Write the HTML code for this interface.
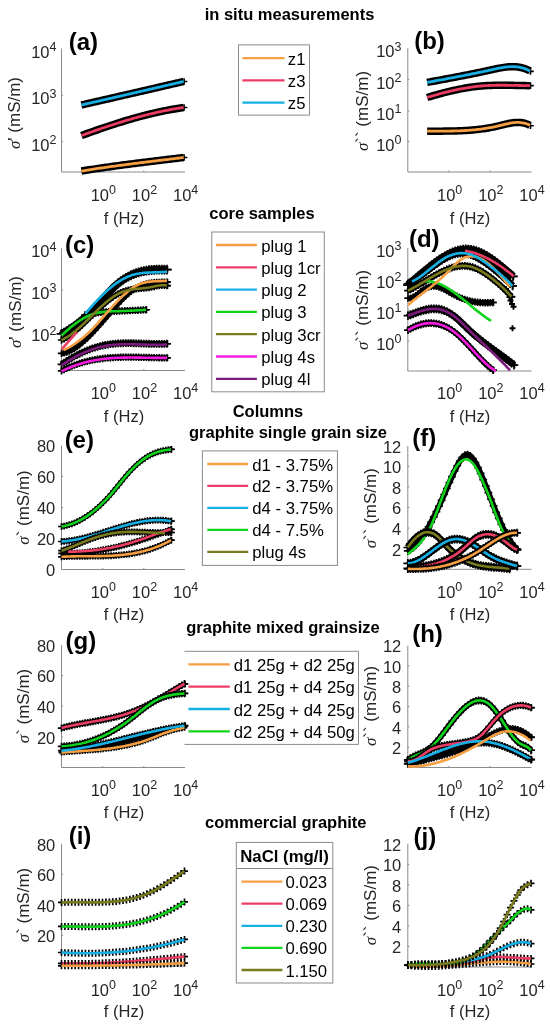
<!DOCTYPE html><html><head><meta charset="utf-8"><style>html,body{margin:0;padding:0;background:#fff;overflow:hidden;}svg{display:block;will-change:transform;}</style></head><body><svg width="550" height="1026" viewBox="0 0 550 1026" style="font-family:&quot;Liberation Sans&quot;,sans-serif">
<rect width="550" height="1026" fill="#fff"/>
<text x="289.5" y="20.3" font-size="16.5" text-anchor="middle" font-weight="bold" fill="#000" >in situ measurements</text>
<text x="262" y="218.9" font-size="16.5" text-anchor="middle" font-weight="bold" fill="#000" >core samples</text>
<text x="268" y="417" font-size="16.5" text-anchor="middle" font-weight="bold" fill="#000" >Columns</text>
<text x="288" y="437.9" font-size="16.5" text-anchor="middle" font-weight="bold" fill="#000" >graphite single grain size</text>
<text x="283" y="633.2" font-size="16.5" text-anchor="middle" font-weight="bold" fill="#000" >graphite mixed grainsize</text>
<text x="285.8" y="827.5" font-size="16.5" text-anchor="middle" font-weight="bold" fill="#000" >commercial graphite</text>
<path d="M61.5,48.5V172H185" fill="none" stroke="#8a8a8a" stroke-width="1"/>
<path d="M61.5,95.30h1.5" stroke="#8a8a8a" stroke-width="1"/>
<path d="M61.5,141.60h1.5" stroke="#8a8a8a" stroke-width="1"/>
<path d="M102.67,172v-1.5" stroke="#8a8a8a" stroke-width="1"/>
<path d="M143.83,172v-1.5" stroke="#8a8a8a" stroke-width="1"/>
<text x="56.5" y="58.00" font-size="16.5" text-anchor="end" fill="#262626">10<tspan font-size="12.5" dy="-6.7">4</tspan></text>
<text x="56.5" y="104.30" font-size="16.5" text-anchor="end" fill="#262626">10<tspan font-size="12.5" dy="-6.7">3</tspan></text>
<text x="56.5" y="150.60" font-size="16.5" text-anchor="end" fill="#262626">10<tspan font-size="12.5" dy="-6.7">2</tspan></text>
<text x="90.67" y="201" font-size="16.5" fill="#262626">10<tspan font-size="12.5" dy="-6.6">0</tspan></text>
<text x="131.83" y="201" font-size="16.5" fill="#262626">10<tspan font-size="12.5" dy="-6.6">2</tspan></text>
<text x="173.00" y="201" font-size="16.5" fill="#262626">10<tspan font-size="12.5" dy="-6.6">4</tspan></text>
<text x="124" y="223.5" font-size="16.5" text-anchor="middle" font-weight="normal" fill="#262626" >f (Hz)</text>
<text transform="translate(20,113) rotate(-90)" x="0" y="0" font-size="17" text-anchor="middle" fill="#262626"><tspan font-style="italic" font-family="Liberation Serif">σ</tspan>' (mS/m)</text>
<text x="83.4" y="49.6" font-size="24" text-anchor="middle" font-weight="bold" fill="#000" >(a)</text>
<path d="M81.40,104.97L82.93,104.63L84.45,104.28L85.98,103.94L87.50,103.59L89.03,103.24L90.55,102.90L92.08,102.55L93.60,102.20L95.13,101.85L96.65,101.51L98.18,101.16L99.70,100.81L101.23,100.46L102.76,100.11L104.28,99.76L105.81,99.42L107.33,99.07L108.86,98.72L110.38,98.37L111.91,98.02L113.43,97.67L114.96,97.32L116.48,96.97L118.01,96.62L119.53,96.27L121.06,95.92L122.59,95.56L124.11,95.21L125.64,94.86L127.16,94.51L128.69,94.16L130.21,93.81L131.74,93.46L133.26,93.11L134.79,92.75L136.31,92.40L137.84,92.05L139.36,91.70L140.89,91.35L142.41,90.99L143.94,90.64L145.47,90.29L146.99,89.94L148.52,89.59L150.04,89.23L151.57,88.88L153.09,88.53L154.62,88.18L156.14,87.82L157.67,87.47L159.19,87.12L160.72,86.77L162.24,86.41L163.77,86.06L165.30,85.71L166.82,85.36L168.35,85.00L169.87,84.65L171.40,84.30L172.92,83.95L174.45,83.59L175.97,83.24L177.50,82.89L179.02,82.54L180.55,82.19L182.07,81.83L183.60,81.48" fill="none" stroke="#000" stroke-width="7.5" stroke-linejoin="round"/>
<path d="M180.80,81.50H187.40M184.10,78.20V84.80" stroke="#000" stroke-width="1.6"/>
<path d="M81.40,104.97L82.93,104.63L84.45,104.28L85.98,103.94L87.50,103.59L89.03,103.24L90.55,102.90L92.08,102.55L93.60,102.20L95.13,101.85L96.65,101.51L98.18,101.16L99.70,100.81L101.23,100.46L102.76,100.11L104.28,99.76L105.81,99.42L107.33,99.07L108.86,98.72L110.38,98.37L111.91,98.02L113.43,97.67L114.96,97.32L116.48,96.97L118.01,96.62L119.53,96.27L121.06,95.92L122.59,95.56L124.11,95.21L125.64,94.86L127.16,94.51L128.69,94.16L130.21,93.81L131.74,93.46L133.26,93.11L134.79,92.75L136.31,92.40L137.84,92.05L139.36,91.70L140.89,91.35L142.41,90.99L143.94,90.64L145.47,90.29L146.99,89.94L148.52,89.59L150.04,89.23L151.57,88.88L153.09,88.53L154.62,88.18L156.14,87.82L157.67,87.47L159.19,87.12L160.72,86.77L162.24,86.41L163.77,86.06L165.30,85.71L166.82,85.36L168.35,85.00L169.87,84.65L171.40,84.30L172.92,83.95L174.45,83.59L175.97,83.24L177.50,82.89L179.02,82.54L180.55,82.19L182.07,81.83L183.60,81.48" fill="none" stroke="#16B0E4" stroke-width="2.8"/>
<path d="M81.40,135.56L82.93,135.01L84.45,134.45L85.98,133.90L87.50,133.35L89.03,132.81L90.55,132.26L92.08,131.72L93.60,131.18L95.13,130.65L96.65,130.12L98.18,129.59L99.70,129.06L101.23,128.53L102.76,128.01L104.28,127.50L105.81,126.98L107.33,126.47L108.86,125.97L110.38,125.46L111.91,124.97L113.43,124.47L114.96,123.98L116.48,123.49L118.01,123.01L119.53,122.53L121.06,122.06L122.59,121.59L124.11,121.12L125.64,120.66L127.16,120.21L128.69,119.75L130.21,119.31L131.74,118.87L133.26,118.43L134.79,118.00L136.31,117.58L137.84,117.16L139.36,116.74L140.89,116.33L142.41,115.93L143.94,115.53L145.47,115.14L146.99,114.76L148.52,114.38L150.04,114.00L151.57,113.64L153.09,113.27L154.62,112.92L156.14,112.57L157.67,112.23L159.19,111.90L160.72,111.57L162.24,111.25L163.77,110.94L165.30,110.63L166.82,110.33L168.35,110.04L169.87,109.75L171.40,109.48L172.92,109.21L174.45,108.94L175.97,108.69L177.50,108.44L179.02,108.20L180.55,107.97L182.07,107.75L183.60,107.54" fill="none" stroke="#000" stroke-width="7.5" stroke-linejoin="round"/>
<path d="M180.80,107.50H187.40M184.10,104.20V110.80" stroke="#000" stroke-width="1.6"/>
<path d="M81.40,135.56L82.93,135.01L84.45,134.45L85.98,133.90L87.50,133.35L89.03,132.81L90.55,132.26L92.08,131.72L93.60,131.18L95.13,130.65L96.65,130.12L98.18,129.59L99.70,129.06L101.23,128.53L102.76,128.01L104.28,127.50L105.81,126.98L107.33,126.47L108.86,125.97L110.38,125.46L111.91,124.97L113.43,124.47L114.96,123.98L116.48,123.49L118.01,123.01L119.53,122.53L121.06,122.06L122.59,121.59L124.11,121.12L125.64,120.66L127.16,120.21L128.69,119.75L130.21,119.31L131.74,118.87L133.26,118.43L134.79,118.00L136.31,117.58L137.84,117.16L139.36,116.74L140.89,116.33L142.41,115.93L143.94,115.53L145.47,115.14L146.99,114.76L148.52,114.38L150.04,114.00L151.57,113.64L153.09,113.27L154.62,112.92L156.14,112.57L157.67,112.23L159.19,111.90L160.72,111.57L162.24,111.25L163.77,110.94L165.30,110.63L166.82,110.33L168.35,110.04L169.87,109.75L171.40,109.48L172.92,109.21L174.45,108.94L175.97,108.69L177.50,108.44L179.02,108.20L180.55,107.97L182.07,107.75L183.60,107.54" fill="none" stroke="#EC3D64" stroke-width="2.8"/>
<path d="M81.40,171.01L82.93,170.77L84.45,170.53L85.98,170.29L87.50,170.05L89.03,169.81L90.55,169.58L92.08,169.35L93.60,169.12L95.13,168.89L96.65,168.66L98.18,168.44L99.70,168.21L101.23,167.99L102.76,167.77L104.28,167.55L105.81,167.33L107.33,167.12L108.86,166.91L110.38,166.69L111.91,166.48L113.43,166.27L114.96,166.06L116.48,165.86L118.01,165.65L119.53,165.45L121.06,165.24L122.59,165.04L124.11,164.84L125.64,164.64L127.16,164.44L128.69,164.24L130.21,164.05L131.74,163.85L133.26,163.65L134.79,163.46L136.31,163.27L137.84,163.07L139.36,162.88L140.89,162.69L142.41,162.50L143.94,162.31L145.47,162.12L146.99,161.93L148.52,161.75L150.04,161.56L151.57,161.37L153.09,161.19L154.62,161.00L156.14,160.82L157.67,160.63L159.19,160.45L160.72,160.26L162.24,160.08L163.77,159.89L165.30,159.71L166.82,159.53L168.35,159.34L169.87,159.16L171.40,158.98L172.92,158.79L174.45,158.61L175.97,158.43L177.50,158.24L179.02,158.06L180.55,157.88L182.07,157.69L183.60,157.51" fill="none" stroke="#000" stroke-width="7.5" stroke-linejoin="round"/>
<path d="M180.80,157.50H187.40M184.10,154.20V160.80" stroke="#000" stroke-width="1.6"/>
<path d="M81.40,171.01L82.93,170.77L84.45,170.53L85.98,170.29L87.50,170.05L89.03,169.81L90.55,169.58L92.08,169.35L93.60,169.12L95.13,168.89L96.65,168.66L98.18,168.44L99.70,168.21L101.23,167.99L102.76,167.77L104.28,167.55L105.81,167.33L107.33,167.12L108.86,166.91L110.38,166.69L111.91,166.48L113.43,166.27L114.96,166.06L116.48,165.86L118.01,165.65L119.53,165.45L121.06,165.24L122.59,165.04L124.11,164.84L125.64,164.64L127.16,164.44L128.69,164.24L130.21,164.05L131.74,163.85L133.26,163.65L134.79,163.46L136.31,163.27L137.84,163.07L139.36,162.88L140.89,162.69L142.41,162.50L143.94,162.31L145.47,162.12L146.99,161.93L148.52,161.75L150.04,161.56L151.57,161.37L153.09,161.19L154.62,161.00L156.14,160.82L157.67,160.63L159.19,160.45L160.72,160.26L162.24,160.08L163.77,159.89L165.30,159.71L166.82,159.53L168.35,159.34L169.87,159.16L171.40,158.98L172.92,158.79L174.45,158.61L175.97,158.43L177.50,158.24L179.02,158.06L180.55,157.88L182.07,157.69L183.60,157.51" fill="none" stroke="#F6A043" stroke-width="2.8"/>
<rect x="238.5" y="44.9" width="71" height="70.2" fill="#fff" stroke="#8a8a8a" stroke-width="1"/>
<path d="M242.4,58.20H284.5" stroke="#F6A043" stroke-width="2.3"/>
<text x="287.8" y="64.7" font-size="16.7" text-anchor="start" font-weight="normal" fill="#000" >z1</text>
<path d="M242.4,80.45H284.5" stroke="#EC3D64" stroke-width="2.3"/>
<text x="287.8" y="86.95" font-size="16.7" text-anchor="start" font-weight="normal" fill="#000" >z3</text>
<path d="M242.4,102.70H284.5" stroke="#16B0E4" stroke-width="2.3"/>
<text x="287.8" y="109.2" font-size="16.7" text-anchor="start" font-weight="normal" fill="#000" >z5</text>
<path d="M407.8,48.2V172H531.5" fill="none" stroke="#8a8a8a" stroke-width="1"/>
<path d="M407.8,79.60h1.5" stroke="#8a8a8a" stroke-width="1"/>
<path d="M407.8,111.00h1.5" stroke="#8a8a8a" stroke-width="1"/>
<path d="M407.8,141.60h1.5" stroke="#8a8a8a" stroke-width="1"/>
<path d="M448.97,172v-1.5" stroke="#8a8a8a" stroke-width="1"/>
<path d="M490.13,172v-1.5" stroke="#8a8a8a" stroke-width="1"/>
<text x="401.5" y="57.20" font-size="16.5" text-anchor="end" fill="#262626">10<tspan font-size="12.5" dy="-6.7">3</tspan></text>
<text x="401.5" y="88.60" font-size="16.5" text-anchor="end" fill="#262626">10<tspan font-size="12.5" dy="-6.7">2</tspan></text>
<text x="401.5" y="120.00" font-size="16.5" text-anchor="end" fill="#262626">10<tspan font-size="12.5" dy="-6.7">1</tspan></text>
<text x="401.5" y="150.60" font-size="16.5" text-anchor="end" fill="#262626">10<tspan font-size="12.5" dy="-6.7">0</tspan></text>
<text x="436.97" y="201" font-size="16.5" fill="#262626">10<tspan font-size="12.5" dy="-6.6">0</tspan></text>
<text x="478.13" y="201" font-size="16.5" fill="#262626">10<tspan font-size="12.5" dy="-6.6">2</tspan></text>
<text x="519.30" y="201" font-size="16.5" fill="#262626">10<tspan font-size="12.5" dy="-6.6">4</tspan></text>
<text x="470" y="223.5" font-size="16.5" text-anchor="middle" font-weight="normal" fill="#262626" >f (Hz)</text>
<text transform="translate(367.5,111) rotate(-90)" x="0" y="0" font-size="17" text-anchor="middle" fill="#262626"><tspan font-style="italic" font-family="Liberation Serif">σ</tspan>`` (mS/m)</text>
<text x="429.5" y="48.5" font-size="24" text-anchor="middle" font-weight="bold" fill="#000" >(b)</text>
<path d="M427.10,82.40L428.64,82.12L430.17,81.84L431.71,81.56L433.24,81.28L434.78,81.00L436.31,80.72L437.85,80.44L439.39,80.15L440.92,79.87L442.46,79.59L443.99,79.30L445.53,79.02L447.07,78.73L448.60,78.44L450.14,78.15L451.67,77.86L453.21,77.57L454.74,77.28L456.28,76.99L457.82,76.69L459.35,76.40L460.89,76.10L462.42,75.80L463.96,75.50L465.50,75.20L467.03,74.90L468.57,74.59L470.10,74.28L471.64,73.97L473.17,73.66L474.71,73.35L476.25,73.03L477.78,72.72L479.32,72.40L480.85,72.08L482.39,71.75L483.93,71.42L485.46,71.10L487.00,70.76L488.53,70.43L490.07,70.09L491.60,69.76L493.14,69.42L494.68,69.08L496.21,68.75L497.75,68.43L499.28,68.12L500.82,67.84L502.36,67.57L503.89,67.33L505.43,67.12L506.96,66.95L508.50,66.81L510.03,66.71L511.57,66.66L513.11,66.65L514.64,66.70L516.18,66.81L517.71,66.98L519.25,67.21L520.79,67.50L522.32,67.87L523.86,68.32L525.39,68.84L526.93,69.45L528.46,70.15L530.00,70.94" fill="none" stroke="#000" stroke-width="7.5" stroke-linejoin="round"/>
<path d="M527.20,71.40H533.80M530.50,68.10V74.70" stroke="#000" stroke-width="1.6"/>
<path d="M427.10,82.40L428.64,82.12L430.17,81.84L431.71,81.56L433.24,81.28L434.78,81.00L436.31,80.72L437.85,80.44L439.39,80.15L440.92,79.87L442.46,79.59L443.99,79.30L445.53,79.02L447.07,78.73L448.60,78.44L450.14,78.15L451.67,77.86L453.21,77.57L454.74,77.28L456.28,76.99L457.82,76.69L459.35,76.40L460.89,76.10L462.42,75.80L463.96,75.50L465.50,75.20L467.03,74.90L468.57,74.59L470.10,74.28L471.64,73.97L473.17,73.66L474.71,73.35L476.25,73.03L477.78,72.72L479.32,72.40L480.85,72.08L482.39,71.75L483.93,71.42L485.46,71.10L487.00,70.76L488.53,70.43L490.07,70.09L491.60,69.76L493.14,69.42L494.68,69.08L496.21,68.75L497.75,68.43L499.28,68.12L500.82,67.84L502.36,67.57L503.89,67.33L505.43,67.12L506.96,66.95L508.50,66.81L510.03,66.71L511.57,66.66L513.11,66.65L514.64,66.70L516.18,66.81L517.71,66.98L519.25,67.21L520.79,67.50L522.32,67.87L523.86,68.32L525.39,68.84L526.93,69.45L528.46,70.15L530.00,70.94" fill="none" stroke="#16B0E4" stroke-width="2.8"/>
<path d="M427.10,97.49L428.64,97.02L430.17,96.57L431.71,96.11L433.24,95.67L434.78,95.22L436.31,94.79L437.85,94.36L439.39,93.94L440.92,93.52L442.46,93.11L443.99,92.71L445.53,92.32L447.07,91.93L448.60,91.55L450.14,91.18L451.67,90.82L453.21,90.47L454.74,90.13L456.28,89.79L457.82,89.47L459.35,89.16L460.89,88.86L462.42,88.57L463.96,88.29L465.50,88.02L467.03,87.76L468.57,87.51L470.10,87.28L471.64,87.06L473.17,86.85L474.71,86.66L476.25,86.48L477.78,86.31L479.32,86.15L480.85,86.01L482.39,85.89L483.93,85.77L485.46,85.67L487.00,85.58L488.53,85.51L490.07,85.44L491.60,85.38L493.14,85.34L494.68,85.30L496.21,85.27L497.75,85.25L499.28,85.23L500.82,85.23L502.36,85.22L503.89,85.23L505.43,85.24L506.96,85.26L508.50,85.28L510.03,85.30L511.57,85.32L513.11,85.35L514.64,85.38L516.18,85.42L517.71,85.45L519.25,85.48L520.79,85.52L522.32,85.55L523.86,85.58L525.39,85.61L526.93,85.64L528.46,85.66L530.00,85.68" fill="none" stroke="#000" stroke-width="7.5" stroke-linejoin="round"/>
<path d="M527.20,85.60H533.80M530.50,82.30V88.90" stroke="#000" stroke-width="1.6"/>
<path d="M427.10,97.49L428.64,97.02L430.17,96.57L431.71,96.11L433.24,95.67L434.78,95.22L436.31,94.79L437.85,94.36L439.39,93.94L440.92,93.52L442.46,93.11L443.99,92.71L445.53,92.32L447.07,91.93L448.60,91.55L450.14,91.18L451.67,90.82L453.21,90.47L454.74,90.13L456.28,89.79L457.82,89.47L459.35,89.16L460.89,88.86L462.42,88.57L463.96,88.29L465.50,88.02L467.03,87.76L468.57,87.51L470.10,87.28L471.64,87.06L473.17,86.85L474.71,86.66L476.25,86.48L477.78,86.31L479.32,86.15L480.85,86.01L482.39,85.89L483.93,85.77L485.46,85.67L487.00,85.58L488.53,85.51L490.07,85.44L491.60,85.38L493.14,85.34L494.68,85.30L496.21,85.27L497.75,85.25L499.28,85.23L500.82,85.23L502.36,85.22L503.89,85.23L505.43,85.24L506.96,85.26L508.50,85.28L510.03,85.30L511.57,85.32L513.11,85.35L514.64,85.38L516.18,85.42L517.71,85.45L519.25,85.48L520.79,85.52L522.32,85.55L523.86,85.58L525.39,85.61L526.93,85.64L528.46,85.66L530.00,85.68" fill="none" stroke="#EC3D64" stroke-width="2.8"/>
<path d="M427.10,131.15L428.64,131.15L430.17,131.15L431.71,131.15L433.24,131.15L434.78,131.15L436.31,131.15L437.85,131.14L439.39,131.14L440.92,131.14L442.46,131.13L443.99,131.12L445.53,131.11L447.07,131.09L448.60,131.07L450.14,131.05L451.67,131.02L453.21,130.99L454.74,130.95L456.28,130.91L457.82,130.86L459.35,130.80L460.89,130.74L462.42,130.67L463.96,130.59L465.50,130.50L467.03,130.41L468.57,130.30L470.10,130.19L471.64,130.06L473.17,129.93L474.71,129.79L476.25,129.63L477.78,129.47L479.32,129.29L480.85,129.10L482.39,128.89L483.93,128.68L485.46,128.45L487.00,128.20L488.53,127.95L490.07,127.67L491.60,127.39L493.14,127.08L494.68,126.77L496.21,126.43L497.75,126.08L499.28,125.71L500.82,125.33L502.36,124.95L503.89,124.57L505.43,124.20L506.96,123.84L508.50,123.51L510.03,123.21L511.57,122.95L513.11,122.73L514.64,122.57L516.18,122.46L517.71,122.42L519.25,122.45L520.79,122.56L522.32,122.76L523.86,123.05L525.39,123.45L526.93,123.95L528.46,124.56L530.00,125.30" fill="none" stroke="#000" stroke-width="7.5" stroke-linejoin="round"/>
<path d="M527.20,125.70H533.80M530.50,122.40V129.00" stroke="#000" stroke-width="1.6"/>
<path d="M427.10,131.15L428.64,131.15L430.17,131.15L431.71,131.15L433.24,131.15L434.78,131.15L436.31,131.15L437.85,131.14L439.39,131.14L440.92,131.14L442.46,131.13L443.99,131.12L445.53,131.11L447.07,131.09L448.60,131.07L450.14,131.05L451.67,131.02L453.21,130.99L454.74,130.95L456.28,130.91L457.82,130.86L459.35,130.80L460.89,130.74L462.42,130.67L463.96,130.59L465.50,130.50L467.03,130.41L468.57,130.30L470.10,130.19L471.64,130.06L473.17,129.93L474.71,129.79L476.25,129.63L477.78,129.47L479.32,129.29L480.85,129.10L482.39,128.89L483.93,128.68L485.46,128.45L487.00,128.20L488.53,127.95L490.07,127.67L491.60,127.39L493.14,127.08L494.68,126.77L496.21,126.43L497.75,126.08L499.28,125.71L500.82,125.33L502.36,124.95L503.89,124.57L505.43,124.20L506.96,123.84L508.50,123.51L510.03,123.21L511.57,122.95L513.11,122.73L514.64,122.57L516.18,122.46L517.71,122.42L519.25,122.45L520.79,122.56L522.32,122.76L523.86,123.05L525.39,123.45L526.93,123.95L528.46,124.56L530.00,125.30" fill="none" stroke="#F6A043" stroke-width="2.8"/>
<path d="M61.5,248.3V370.5H185" fill="none" stroke="#8a8a8a" stroke-width="1"/>
<path d="M61.5,290.00h1.5" stroke="#8a8a8a" stroke-width="1"/>
<path d="M61.5,332.30h1.5" stroke="#8a8a8a" stroke-width="1"/>
<path d="M102.67,370.5v-1.5" stroke="#8a8a8a" stroke-width="1"/>
<path d="M143.83,370.5v-1.5" stroke="#8a8a8a" stroke-width="1"/>
<text x="56.5" y="257.30" font-size="16.5" text-anchor="end" fill="#262626">10<tspan font-size="12.5" dy="-6.7">4</tspan></text>
<text x="56.5" y="299.00" font-size="16.5" text-anchor="end" fill="#262626">10<tspan font-size="12.5" dy="-6.7">3</tspan></text>
<text x="56.5" y="341.30" font-size="16.5" text-anchor="end" fill="#262626">10<tspan font-size="12.5" dy="-6.7">2</tspan></text>
<text x="90.67" y="399" font-size="16.5" fill="#262626">10<tspan font-size="12.5" dy="-6.6">0</tspan></text>
<text x="131.83" y="399" font-size="16.5" fill="#262626">10<tspan font-size="12.5" dy="-6.6">2</tspan></text>
<text x="173.00" y="399" font-size="16.5" fill="#262626">10<tspan font-size="12.5" dy="-6.6">4</tspan></text>
<text x="124" y="421.5" font-size="16.5" text-anchor="middle" font-weight="normal" fill="#262626" >f (Hz)</text>
<text transform="translate(21,312) rotate(-90)" x="0" y="0" font-size="17" text-anchor="middle" fill="#262626"><tspan font-style="italic" font-family="Liberation Serif">σ</tspan>' (mS/m)</text>
<text x="79.7" y="252.6" font-size="24" text-anchor="middle" font-weight="bold" fill="#000" >(c)</text>
<path d="M61.50,333.92L63.03,333.11L64.56,332.27L66.09,331.39L67.62,330.48L69.14,329.53L70.67,328.55L72.20,327.52L73.73,326.47L75.26,325.37L76.79,324.24L78.32,323.07L79.85,321.86L81.38,320.61L82.91,319.32L84.43,318.00L85.96,316.64L87.49,315.23L89.02,313.79L90.55,312.31L92.08,310.79L93.61,309.23L95.14,307.62L96.67,305.98L98.20,304.30L99.72,302.59L101.25,300.86L102.78,299.13L104.31,297.40L105.84,295.67L107.37,293.97L108.90,292.30L110.43,290.67L111.96,289.09L113.49,287.57L115.01,286.12L116.54,284.75L118.07,283.45L119.60,282.23L121.13,281.08L122.66,280.00L124.19,278.98L125.72,278.04L127.25,277.15L128.78,276.33L130.30,275.57L131.83,274.87L133.36,274.22L134.89,273.62L136.42,273.08L137.95,272.58L139.48,272.13L141.01,271.73L142.54,271.36L144.07,271.04L145.59,270.76L147.12,270.51L148.65,270.30L150.18,270.12L151.71,269.96L153.24,269.84L154.77,269.74L156.30,269.66L157.83,269.61L159.36,269.58L160.88,269.56L162.41,269.55L163.94,269.56L165.47,269.58L167.00,269.61" fill="none" stroke="#000" stroke-width="7.80" stroke-linejoin="round"/>
<path d="M56.60,333.92h9.80M61.50,329.02v9.80M59.17,332.54h9.80M64.07,327.64v9.80M61.75,331.06h9.80M66.65,326.16v9.80M64.32,329.48h9.80M69.22,324.58v9.80M66.89,327.80h9.80M71.79,322.90v9.80M69.47,326.02h9.80M74.37,321.12v9.80M72.04,324.12h9.80M76.94,319.22v9.80M74.61,322.13h9.80M79.51,317.23v9.80M77.19,320.02h9.80M82.09,315.12v9.80M79.76,317.80h9.80M84.66,312.90v9.80M82.33,315.48h9.80M87.23,310.58v9.80M84.90,313.04h9.80M89.80,308.14v9.80M87.48,310.49h9.80M92.38,305.59v9.80M90.05,307.82h9.80M94.95,302.92v9.80M92.62,305.04h9.80M97.52,300.14v9.80M95.20,302.17h9.80M100.10,297.27v9.80M97.77,299.25h9.80M102.67,294.35v9.80M100.34,296.34h9.80M105.24,291.44v9.80M102.92,293.48h9.80M107.82,288.58v9.80M105.49,290.71h9.80M110.39,285.81v9.80M108.06,288.09h9.80M112.96,283.19v9.80M110.64,285.65h9.80M115.54,280.75v9.80M113.21,283.42h9.80M118.11,278.52v9.80M115.78,281.41h9.80M120.68,276.51v9.80M118.36,279.59h9.80M123.26,274.69v9.80M120.93,277.97h9.80M125.83,273.07v9.80M123.50,276.53h9.80M128.40,271.63v9.80M126.08,275.25h9.80M130.98,270.35v9.80M128.65,274.14h9.80M133.55,269.24v9.80M131.22,273.18h9.80M136.12,268.28v9.80M133.80,272.35h9.80M138.70,267.45v9.80M136.37,271.66h9.80M141.27,266.76v9.80M138.94,271.09h9.80M143.84,266.19v9.80M141.51,270.62h9.80M146.41,265.72v9.80M144.09,270.25h9.80M148.99,265.35v9.80M146.66,269.98h9.80M151.56,265.08v9.80M149.23,269.78h9.80M154.13,264.88v9.80M151.81,269.65h9.80M156.71,264.75v9.80M154.38,269.58h9.80M159.28,264.68v9.80M156.95,269.55h9.80M161.85,264.65v9.80M159.53,269.57h9.80M164.43,264.67v9.80M162.10,269.61h9.80M167.00,264.71v9.80" stroke="#000" stroke-width="1.7" fill="none"/>
<path d="M164.20,269.50H170.80M167.50,266.20V272.80" stroke="#000" stroke-width="1.6"/>
<path d="M61.50,353.43L63.03,353.19L64.56,352.85L66.09,352.41L67.62,351.87L69.14,351.24L70.67,350.51L72.20,349.71L73.73,348.82L75.26,347.86L76.79,346.81L78.32,345.70L79.85,344.53L81.38,343.28L82.91,341.98L84.43,340.62L85.96,339.21L87.49,337.75L89.02,336.25L90.55,334.70L92.08,333.11L93.61,331.49L95.14,329.84L96.67,328.16L98.20,326.46L99.72,324.73L101.25,322.99L102.78,321.24L104.31,319.48L105.84,317.71L107.37,315.94L108.90,314.17L110.43,312.40L111.96,310.65L113.49,308.90L115.01,307.17L116.54,305.47L118.07,303.78L119.60,302.13L121.13,300.52L122.66,298.95L124.19,297.43L125.72,295.96L127.25,294.56L128.78,293.22L130.30,291.96L131.83,290.77L133.36,289.67L134.89,288.67L136.42,287.76L137.95,286.94L139.48,286.21L141.01,285.56L142.54,284.99L144.07,284.49L145.59,284.06L147.12,283.69L148.65,283.37L150.18,283.11L151.71,282.89L153.24,282.71L154.77,282.57L156.30,282.46L157.83,282.37L159.36,282.30L160.88,282.25L162.41,282.21L163.94,282.17L165.47,282.13L167.00,282.08" fill="none" stroke="#000" stroke-width="5.30" stroke-linejoin="round"/>
<path d="M57.85,353.43h7.30M61.50,349.78v7.30M60.42,352.97h7.30M64.07,349.32v7.30M63.00,352.22h7.30M66.65,348.57v7.30M65.57,351.20h7.30M69.22,347.55v7.30M68.14,349.93h7.30M71.79,346.28v7.30M70.72,348.43h7.30M74.37,344.78v7.30M73.29,346.71h7.30M76.94,343.06v7.30M75.86,344.79h7.30M79.51,341.14v7.30M78.44,342.69h7.30M82.09,339.04v7.30M81.01,340.42h7.30M84.66,336.77v7.30M83.58,338.00h7.30M87.23,334.35v7.30M86.15,335.46h7.30M89.80,331.81v7.30M88.73,332.80h7.30M92.38,329.15v7.30M91.30,330.04h7.30M94.95,326.39v7.30M93.87,327.21h7.30M97.52,323.56v7.30M96.45,324.31h7.30M100.10,320.66v7.30M99.02,321.37h7.30M102.67,317.72v7.30M101.59,318.40h7.30M105.24,314.75v7.30M104.17,315.42h7.30M107.82,311.77v7.30M106.74,312.44h7.30M110.39,308.79v7.30M109.31,309.50h7.30M112.96,305.85v7.30M111.89,306.59h7.30M115.54,302.94v7.30M114.46,303.74h7.30M118.11,300.09v7.30M117.03,300.99h7.30M120.68,297.34v7.30M119.61,298.35h7.30M123.26,294.70v7.30M122.18,295.86h7.30M125.83,292.21v7.30M124.75,293.54h7.30M128.40,289.89v7.30M127.33,291.43h7.30M130.98,287.78v7.30M129.90,289.55h7.30M133.55,285.90v7.30M132.47,287.93h7.30M136.12,284.28v7.30M135.05,286.57h7.30M138.70,282.92v7.30M137.62,285.46h7.30M141.27,281.81v7.30M140.19,284.56h7.30M143.84,280.91v7.30M142.76,283.85h7.30M146.41,280.20v7.30M145.34,283.31h7.30M148.99,279.66v7.30M147.91,282.91h7.30M151.56,279.26v7.30M150.48,282.63h7.30M154.13,278.98v7.30M153.06,282.43h7.30M156.71,278.78v7.30M155.63,282.31h7.30M159.28,278.66v7.30M158.20,282.22h7.30M161.85,278.57v7.30M160.78,282.15h7.30M164.43,278.50v7.30M163.35,282.08h7.30M167.00,278.43v7.30" stroke="#000" stroke-width="1.7" fill="none"/>
<path d="M164.20,282.00H170.80M167.50,278.70V285.30" stroke="#000" stroke-width="1.6"/>
<path d="M61.50,340.01L63.03,339.32L64.56,338.54L66.09,337.69L67.62,336.76L69.14,335.76L70.67,334.70L72.20,333.57L73.73,332.39L75.26,331.16L76.79,329.87L78.32,328.55L79.85,327.19L81.38,325.79L82.91,324.37L84.43,322.92L85.96,321.45L87.49,319.96L89.02,318.47L90.55,316.96L92.08,315.46L93.61,313.95L95.14,312.46L96.67,310.97L98.20,309.50L99.72,308.05L101.25,306.63L102.78,305.24L104.31,303.87L105.84,302.55L107.37,301.27L108.90,300.04L110.43,298.86L111.96,297.74L113.49,296.68L115.01,295.68L116.54,294.76L118.07,293.91L119.60,293.13L121.13,292.45L122.66,291.84L124.19,291.30L125.72,290.83L127.25,290.43L128.78,290.07L130.30,289.77L131.83,289.51L133.36,289.28L134.89,289.08L136.42,288.91L137.95,288.75L139.48,288.60L141.01,288.45L142.54,288.30L144.07,288.14L145.59,287.97L147.12,287.77L148.65,287.55L150.18,287.29L151.71,286.99L153.24,286.67L154.77,286.35L156.30,286.03L157.83,285.75L159.36,285.51L160.88,285.32L162.41,285.22L163.94,285.21L165.47,285.31L167.00,285.53" fill="none" stroke="#000" stroke-width="5.30" stroke-linejoin="round"/>
<path d="M57.85,340.01h7.30M61.50,336.36v7.30M60.42,338.80h7.30M64.07,335.15v7.30M63.00,337.36h7.30M66.65,333.71v7.30M65.57,335.71h7.30M69.22,332.06v7.30M68.14,333.88h7.30M71.79,330.23v7.30M70.72,331.88h7.30M74.37,328.23v7.30M73.29,329.75h7.30M76.94,326.10v7.30M75.86,327.49h7.30M79.51,323.84v7.30M78.44,325.14h7.30M82.09,321.49v7.30M81.01,322.70h7.30M84.66,319.05v7.30M83.58,320.22h7.30M87.23,316.57v7.30M86.15,317.70h7.30M89.80,314.05v7.30M88.73,315.16h7.30M92.38,311.51v7.30M91.30,312.64h7.30M94.95,308.99v7.30M93.87,310.15h7.30M97.52,306.50v7.30M96.45,307.70h7.30M100.10,304.05v7.30M99.02,305.34h7.30M102.67,301.69v7.30M101.59,303.06h7.30M105.24,299.41v7.30M104.17,300.91h7.30M107.82,297.26v7.30M106.74,298.89h7.30M110.39,295.24v7.30M109.31,297.03h7.30M112.96,293.38v7.30M111.89,295.36h7.30M115.54,291.71v7.30M114.46,293.89h7.30M118.11,290.24v7.30M117.03,292.64h7.30M120.68,288.99v7.30M119.61,291.62h7.30M123.26,287.97v7.30M122.18,290.80h7.30M125.83,287.15v7.30M124.75,290.16h7.30M128.40,286.51v7.30M127.33,289.65h7.30M130.98,286.00v7.30M129.90,289.26h7.30M133.55,285.61v7.30M132.47,288.94h7.30M136.12,285.29v7.30M135.05,288.67h7.30M138.70,285.02v7.30M137.62,288.43h7.30M141.27,284.78v7.30M140.19,288.17h7.30M143.84,284.52v7.30M142.76,287.87h7.30M146.41,284.22v7.30M145.34,287.49h7.30M148.99,283.84v7.30M147.91,287.02h7.30M151.56,283.37v7.30M150.48,286.48h7.30M154.13,282.83v7.30M153.06,285.95h7.30M156.71,282.30v7.30M155.63,285.52h7.30M159.28,281.87v7.30M158.20,285.25h7.30M161.85,281.60v7.30M160.78,285.23h7.30M164.43,281.58v7.30M163.35,285.53h7.30M167.00,281.88v7.30" stroke="#000" stroke-width="1.7" fill="none"/>
<path d="M164.20,285.60H170.80M167.50,282.30V288.90" stroke="#000" stroke-width="1.6"/>
<path d="M85.00,314.96L86.56,314.62L88.13,314.30L89.69,314.00L91.26,313.71L92.82,313.45L94.38,313.20L95.95,312.97L97.51,312.76L99.08,312.56L100.64,312.38L102.21,312.20L103.77,312.04L105.33,311.90L106.90,311.76L108.46,311.64L110.03,311.52L111.59,311.42L113.15,311.32L114.72,311.23L116.28,311.14L117.85,311.06L119.41,310.99L120.97,310.92L122.54,310.85L124.10,310.79L125.67,310.73L127.23,310.67L128.79,310.61L130.36,310.55L131.92,310.49L133.49,310.43L135.05,310.36L136.62,310.30L138.18,310.22L139.74,310.15L141.31,310.06L142.87,309.97L144.44,309.88L146.00,309.77" fill="none" stroke="#000" stroke-width="5.30" stroke-linejoin="round"/>
<path d="M81.35,314.96h7.30M85.00,311.31v7.30M84.00,314.39h7.30M87.65,310.74v7.30M86.65,313.88h7.30M90.30,310.23v7.30M89.31,313.43h7.30M92.96,309.78v7.30M91.96,313.02h7.30M95.61,309.37v7.30M94.61,312.66h7.30M98.26,309.01v7.30M97.26,312.34h7.30M100.91,308.69v7.30M99.92,312.07h7.30M103.57,308.42v7.30M102.57,311.82h7.30M106.22,308.17v7.30M105.22,311.61h7.30M108.87,307.96v7.30M107.87,311.42h7.30M111.52,307.77v7.30M110.52,311.26h7.30M114.17,307.61v7.30M113.18,311.11h7.30M116.83,307.46v7.30M115.83,310.99h7.30M119.48,307.34v7.30M118.48,310.87h7.30M122.13,307.22v7.30M121.13,310.76h7.30M124.78,307.11v7.30M123.78,310.66h7.30M127.43,307.01v7.30M126.44,310.56h7.30M130.09,306.91v7.30M129.09,310.46h7.30M132.74,306.81v7.30M131.74,310.35h7.30M135.39,306.70v7.30M134.39,310.23h7.30M138.04,306.58v7.30M137.05,310.10h7.30M140.70,306.45v7.30M139.70,309.95h7.30M143.35,306.30v7.30M142.35,309.77h7.30M146.00,306.12v7.30" stroke="#000" stroke-width="1.7" fill="none"/>
<path d="M143.20,309.80H149.80M146.50,306.50V313.10" stroke="#000" stroke-width="1.6"/>
<path d="M61.50,364.30L63.03,363.29L64.56,362.30L66.09,361.33L67.62,360.37L69.14,359.44L70.67,358.54L72.20,357.65L73.73,356.79L75.26,355.95L76.79,355.14L78.32,354.36L79.85,353.60L81.38,352.87L82.91,352.16L84.43,351.48L85.96,350.83L87.49,350.21L89.02,349.61L90.55,349.04L92.08,348.50L93.61,347.98L95.14,347.50L96.67,347.04L98.20,346.61L99.72,346.21L101.25,345.83L102.78,345.49L104.31,345.17L105.84,344.88L107.37,344.62L108.90,344.39L110.43,344.18L111.96,343.99L113.49,343.83L115.01,343.68L116.54,343.56L118.07,343.46L119.60,343.37L121.13,343.30L122.66,343.25L124.19,343.22L125.72,343.19L127.25,343.18L128.78,343.18L130.30,343.20L131.83,343.22L133.36,343.25L134.89,343.28L136.42,343.33L137.95,343.37L139.48,343.43L141.01,343.48L142.54,343.54L144.07,343.59L145.59,343.65L147.12,343.70L148.65,343.76L150.18,343.80L151.71,343.85L153.24,343.89L154.77,343.92L156.30,343.94L157.83,343.95L159.36,343.95L160.88,343.94L162.41,343.92L163.94,343.88L165.47,343.83L167.00,343.77" fill="none" stroke="#000" stroke-width="5.80" stroke-linejoin="round"/>
<path d="M57.60,364.30h7.80M61.50,360.40v7.80M60.17,362.61h7.80M64.07,358.71v7.80M62.75,360.98h7.80M66.65,357.08v7.80M65.32,359.40h7.80M69.22,355.50v7.80M67.89,357.89h7.80M71.79,353.99v7.80M70.47,356.44h7.80M74.37,352.54v7.80M73.04,355.06h7.80M76.94,351.16v7.80M75.61,353.76h7.80M79.51,349.86v7.80M78.19,352.54h7.80M82.09,348.64v7.80M80.76,351.38h7.80M84.66,347.48v7.80M83.33,350.31h7.80M87.23,346.41v7.80M85.90,349.31h7.80M89.80,345.41v7.80M88.48,348.40h7.80M92.38,344.50v7.80M91.05,347.56h7.80M94.95,343.66v7.80M93.62,346.80h7.80M97.52,342.90v7.80M96.20,346.11h7.80M100.10,342.21v7.80M98.77,345.51h7.80M102.67,341.61v7.80M101.34,344.99h7.80M105.24,341.09v7.80M103.92,344.55h7.80M107.82,340.65v7.80M106.49,344.18h7.80M110.39,340.28v7.80M109.06,343.88h7.80M112.96,339.98v7.80M111.64,343.64h7.80M115.54,339.74v7.80M114.21,343.45h7.80M118.11,339.55v7.80M116.78,343.32h7.80M120.68,339.42v7.80M119.36,343.24h7.80M123.26,339.34v7.80M121.93,343.19h7.80M125.83,339.29v7.80M124.50,343.18h7.80M128.40,339.28v7.80M127.08,343.20h7.80M130.98,339.30v7.80M129.65,343.25h7.80M133.55,339.35v7.80M132.22,343.32h7.80M136.12,339.42v7.80M134.80,343.40h7.80M138.70,339.50v7.80M137.37,343.49h7.80M141.27,339.59v7.80M139.94,343.59h7.80M143.84,339.69v7.80M142.51,343.68h7.80M146.41,339.78v7.80M145.09,343.77h7.80M148.99,339.87v7.80M147.66,343.84h7.80M151.56,339.94v7.80M150.23,343.90h7.80M154.13,340.00v7.80M152.81,343.94h7.80M156.71,340.04v7.80M155.38,343.95h7.80M159.28,340.05v7.80M157.95,343.93h7.80M161.85,340.03v7.80M160.53,343.87h7.80M164.43,339.97v7.80M163.10,343.77h7.80M167.00,339.87v7.80" stroke="#000" stroke-width="1.7" fill="none"/>
<path d="M164.20,343.80H170.80M167.50,340.50V347.10" stroke="#000" stroke-width="1.6"/>
<path d="M61.50,370.89L63.03,370.11L64.56,369.36L66.09,368.63L67.62,367.94L69.14,367.27L70.67,366.63L72.20,366.01L73.73,365.43L75.26,364.86L76.79,364.33L78.32,363.81L79.85,363.32L81.38,362.86L82.91,362.41L84.43,361.99L85.96,361.60L87.49,361.22L89.02,360.86L90.55,360.52L92.08,360.21L93.61,359.91L95.14,359.63L96.67,359.37L98.20,359.13L99.72,358.90L101.25,358.69L102.78,358.50L104.31,358.32L105.84,358.15L107.37,358.00L108.90,357.87L110.43,357.75L111.96,357.64L113.49,357.54L115.01,357.46L116.54,357.38L118.07,357.32L119.60,357.27L121.13,357.23L122.66,357.19L124.19,357.17L125.72,357.15L127.25,357.14L128.78,357.14L130.30,357.14L131.83,357.15L133.36,357.17L134.89,357.19L136.42,357.22L137.95,357.25L139.48,357.28L141.01,357.31L142.54,357.35L144.07,357.39L145.59,357.43L147.12,357.47L148.65,357.52L150.18,357.56L151.71,357.60L153.24,357.64L154.77,357.67L156.30,357.71L157.83,357.74L159.36,357.77L160.88,357.79L162.41,357.82L163.94,357.83L165.47,357.84L167.00,357.84" fill="none" stroke="#000" stroke-width="5.30" stroke-linejoin="round"/>
<path d="M57.85,370.89h7.30M61.50,367.24v7.30M60.42,369.59h7.30M64.07,365.94v7.30M63.00,368.37h7.30M66.65,364.72v7.30M65.57,367.24h7.30M69.22,363.59v7.30M68.14,366.18h7.30M71.79,362.53v7.30M70.72,365.19h7.30M74.37,361.54v7.30M73.29,364.28h7.30M76.94,360.63v7.30M75.86,363.43h7.30M79.51,359.78v7.30M78.44,362.65h7.30M82.09,359.00v7.30M81.01,361.93h7.30M84.66,358.28v7.30M83.58,361.28h7.30M87.23,357.63v7.30M86.15,360.69h7.30M89.80,357.04v7.30M88.73,360.15h7.30M92.38,356.50v7.30M91.30,359.66h7.30M94.95,356.01v7.30M93.87,359.23h7.30M97.52,355.58v7.30M96.45,358.85h7.30M100.10,355.20v7.30M99.02,358.51h7.30M102.67,354.86v7.30M101.59,358.22h7.30M105.24,354.57v7.30M104.17,357.96h7.30M107.82,354.31v7.30M106.74,357.75h7.30M110.39,354.10v7.30M109.31,357.57h7.30M112.96,353.92v7.30M111.89,357.43h7.30M115.54,353.78v7.30M114.46,357.32h7.30M118.11,353.67v7.30M117.03,357.24h7.30M120.68,353.59v7.30M119.61,357.18h7.30M123.26,353.53v7.30M122.18,357.15h7.30M125.83,353.50v7.30M124.75,357.14h7.30M128.40,353.49v7.30M127.33,357.15h7.30M130.98,353.50v7.30M129.90,357.17h7.30M133.55,353.52v7.30M132.47,357.21h7.30M136.12,353.56v7.30M135.05,357.26h7.30M138.70,353.61v7.30M137.62,357.32h7.30M141.27,353.67v7.30M140.19,357.39h7.30M143.84,353.74v7.30M142.76,357.45h7.30M146.41,353.80v7.30M145.34,357.52h7.30M148.99,353.87v7.30M147.91,357.59h7.30M151.56,353.94v7.30M150.48,357.66h7.30M154.13,354.01v7.30M153.06,357.72h7.30M156.71,354.07v7.30M155.63,357.77h7.30M159.28,354.12v7.30M158.20,357.81h7.30M161.85,354.16v7.30M160.78,357.83h7.30M164.43,354.18v7.30M163.35,357.84h7.30M167.00,354.19v7.30" stroke="#000" stroke-width="1.7" fill="none"/>
<path d="M164.20,357.80H170.80M167.50,354.50V361.10" stroke="#000" stroke-width="1.6"/>
<path d="M61.50,335.55L63.04,334.12L64.57,332.70L66.11,331.32L67.65,329.97L69.18,328.65L70.72,327.36L72.25,326.11L73.79,324.90L75.33,323.73L76.86,322.61L78.40,321.53L79.94,320.50L81.47,319.52L83.01,318.60L84.55,317.73L86.08,316.92L87.62,316.17L89.15,315.48L90.69,314.85L92.23,314.29L93.76,313.80L95.30,313.36L96.84,312.97L98.37,312.64L99.91,312.36L101.45,312.12L102.98,311.92L104.52,311.76L106.05,311.63L107.59,311.52L109.13,311.44L110.66,311.37L112.20,311.32L113.74,311.27L115.27,311.23L116.81,311.18L118.35,311.13L119.88,311.09L121.42,311.03L122.95,310.98L124.49,310.93L126.03,310.87L127.56,310.80L129.10,310.74L130.64,310.67L132.17,310.60L133.71,310.52L135.25,310.44L136.78,310.36L138.32,310.27L139.85,310.18L141.39,310.08L142.93,309.98L144.46,309.87L146.00,309.76" fill="none" stroke="#12D41E" stroke-width="2.6"/>
<path d="M61.60,349.50 C62.83,348.08 66.43,343.95 69.00,341.00 C71.57,338.05 75.67,333.33 77.00,331.80" fill="none" stroke="#EC3D64" stroke-width="2.6"/>
<path d="M63.50,350.14L65.02,349.44L66.54,348.69L68.07,347.90L69.59,347.05L71.11,346.17L72.63,345.24L74.15,344.26L75.68,343.23L77.20,342.16L78.72,341.05L80.24,339.88L81.76,338.68L83.29,337.42L84.81,336.12L86.33,334.78L87.85,333.38L89.38,331.94L90.90,330.46L92.42,328.93L93.94,327.35L95.46,325.73L96.99,324.08L98.51,322.39L100.03,320.68L101.55,318.96L103.07,317.22L104.60,315.47L106.12,313.72L107.64,311.98L109.16,310.25L110.68,308.53L112.21,306.83L113.73,305.16L115.25,303.53L116.77,301.93L118.29,300.36L119.82,298.84L121.34,297.36L122.86,295.92L124.38,294.51L125.90,293.16L127.43,291.85L128.95,290.59L130.47,289.41L131.99,288.30L133.51,287.27L135.04,286.34L136.56,285.51L138.08,284.78L139.60,284.14L141.12,283.59L142.65,283.11L144.17,282.70L145.69,282.36L147.21,282.08L148.74,281.85L150.26,281.66L151.78,281.52L153.30,281.41L154.82,281.32L156.35,281.25L157.87,281.20L159.39,281.16L160.91,281.11L162.43,281.06L163.96,281.00L165.48,280.92L167.00,280.82" fill="none" stroke="#F6A043" stroke-width="2.6"/>
<path d="M61.50,340.01L63.03,339.32L64.56,338.54L66.09,337.69L67.62,336.76L69.14,335.76L70.67,334.70L72.20,333.57L73.73,332.39L75.26,331.16L76.79,329.87L78.32,328.55L79.85,327.19L81.38,325.79L82.91,324.37L84.43,322.92L85.96,321.45L87.49,319.96L89.02,318.47L90.55,316.96L92.08,315.46L93.61,313.95L95.14,312.46L96.67,310.97L98.20,309.50L99.72,308.05L101.25,306.63L102.78,305.24L104.31,303.87L105.84,302.55L107.37,301.27L108.90,300.04L110.43,298.86L111.96,297.74L113.49,296.68L115.01,295.68L116.54,294.76L118.07,293.91L119.60,293.13L121.13,292.45L122.66,291.84L124.19,291.30L125.72,290.83L127.25,290.43L128.78,290.07L130.30,289.77L131.83,289.51L133.36,289.28L134.89,289.08L136.42,288.91L137.95,288.75L139.48,288.60L141.01,288.45L142.54,288.30L144.07,288.14L145.59,287.97L147.12,287.77L148.65,287.55L150.18,287.29L151.71,286.99L153.24,286.67L154.77,286.35L156.30,286.03L157.83,285.75L159.36,285.51L160.88,285.32L162.41,285.22L163.94,285.21L165.47,285.31L167.00,285.53" fill="none" stroke="#7A7A1E" stroke-width="2.6"/>
<path d="M85.30,313.78L86.84,311.95L88.38,310.14L89.92,308.36L91.47,306.60L93.01,304.87L94.55,303.18L96.09,301.51L97.63,299.88L99.17,298.28L100.72,296.72L102.26,295.20L103.80,293.71L105.34,292.27L106.88,290.87L108.42,289.51L109.96,288.19L111.51,286.92L113.05,285.70L114.59,284.53L116.13,283.41L117.67,282.34L119.21,281.33L120.75,280.37L122.30,279.47L123.84,278.62L125.38,277.84L126.92,277.11L128.46,276.45L130.00,275.85L131.55,275.32L133.09,274.84L134.63,274.43L136.17,274.06L137.71,273.75L139.25,273.48L140.79,273.25L142.34,273.06L143.88,272.90L145.42,272.77L146.96,272.66L148.50,272.58L150.04,272.51L151.58,272.45L153.13,272.40L154.67,272.35L156.21,272.31L157.75,272.26L159.29,272.20L160.83,272.13L162.38,272.04L163.92,271.93L165.46,271.80L167.00,271.64" fill="none" stroke="#16B0E4" stroke-width="2.6"/>
<path d="M61.50,365.31L63.03,364.29L64.56,363.29L66.09,362.31L67.62,361.36L69.14,360.43L70.67,359.53L72.20,358.65L73.73,357.79L75.26,356.96L76.79,356.15L78.32,355.37L79.85,354.61L81.38,353.88L82.91,353.18L84.43,352.50L85.96,351.84L87.49,351.22L89.02,350.62L90.55,350.05L92.08,349.50L93.61,348.98L95.14,348.49L96.67,348.03L98.20,347.60L99.72,347.20L101.25,346.82L102.78,346.47L104.31,346.16L105.84,345.87L107.37,345.61L108.90,345.37L110.43,345.17L111.96,344.98L113.49,344.82L115.01,344.68L116.54,344.56L118.07,344.46L119.60,344.38L121.13,344.32L122.66,344.27L124.19,344.24L125.72,344.22L127.25,344.21L128.78,344.21L130.30,344.23L131.83,344.25L133.36,344.28L134.89,344.31L136.42,344.36L137.95,344.40L139.48,344.45L141.01,344.50L142.54,344.55L144.07,344.60L145.59,344.65L147.12,344.70L148.65,344.74L150.18,344.77L151.71,344.80L153.24,344.82L154.77,344.83L156.30,344.84L157.83,344.83L159.36,344.81L160.88,344.77L162.41,344.72L163.94,344.65L165.47,344.57L167.00,344.47" fill="none" stroke="#7D1A7E" stroke-width="2.6"/>
<path d="M61.50,371.40L63.03,370.63L64.56,369.88L66.09,369.17L67.62,368.48L69.14,367.82L70.67,367.18L72.20,366.57L73.73,365.99L75.26,365.43L76.79,364.89L78.32,364.38L79.85,363.90L81.38,363.43L82.91,362.99L84.43,362.57L85.96,362.17L87.49,361.79L89.02,361.43L90.55,361.09L92.08,360.77L93.61,360.47L95.14,360.18L96.67,359.92L98.20,359.67L99.72,359.44L101.25,359.23L102.78,359.03L104.31,358.85L105.84,358.68L107.37,358.53L108.90,358.39L110.43,358.26L111.96,358.14L113.49,358.04L115.01,357.95L116.54,357.87L118.07,357.80L119.60,357.75L121.13,357.70L122.66,357.66L124.19,357.62L125.72,357.60L127.25,357.58L128.78,357.57L130.30,357.57L131.83,357.57L133.36,357.57L134.89,357.58L136.42,357.60L137.95,357.61L139.48,357.63L141.01,357.66L142.54,357.68L144.07,357.71L145.59,357.73L147.12,357.76L148.65,357.78L150.18,357.81L151.71,357.83L153.24,357.85L154.77,357.87L156.30,357.88L157.83,357.89L159.36,357.90L160.88,357.90L162.41,357.90L163.94,357.89L165.47,357.87L167.00,357.85" fill="none" stroke="#F51DE0" stroke-width="2.6"/>
<rect x="211.8" y="232" width="112.5" height="159.8" fill="#fff" stroke="#8a8a8a" stroke-width="1"/>
<path d="M216,245.00H256.9" stroke="#F6A043" stroke-width="2.3"/>
<text x="261.2" y="251.5" font-size="16.7" text-anchor="start" font-weight="normal" fill="#000" >plug 1</text>
<path d="M216,267.30H256.9" stroke="#EC3D64" stroke-width="2.3"/>
<text x="261.2" y="273.8" font-size="16.7" text-anchor="start" font-weight="normal" fill="#000" >plug 1cr</text>
<path d="M216,289.60H256.9" stroke="#16B0E4" stroke-width="2.3"/>
<text x="261.2" y="296.1" font-size="16.7" text-anchor="start" font-weight="normal" fill="#000" >plug 2</text>
<path d="M216,311.90H256.9" stroke="#12D41E" stroke-width="2.3"/>
<text x="261.2" y="318.4" font-size="16.7" text-anchor="start" font-weight="normal" fill="#000" >plug 3</text>
<path d="M216,334.20H256.9" stroke="#7A7A1E" stroke-width="2.3"/>
<text x="261.2" y="340.7" font-size="16.7" text-anchor="start" font-weight="normal" fill="#000" >plug 3cr</text>
<path d="M216,356.50H256.9" stroke="#F51DE0" stroke-width="2.3"/>
<text x="261.2" y="363.0" font-size="16.7" text-anchor="start" font-weight="normal" fill="#000" >plug 4s</text>
<path d="M216,378.80H256.9" stroke="#7D1A7E" stroke-width="2.3"/>
<text x="261.2" y="385.3" font-size="16.7" text-anchor="start" font-weight="normal" fill="#000" >plug 4l</text>
<path d="M407.8,247.9V371H531.5" fill="none" stroke="#8a8a8a" stroke-width="1"/>
<path d="M407.8,279.00h1.5" stroke="#8a8a8a" stroke-width="1"/>
<path d="M407.8,310.00h1.5" stroke="#8a8a8a" stroke-width="1"/>
<path d="M407.8,341.00h1.5" stroke="#8a8a8a" stroke-width="1"/>
<path d="M448.97,371v-1.5" stroke="#8a8a8a" stroke-width="1"/>
<path d="M490.13,371v-1.5" stroke="#8a8a8a" stroke-width="1"/>
<text x="401.5" y="257.00" font-size="16.5" text-anchor="end" fill="#262626">10<tspan font-size="12.5" dy="-6.7">3</tspan></text>
<text x="401.5" y="288.00" font-size="16.5" text-anchor="end" fill="#262626">10<tspan font-size="12.5" dy="-6.7">2</tspan></text>
<text x="401.5" y="319.00" font-size="16.5" text-anchor="end" fill="#262626">10<tspan font-size="12.5" dy="-6.7">1</tspan></text>
<text x="401.5" y="350.00" font-size="16.5" text-anchor="end" fill="#262626">10<tspan font-size="12.5" dy="-6.7">0</tspan></text>
<text x="436.97" y="399" font-size="16.5" fill="#262626">10<tspan font-size="12.5" dy="-6.6">0</tspan></text>
<text x="478.13" y="399" font-size="16.5" fill="#262626">10<tspan font-size="12.5" dy="-6.6">2</tspan></text>
<text x="519.30" y="399" font-size="16.5" fill="#262626">10<tspan font-size="12.5" dy="-6.6">4</tspan></text>
<text x="470" y="421.5" font-size="16.5" text-anchor="middle" font-weight="normal" fill="#262626" >f (Hz)</text>
<text transform="translate(367.5,310) rotate(-90)" x="0" y="0" font-size="17" text-anchor="middle" fill="#262626"><tspan font-style="italic" font-family="Liberation Serif">σ</tspan>`` (mS/m)</text>
<text x="424.3" y="246.89999999999998" font-size="24" text-anchor="middle" font-weight="bold" fill="#000" >(d)</text>
<path d="M408.00,285.09L409.52,283.81L411.04,282.52L412.57,281.22L414.09,279.92L415.61,278.62L417.13,277.32L418.65,276.02L420.17,274.73L421.70,273.44L423.22,272.16L424.74,270.89L426.26,269.64L427.78,268.40L429.30,267.18L430.83,265.99L432.35,264.81L433.87,263.66L435.39,262.54L436.91,261.45L438.43,260.39L439.96,259.37L441.48,258.38L443.00,257.43L444.52,256.53L446.04,255.67L447.57,254.85L449.09,254.09L450.61,253.37L452.13,252.71L453.65,252.10L455.17,251.55L456.70,251.06L458.22,250.64L459.74,250.27L461.26,249.98L462.78,249.75L464.30,249.60L465.83,249.52L467.35,249.52L468.87,249.59L470.39,249.75L471.91,249.99L473.43,250.31L474.96,250.70L476.48,251.16L478.00,251.70L479.52,252.30L481.04,252.97L482.57,253.70L484.09,254.48L485.61,255.32L487.13,256.21L488.65,257.15L490.17,258.14L491.70,259.16L493.22,260.23L494.74,261.34L496.26,262.48L497.78,263.64L499.30,264.84L500.83,266.06L502.35,267.30L503.87,268.56L505.39,269.84L506.91,271.13L508.43,272.43L509.96,273.73L511.48,275.04L513.00,276.35" fill="none" stroke="#000" stroke-width="7.80" stroke-linejoin="round"/>
<path d="M403.10,285.09h9.80M408.00,280.19v9.80M405.73,282.87h9.80M410.62,277.97v9.80M408.35,280.64h9.80M413.25,275.74v9.80M410.98,278.39h9.80M415.88,273.49v9.80M413.60,276.15h9.80M418.50,271.25v9.80M416.23,273.92h9.80M421.12,269.02v9.80M418.85,271.71h9.80M423.75,266.81v9.80M421.48,269.55h9.80M426.38,264.65v9.80M424.10,267.43h9.80M429.00,262.53v9.80M426.73,265.37h9.80M431.62,260.47v9.80M429.35,263.38h9.80M434.25,258.48v9.80M431.98,261.48h9.80M436.88,256.58v9.80M434.60,259.67h9.80M439.50,254.77v9.80M437.23,257.97h9.80M442.12,253.07v9.80M439.85,256.40h9.80M444.75,251.50v9.80M442.48,254.95h9.80M447.38,250.05v9.80M445.10,253.65h9.80M450.00,248.75v9.80M447.73,252.50h9.80M452.62,247.60v9.80M450.35,251.52h9.80M455.25,246.62v9.80M452.98,250.73h9.80M457.88,245.83v9.80M455.60,250.12h9.80M460.50,245.22v9.80M458.23,249.71h9.80M463.12,244.81v9.80M460.85,249.52h9.80M465.75,244.62v9.80M463.48,249.56h9.80M468.38,244.66v9.80M466.10,249.84h9.80M471.00,244.94v9.80M468.73,250.35h9.80M473.62,245.45v9.80M471.35,251.09h9.80M476.25,246.19v9.80M473.98,252.04h9.80M478.88,247.14v9.80M476.60,253.18h9.80M481.50,248.28v9.80M479.23,254.50h9.80M484.12,249.60v9.80M481.85,255.98h9.80M486.75,251.08v9.80M484.48,257.61h9.80M489.38,252.71v9.80M487.10,259.38h9.80M492.00,254.48v9.80M489.73,261.25h9.80M494.62,256.35v9.80M492.35,263.23h9.80M497.25,258.33v9.80M494.98,265.30h9.80M499.88,260.40v9.80M497.60,267.43h9.80M502.50,262.53v9.80M500.23,269.62h9.80M505.12,264.72v9.80M502.85,271.84h9.80M507.75,266.94v9.80M505.48,274.09h9.80M510.38,269.19v9.80M508.10,276.35h9.80M513.00,271.45v9.80" stroke="#000" stroke-width="1.7" fill="none"/>
<path d="M510.20,276.50H516.80M513.50,273.20V279.80" stroke="#000" stroke-width="1.6"/>
<path d="M408.00,283.91L409.54,282.95L411.07,281.98L412.61,280.98L414.15,279.96L415.68,278.92L417.22,277.86L418.76,276.78L420.29,275.69L421.83,274.59L423.37,273.48L424.90,272.36L426.44,271.23L427.98,270.09L429.51,268.95L431.05,267.81L432.59,266.67L434.12,265.53L435.66,264.41L437.20,263.31L438.74,262.24L440.27,261.19L441.81,260.19L443.35,259.23L444.88,258.32L446.42,257.46L447.96,256.66L449.49,255.93L451.03,255.27L452.57,254.69L454.10,254.18L455.64,253.76L457.18,253.43L458.71,253.19L460.25,253.04L461.79,253.00L463.32,253.06L464.86,253.21L466.40,253.46L467.93,253.79L469.47,254.21L471.01,254.71L472.54,255.29L474.08,255.94L475.62,256.66L477.15,257.44L478.69,258.29L480.23,259.19L481.76,260.15L483.30,261.15L484.84,262.20L486.38,263.28L487.91,264.40L489.45,265.55L490.99,266.73L492.52,267.93L494.06,269.15L495.60,270.39L497.13,271.66L498.67,272.94L500.21,274.26L501.74,275.60L503.28,276.97L504.82,278.37L506.35,279.80L507.89,281.27L509.43,282.77L510.96,284.30L512.50,285.87" fill="none" stroke="#000" stroke-width="6.80" stroke-linejoin="round"/>
<path d="M403.60,283.91h8.80M408.00,279.51v8.80M406.21,282.27h8.80M410.61,277.87v8.80M408.83,280.57h8.80M413.23,276.17v8.80M411.44,278.81h8.80M415.84,274.41v8.80M414.05,277.00h8.80M418.45,272.60v8.80M416.66,275.15h8.80M421.06,270.75v8.80M419.28,273.26h8.80M423.68,268.86v8.80M421.89,271.34h8.80M426.29,266.94v8.80M424.50,269.41h8.80M428.90,265.01v8.80M427.11,267.47h8.80M431.51,263.07v8.80M429.73,265.53h8.80M434.12,261.13v8.80M432.34,263.64h8.80M436.74,259.24v8.80M434.95,261.82h8.80M439.35,257.42v8.80M437.56,260.09h8.80M441.96,255.69v8.80M440.18,258.49h8.80M444.57,254.09v8.80M442.79,257.05h8.80M447.19,252.65v8.80M445.40,255.80h8.80M449.80,251.40v8.80M448.01,254.74h8.80M452.41,250.34v8.80M450.62,253.92h8.80M455.02,249.52v8.80M453.24,253.34h8.80M457.64,248.94v8.80M455.85,253.04h8.80M460.25,248.64v8.80M458.46,253.03h8.80M462.86,248.63v8.80M461.08,253.30h8.80M465.48,248.90v8.80M463.69,253.83h8.80M468.09,249.43v8.80M466.30,254.60h8.80M470.70,250.20v8.80M468.91,255.60h8.80M473.31,251.20v8.80M471.53,256.81h8.80M475.93,252.41v8.80M474.14,258.20h8.80M478.54,253.80v8.80M476.75,259.76h8.80M481.15,255.36v8.80M479.36,261.46h8.80M483.76,257.06v8.80M481.98,263.28h8.80M486.38,258.88v8.80M484.59,265.21h8.80M488.99,260.81v8.80M487.20,267.21h8.80M491.60,262.81v8.80M489.81,269.27h8.80M494.21,264.87v8.80M492.43,271.40h8.80M496.82,267.00v8.80M495.04,273.60h8.80M499.44,269.20v8.80M497.65,275.87h8.80M502.05,271.47v8.80M500.26,278.23h8.80M504.66,273.83v8.80M502.88,280.68h8.80M507.27,276.28v8.80M505.49,283.22h8.80M509.89,278.82v8.80M508.10,285.87h8.80M512.50,281.47v8.80" stroke="#000" stroke-width="1.7" fill="none"/>
<path d="M509.70,286.00H516.30M513.00,282.70V289.30" stroke="#000" stroke-width="1.6"/>
<path d="M408.00,290.63L409.54,289.87L411.09,289.08L412.63,288.27L414.17,287.43L415.72,286.57L417.26,285.70L418.80,284.80L420.35,283.90L421.89,282.99L423.43,282.07L424.98,281.15L426.52,280.22L428.06,279.31L429.61,278.39L431.15,277.49L432.69,276.59L434.24,275.72L435.78,274.86L437.32,274.02L438.87,273.20L440.41,272.41L441.95,271.65L443.50,270.93L445.04,270.24L446.58,269.58L448.13,268.97L449.67,268.41L451.21,267.89L452.76,267.42L454.30,267.01L455.84,266.65L457.39,266.36L458.93,266.12L460.47,265.95L462.01,265.85L463.56,265.83L465.10,265.87L466.64,265.99L468.19,266.20L469.73,266.49L471.27,266.86L472.82,267.32L474.36,267.85L475.90,268.47L477.45,269.15L478.99,269.91L480.53,270.73L482.08,271.61L483.62,272.54L485.16,273.53L486.71,274.57L488.25,275.66L489.79,276.78L491.34,277.95L492.88,279.15L494.42,280.38L495.97,281.65L497.51,282.95L499.05,284.30L500.60,285.69L502.14,287.12L503.68,288.59L505.23,290.11L506.77,291.69L508.31,293.31L509.86,294.98L511.40,296.71" fill="none" stroke="#000" stroke-width="5.80" stroke-linejoin="round"/>
<path d="M404.10,290.63h7.80M408.00,286.73v7.80M406.69,289.34h7.80M410.58,285.44v7.80M409.27,287.98h7.80M413.17,284.08v7.80M411.86,286.55h7.80M415.75,282.65v7.80M414.44,285.07h7.80M418.34,281.17v7.80M417.03,283.56h7.80M420.93,279.66v7.80M419.61,282.02h7.80M423.51,278.12v7.80M422.19,280.48h7.80M426.09,276.58v7.80M424.78,278.94h7.80M428.68,275.04v7.80M427.37,277.42h7.80M431.26,273.52v7.80M429.95,275.93h7.80M433.85,272.03v7.80M432.54,274.50h7.80M436.44,270.60v7.80M435.12,273.12h7.80M439.02,269.22v7.80M437.71,271.82h7.80M441.61,267.92v7.80M440.29,270.61h7.80M444.19,266.71v7.80M442.88,269.51h7.80M446.77,265.61v7.80M445.46,268.52h7.80M449.36,264.62v7.80M448.05,267.66h7.80M451.94,263.76v7.80M450.63,266.95h7.80M454.53,263.05v7.80M453.22,266.41h7.80M457.12,262.51v7.80M455.80,266.03h7.80M459.70,262.13v7.80M458.38,265.84h7.80M462.28,261.94v7.80M460.97,265.86h7.80M464.87,261.96v7.80M463.56,266.09h7.80M467.45,262.19v7.80M466.14,266.55h7.80M470.04,262.65v7.80M468.73,267.25h7.80M472.62,263.35v7.80M471.31,268.18h7.80M475.21,264.28v7.80M473.89,269.32h7.80M477.79,265.42v7.80M476.48,270.64h7.80M480.38,266.74v7.80M479.06,272.14h7.80M482.96,268.24v7.80M481.65,273.79h7.80M485.55,269.89v7.80M484.24,275.57h7.80M488.13,271.67v7.80M486.82,277.48h7.80M490.72,273.58v7.80M489.40,279.48h7.80M493.30,275.58v7.80M491.99,281.58h7.80M495.89,277.68v7.80M494.57,283.79h7.80M498.47,279.89v7.80M497.16,286.11h7.80M501.06,282.21v7.80M499.75,288.55h7.80M503.64,284.65v7.80M502.33,291.13h7.80M506.23,287.23v7.80M504.92,293.85h7.80M508.81,289.95v7.80M507.50,296.71h7.80M511.40,292.81v7.80" stroke="#000" stroke-width="1.7" fill="none"/>
<path d="M508.60,296.90H515.20M511.90,293.60V300.20" stroke="#000" stroke-width="1.6"/>
<path d="M408.00,298.03L409.55,298.23L411.09,298.03L412.64,297.49L414.18,296.68L415.73,295.67L417.27,294.53L418.82,293.31L420.36,292.09L421.91,290.92L423.45,289.82L425.00,288.83L426.55,287.96L428.09,287.23L429.64,286.68L431.18,286.32L432.73,286.15L434.27,286.15L435.82,286.32L437.36,286.62L438.91,287.05L440.45,287.59L442.00,288.23L443.55,288.95L445.09,289.74L446.64,290.57L448.18,291.44L449.73,292.32L451.27,293.21L452.82,294.09L454.36,294.93L455.91,295.74L457.45,296.49L459.00,297.20L460.55,297.86L462.09,298.47L463.64,299.04L465.18,299.56L466.73,300.04L468.27,300.48L469.82,300.87L471.36,301.23L472.91,301.54L474.45,301.82L476.00,302.06L477.55,302.26L479.09,302.43L480.64,302.56L482.18,302.66L483.73,302.73L485.27,302.76L486.82,302.77L488.36,302.74L489.91,302.69L491.45,302.61L493.00,302.50" fill="none" stroke="#000" stroke-width="5.30" stroke-linejoin="round"/>
<path d="M404.35,298.03h7.30M408.00,294.38v7.30M406.93,298.13h7.30M410.58,294.48v7.30M409.50,297.25h7.30M413.15,293.60v7.30M412.08,295.67h7.30M415.73,292.02v7.30M414.65,293.72h7.30M418.30,290.07v7.30M417.23,291.69h7.30M420.88,288.04v7.30M419.80,289.82h7.30M423.45,286.17v7.30M422.38,288.23h7.30M426.03,284.58v7.30M424.96,287.03h7.30M428.61,283.38v7.30M427.53,286.32h7.30M431.18,282.67v7.30M430.11,286.14h7.30M433.76,282.49v7.30M432.68,286.40h7.30M436.33,282.75v7.30M435.26,287.05h7.30M438.91,283.40v7.30M437.83,288.01h7.30M441.48,284.36v7.30M440.41,289.21h7.30M444.06,285.56v7.30M442.99,290.57h7.30M446.64,286.92v7.30M445.56,292.03h7.30M449.21,288.38v7.30M448.14,293.50h7.30M451.79,289.85v7.30M450.71,294.93h7.30M454.36,291.28v7.30M453.29,296.25h7.30M456.94,292.60v7.30M455.87,297.43h7.30M459.52,293.78v7.30M458.44,298.47h7.30M462.09,294.82v7.30M461.02,299.39h7.30M464.67,295.74v7.30M463.59,300.19h7.30M467.24,296.54v7.30M466.17,300.87h7.30M469.82,297.22v7.30M468.74,301.44h7.30M472.39,297.79v7.30M471.32,301.90h7.30M474.97,298.25v7.30M473.90,302.26h7.30M477.55,298.61v7.30M476.47,302.52h7.30M480.12,298.87v7.30M479.05,302.69h7.30M482.70,299.04v7.30M481.62,302.76h7.30M485.27,299.11v7.30M484.20,302.75h7.30M487.85,299.10v7.30M486.77,302.67h7.30M490.42,299.02v7.30M489.35,302.50h7.30M493.00,298.85v7.30" stroke="#000" stroke-width="1.7" fill="none"/>
<path d="M490.20,302.50H496.80M493.50,299.20V305.80" stroke="#000" stroke-width="1.6"/>
<path d="M408.00,315.70L409.54,315.13L411.07,314.56L412.61,313.99L414.14,313.42L415.68,312.87L417.22,312.33L418.75,311.81L420.29,311.31L421.83,310.85L423.36,310.42L424.90,310.03L426.43,309.68L427.97,309.39L429.51,309.15L431.04,308.97L432.58,308.86L434.12,308.81L435.65,308.84L437.19,308.95L438.72,309.15L440.26,309.43L441.80,309.81L443.33,310.28L444.87,310.84L446.41,311.50L447.94,312.25L449.48,313.09L451.01,314.03L452.55,315.06L454.09,316.18L455.62,317.40L457.16,318.70L458.70,320.07L460.23,321.50L461.77,322.97L463.30,324.46L464.84,325.97L466.38,327.47L467.91,328.95L469.45,330.39L470.99,331.81L472.52,333.18L474.06,334.53L475.59,335.85L477.13,337.14L478.67,338.40L480.20,339.64L481.74,340.86L483.28,342.06L484.81,343.24L486.35,344.41L487.88,345.56L489.42,346.71L490.96,347.84L492.49,348.96L494.03,350.08L495.57,351.20L497.10,352.31L498.64,353.42L500.17,354.54L501.71,355.65L503.25,356.78L504.78,357.91L506.32,359.05L507.86,360.21L509.39,361.38L510.93,362.56L512.46,363.76L514.00,364.98" fill="none" stroke="#000" stroke-width="6.80" stroke-linejoin="round"/>
<path d="M403.60,315.70h8.80M408.00,311.30v8.80M406.19,314.74h8.80M410.59,310.34v8.80M408.77,313.78h8.80M413.17,309.38v8.80M411.36,312.84h8.80M415.76,308.44v8.80M413.94,311.94h8.80M418.34,307.54v8.80M416.53,311.11h8.80M420.93,306.71v8.80M419.11,310.38h8.80M423.51,305.98v8.80M421.70,309.76h8.80M426.10,305.36v8.80M424.28,309.27h8.80M428.68,304.87v8.80M426.87,308.95h8.80M431.27,304.55v8.80M429.45,308.81h8.80M433.85,304.41v8.80M432.04,308.89h8.80M436.44,304.49v8.80M434.62,309.19h8.80M439.02,304.79v8.80M437.21,309.75h8.80M441.61,305.35v8.80M439.80,310.58h8.80M444.20,306.18v8.80M442.38,311.67h8.80M446.78,307.27v8.80M444.97,313.03h8.80M449.37,308.63v8.80M447.55,314.64h8.80M451.95,310.24v8.80M450.14,316.53h8.80M454.54,312.13v8.80M452.72,318.66h8.80M457.12,314.26v8.80M455.31,321.01h8.80M459.71,316.61v8.80M457.89,323.48h8.80M462.29,319.08v8.80M460.48,326.01h8.80M464.88,321.61v8.80M463.06,328.52h8.80M467.46,324.12v8.80M465.65,330.95h8.80M470.05,326.55v8.80M468.23,333.28h8.80M472.63,328.88v8.80M470.82,335.53h8.80M475.22,331.13v8.80M473.40,337.69h8.80M477.80,333.29v8.80M475.99,339.79h8.80M480.39,335.39v8.80M478.58,341.83h8.80M482.98,337.43v8.80M481.16,343.81h8.80M485.56,339.41v8.80M483.75,345.76h8.80M488.15,341.36v8.80M486.33,347.67h8.80M490.73,343.27v8.80M488.92,349.56h8.80M493.32,345.16v8.80M491.50,351.44h8.80M495.90,347.04v8.80M494.09,353.31h8.80M498.49,348.91v8.80M496.67,355.19h8.80M501.07,350.79v8.80M499.26,357.08h8.80M503.66,352.68v8.80M501.84,359.00h8.80M506.24,354.60v8.80M504.43,360.95h8.80M508.83,356.55v8.80M507.01,362.94h8.80M511.41,358.54v8.80M509.60,364.98h8.80M514.00,360.58v8.80" stroke="#000" stroke-width="1.7" fill="none"/>
<path d="M511.20,365.00H517.80M514.50,361.70V368.30" stroke="#000" stroke-width="1.6"/>
<path d="M408.00,330.18L409.55,329.27L411.09,328.43L412.64,327.64L414.18,326.91L415.73,326.25L417.27,325.64L418.82,325.10L420.36,324.63L421.91,324.22L423.45,323.87L425.00,323.59L426.55,323.38L428.09,323.24L429.64,323.16L431.18,323.16L432.73,323.22L434.27,323.36L435.82,323.57L437.36,323.85L438.91,324.21L440.45,324.64L442.00,325.14L443.55,325.73L445.09,326.38L446.64,327.12L448.18,327.93L449.73,328.83L451.27,329.80L452.82,330.86L454.36,331.99L455.91,333.21L457.45,334.51L459.00,335.87L460.55,337.31L462.09,338.80L463.64,340.34L465.18,341.93L466.73,343.55L468.27,345.20L469.82,346.88L471.36,348.57L472.91,350.27L474.45,351.98L476.00,353.67L477.55,355.36L479.09,357.03L480.64,358.67L482.18,360.28L483.73,361.85L485.27,363.38L486.82,364.85L488.36,366.26L489.91,367.61L491.45,368.88L493.00,370.06" fill="none" stroke="#000" stroke-width="5.80" stroke-linejoin="round"/>
<path d="M404.10,330.18h7.80M408.00,326.28v7.80M406.68,328.70h7.80M410.58,324.80v7.80M409.25,327.39h7.80M413.15,323.49v7.80M411.83,326.25h7.80M415.73,322.35v7.80M414.40,325.28h7.80M418.30,321.38v7.80M416.98,324.48h7.80M420.88,320.58v7.80M419.55,323.87h7.80M423.45,319.97v7.80M422.13,323.44h7.80M426.03,319.54v7.80M424.71,323.21h7.80M428.61,319.31v7.80M427.28,323.16h7.80M431.18,319.26v7.80M429.86,323.31h7.80M433.76,319.41v7.80M432.43,323.66h7.80M436.33,319.76v7.80M435.01,324.21h7.80M438.91,320.31v7.80M437.58,324.97h7.80M441.48,321.07v7.80M440.16,325.94h7.80M444.06,322.04v7.80M442.74,327.12h7.80M446.64,323.22v7.80M445.31,328.52h7.80M449.21,324.62v7.80M447.89,330.14h7.80M451.79,326.24v7.80M450.46,331.99h7.80M454.36,328.09v7.80M453.04,334.07h7.80M456.94,330.17v7.80M455.62,336.35h7.80M459.52,332.45v7.80M458.19,338.80h7.80M462.09,334.90v7.80M460.77,341.39h7.80M464.67,337.49v7.80M463.34,344.10h7.80M467.24,340.20v7.80M465.92,346.88h7.80M469.82,342.98v7.80M468.49,349.70h7.80M472.39,345.80v7.80M471.07,352.54h7.80M474.97,348.64v7.80M473.65,355.36h7.80M477.55,351.46v7.80M476.22,358.13h7.80M480.12,354.23v7.80M478.80,360.81h7.80M482.70,356.91v7.80M481.37,363.38h7.80M485.27,359.48v7.80M483.95,365.80h7.80M487.85,361.90v7.80M486.52,368.04h7.80M490.42,364.14v7.80M489.10,370.06h7.80M493.00,366.16v7.80" stroke="#000" stroke-width="1.7" fill="none"/>
<path d="M490.20,370.00H496.80M493.50,366.70V373.30" stroke="#000" stroke-width="1.6"/>
<path d="M503.00,289.00H509.00M506.00,286.00V292.00" stroke="#000" stroke-width="1.9"/>
<path d="M505.00,293.00H511.00M508.00,290.00V296.00" stroke="#000" stroke-width="1.9"/>
<path d="M506.50,297.00H512.50M509.50,294.00V300.00" stroke="#000" stroke-width="1.9"/>
<path d="M507.50,300.50H513.50M510.50,297.50V303.50" stroke="#000" stroke-width="1.9"/>
<path d="M509.00,304.00H515.00M512.00,301.00V307.00" stroke="#000" stroke-width="1.9"/>
<path d="M510.50,306.70H516.50M513.50,303.70V309.70" stroke="#000" stroke-width="1.9"/>
<path d="M509.50,328.20H515.50M512.50,325.20V331.20" stroke="#000" stroke-width="1.9"/>
<path d="M425.00,281.26L426.53,281.19L428.07,281.21L429.60,281.32L431.14,281.51L432.67,281.79L434.21,282.15L435.74,282.58L437.28,283.09L438.81,283.66L440.35,284.30L441.88,285.01L443.42,285.77L444.95,286.59L446.49,287.46L448.02,288.38L449.56,289.35L451.09,290.36L452.63,291.41L454.16,292.49L455.70,293.61L457.23,294.76L458.77,295.93L460.30,297.13L461.84,298.35L463.37,299.58L464.91,300.83L466.44,302.09L467.98,303.35L469.51,304.62L471.05,305.89L472.58,307.15L474.12,308.41L475.65,309.66L477.19,310.89L478.72,312.11L480.26,313.31L481.79,314.48L483.33,315.63L484.86,316.75L486.40,317.84L487.93,318.89L489.47,319.90L491.00,320.87" fill="none" stroke="#12D41E" stroke-width="2.6"/>
<path d="M408.00,305.11L409.52,303.73L411.04,302.40L412.57,301.11L414.09,299.86L415.61,298.64L417.13,297.44L418.66,296.26L420.18,295.10L421.70,293.94L423.22,292.80L424.75,291.66L426.27,290.52L427.79,289.36L429.31,288.20L430.84,287.02L432.36,285.82L433.88,284.59L435.40,283.33L436.93,282.04L438.45,280.71L439.97,279.36L441.49,277.97L443.01,276.55L444.54,275.10L446.06,273.62L447.58,272.12L449.10,270.59L450.63,269.03L452.15,267.46L453.67,265.91L455.19,264.41L456.72,262.97L458.24,261.64L459.76,260.44L461.28,259.40L462.81,258.51L464.33,257.79L465.85,257.21L467.37,256.79L468.90,256.50L470.42,256.36L471.94,256.35L473.46,256.47L474.99,256.71L476.51,257.08L478.03,257.57L479.55,258.16L481.07,258.87L482.60,259.68L484.12,260.59L485.64,261.59L487.16,262.69L488.69,263.87L490.21,265.13L491.73,266.47L493.25,267.89L494.78,269.37L496.30,270.92L497.82,272.52L499.34,274.19L500.87,275.90L502.39,277.66L503.91,279.46L505.43,281.31L506.96,283.18L508.48,285.08L510.00,287.01" fill="none" stroke="#F6A043" stroke-width="2.6"/>
<path d="M465.00,250.87L466.57,251.12L468.14,251.41L469.70,251.75L471.27,252.13L472.84,252.55L474.41,253.01L475.97,253.51L477.54,254.05L479.11,254.63L480.68,255.25L482.25,255.90L483.81,256.60L485.38,257.33L486.95,258.10L488.52,258.90L490.08,259.74L491.65,260.61L493.22,261.52L494.79,262.46L496.35,263.43L497.92,264.44L499.49,265.47L501.06,266.54L502.63,267.64L504.19,268.77L505.76,269.93L507.33,271.12L508.90,272.33L510.46,273.58L512.03,274.85L513.60,276.15" fill="none" stroke="#EC3D64" stroke-width="2.6"/>
<path d="M408.00,290.63L409.54,289.87L411.09,289.08L412.63,288.27L414.17,287.43L415.72,286.57L417.26,285.70L418.80,284.80L420.35,283.90L421.89,282.99L423.43,282.07L424.98,281.15L426.52,280.22L428.06,279.31L429.61,278.39L431.15,277.49L432.69,276.59L434.24,275.72L435.78,274.86L437.32,274.02L438.87,273.20L440.41,272.41L441.95,271.65L443.50,270.93L445.04,270.24L446.58,269.58L448.13,268.97L449.67,268.41L451.21,267.89L452.76,267.42L454.30,267.01L455.84,266.65L457.39,266.36L458.93,266.12L460.47,265.95L462.01,265.85L463.56,265.83L465.10,265.87L466.64,265.99L468.19,266.20L469.73,266.49L471.27,266.86L472.82,267.32L474.36,267.85L475.90,268.47L477.45,269.15L478.99,269.91L480.53,270.73L482.08,271.61L483.62,272.54L485.16,273.53L486.71,274.57L488.25,275.66L489.79,276.78L491.34,277.95L492.88,279.15L494.42,280.38L495.97,281.65L497.51,282.95L499.05,284.30L500.60,285.69L502.14,287.12L503.68,288.59L505.23,290.11L506.77,291.69L508.31,293.31L509.86,294.98L511.40,296.71" fill="none" stroke="#7A7A1E" stroke-width="2.6"/>
<path d="M412.00,281.51L413.52,280.78L415.05,279.97L416.57,279.08L418.09,278.12L419.61,277.10L421.14,276.02L422.66,274.89L424.18,273.73L425.70,272.54L427.23,271.32L428.75,270.08L430.27,268.84L431.80,267.60L433.32,266.37L434.84,265.15L436.36,263.95L437.89,262.79L439.41,261.67L440.93,260.59L442.45,259.57L443.98,258.61L445.50,257.72L447.02,256.91L448.55,256.17L450.07,255.51L451.59,254.93L453.11,254.43L454.64,254.00L456.16,253.66L457.68,253.40L459.20,253.22L460.73,253.12L462.25,253.11L463.77,253.18L465.30,253.33L466.82,253.57L468.34,253.90L469.86,254.31L471.39,254.81L472.91,255.39L474.43,256.05L475.95,256.78L477.48,257.58L479.00,258.44L480.52,259.36L482.05,260.33L483.57,261.34L485.09,262.40L486.61,263.49L488.14,264.61L489.66,265.76L491.18,266.93L492.70,268.11L494.23,269.31L495.75,270.53L497.27,271.77L498.80,273.03L500.32,274.32L501.84,275.63L503.36,276.98L504.89,278.36L506.41,279.78L507.93,281.24L509.45,282.75L510.98,284.30L512.50,285.89" fill="none" stroke="#16B0E4" stroke-width="2.6"/>
<path d="M408.00,315.71L409.52,315.12L411.04,314.54L412.57,313.96L414.09,313.39L415.61,312.83L417.13,312.29L418.66,311.77L420.18,311.28L421.70,310.82L423.22,310.39L424.75,310.01L426.27,309.67L427.79,309.38L429.31,309.15L430.84,308.97L432.36,308.86L433.88,308.81L435.40,308.84L436.93,308.95L438.45,309.13L439.97,309.40L441.49,309.77L443.01,310.22L444.54,310.76L446.06,311.40L447.58,312.12L449.10,312.93L450.63,313.82L452.15,314.81L453.67,315.88L455.19,317.04L456.72,318.28L458.24,319.60L459.76,320.98L461.28,322.40L462.81,323.87L464.33,325.36L465.85,326.87L467.37,328.39L468.90,329.89L470.42,331.39L471.94,332.88L473.46,334.35L474.99,335.82L476.51,337.28L478.03,338.74L479.55,340.19L481.07,341.65L482.60,343.09L484.12,344.54L485.64,345.99L487.16,347.44L488.69,348.90L490.21,350.36L491.73,351.82L493.25,353.29L494.78,354.77L496.30,356.26L497.82,357.76L499.34,359.27L500.87,360.79L502.39,362.33L503.91,363.88L505.43,365.45L506.96,367.04L508.48,368.64L510.00,370.27" fill="none" stroke="#7D1A7E" stroke-width="2.6"/>
<path d="M408.00,330.19L409.54,329.28L411.09,328.43L412.63,327.64L414.18,326.92L415.72,326.25L417.26,325.65L418.81,325.11L420.35,324.63L421.89,324.22L423.44,323.87L424.98,323.59L426.53,323.38L428.07,323.23L429.61,323.16L431.16,323.15L432.70,323.22L434.25,323.35L435.79,323.56L437.33,323.84L438.88,324.19L440.42,324.62L441.96,325.13L443.51,325.71L445.05,326.36L446.60,327.10L448.14,327.91L449.68,328.80L451.23,329.77L452.77,330.83L454.32,331.96L455.86,333.18L457.40,334.48L458.95,335.85L460.49,337.28L462.04,338.77L463.58,340.31L465.12,341.89L466.67,343.50L468.21,345.14L469.75,346.81L471.30,348.48L472.84,350.17L474.39,351.85L475.93,353.52L477.47,355.17L479.02,356.80L480.56,358.40L482.11,359.96L483.65,361.47L485.19,362.93L486.74,364.33L488.28,365.67L489.82,366.92L491.37,368.10L492.91,369.18L494.46,370.17L496.00,371.05" fill="none" stroke="#F51DE0" stroke-width="2.6"/>
<path d="M61.5,445.5V569.5H185" fill="none" stroke="#8a8a8a" stroke-width="1"/>
<path d="M61.5,538.50h1.5" stroke="#8a8a8a" stroke-width="1"/>
<path d="M61.5,507.50h1.5" stroke="#8a8a8a" stroke-width="1"/>
<path d="M61.5,476.50h1.5" stroke="#8a8a8a" stroke-width="1"/>
<path d="M102.67,569.5v-1.5" stroke="#8a8a8a" stroke-width="1"/>
<path d="M143.83,569.5v-1.5" stroke="#8a8a8a" stroke-width="1"/>
<text x="55.3" y="452.30" font-size="16.5" text-anchor="end" fill="#262626">80</text>
<text x="55.3" y="483.30" font-size="16.5" text-anchor="end" fill="#262626">60</text>
<text x="55.3" y="514.30" font-size="16.5" text-anchor="end" fill="#262626">40</text>
<text x="55.3" y="545.30" font-size="16.5" text-anchor="end" fill="#262626">20</text>
<text x="55.3" y="576.30" font-size="16.5" text-anchor="end" fill="#262626">0</text>
<text x="90.67" y="598" font-size="16.5" fill="#262626">10<tspan font-size="12.5" dy="-6.6">0</tspan></text>
<text x="131.83" y="598" font-size="16.5" fill="#262626">10<tspan font-size="12.5" dy="-6.6">2</tspan></text>
<text x="173.00" y="598" font-size="16.5" fill="#262626">10<tspan font-size="12.5" dy="-6.6">4</tspan></text>
<text x="124" y="619.5" font-size="16.5" text-anchor="middle" font-weight="normal" fill="#262626" >f (Hz)</text>
<text transform="translate(28.5,507.5) rotate(-90)" x="0" y="0" font-size="17" text-anchor="middle" fill="#262626"><tspan font-style="italic" font-family="Liberation Serif">σ</tspan>` (mS/m)</text>
<text x="79.3" y="448.2" font-size="24" text-anchor="middle" font-weight="bold" fill="#000" >(e)</text>
<path d="M61.50,526.48L63.02,526.23L64.54,525.94L66.06,525.59L67.58,525.20L69.10,524.76L70.62,524.28L72.15,523.75L73.67,523.16L75.19,522.54L76.71,521.86L78.23,521.14L79.75,520.37L81.27,519.55L82.79,518.69L84.31,517.77L85.83,516.81L87.35,515.81L88.88,514.75L90.40,513.65L91.92,512.50L93.44,511.31L94.96,510.06L96.48,508.77L98.00,507.44L99.52,506.05L101.04,504.62L102.56,503.14L104.08,501.61L105.60,500.04L107.12,498.42L108.65,496.75L110.17,495.04L111.69,493.28L113.21,491.48L114.73,489.65L116.25,487.80L117.77,485.93L119.29,484.06L120.81,482.20L122.33,480.34L123.85,478.50L125.38,476.69L126.90,474.92L128.42,473.18L129.94,471.50L131.46,469.88L132.98,468.31L134.50,466.81L136.02,465.37L137.54,464.00L139.06,462.68L140.58,461.43L142.10,460.25L143.62,459.13L145.15,458.08L146.67,457.10L148.19,456.19L149.71,455.35L151.23,454.57L152.75,453.87L154.27,453.23L155.79,452.65L157.31,452.12L158.83,451.66L160.35,451.24L161.88,450.87L163.40,450.55L164.92,450.26L166.44,450.02L167.96,449.80L169.48,449.62L171.00,449.47" fill="none" stroke="#000" stroke-width="4.80" stroke-linejoin="round"/>
<path d="M58.10,526.48h6.80M61.50,523.08v6.80M60.71,526.03h6.80M64.11,522.63v6.80M63.31,525.43h6.80M66.71,522.03v6.80M65.92,524.70h6.80M69.32,521.30v6.80M68.53,523.82h6.80M71.93,520.42v6.80M71.14,522.81h6.80M74.54,519.41v6.80M73.74,521.66h6.80M77.14,518.26v6.80M76.35,520.37h6.80M79.75,516.97v6.80M78.96,518.94h6.80M82.36,515.54v6.80M81.56,517.37h6.80M84.96,513.97v6.80M84.17,515.66h6.80M87.57,512.26v6.80M86.78,513.81h6.80M90.18,510.41v6.80M89.39,511.82h6.80M92.79,508.42v6.80M91.99,509.70h6.80M95.39,506.30v6.80M94.60,507.44h6.80M98.00,504.04v6.80M97.21,505.03h6.80M100.61,501.63v6.80M99.81,502.49h6.80M103.21,499.09v6.80M102.42,499.81h6.80M105.82,496.41v6.80M105.03,496.99h6.80M108.43,493.59v6.80M107.64,494.03h6.80M111.04,490.63v6.80M110.24,490.96h6.80M113.64,487.56v6.80M112.85,487.80h6.80M116.25,484.40v6.80M115.46,484.60h6.80M118.86,481.20v6.80M118.06,481.40h6.80M121.46,478.00v6.80M120.67,478.24h6.80M124.07,474.84v6.80M123.28,475.17h6.80M126.68,471.77v6.80M125.89,472.21h6.80M129.29,468.81v6.80M128.49,469.42h6.80M131.89,466.02v6.80M131.10,466.81h6.80M134.50,463.41v6.80M133.71,464.38h6.80M137.11,460.98v6.80M136.31,462.14h6.80M139.71,458.74v6.80M138.92,460.09h6.80M142.32,456.69v6.80M141.53,458.23h6.80M144.93,454.83v6.80M144.14,456.57h6.80M147.54,453.17v6.80M146.74,455.12h6.80M150.14,451.72v6.80M149.35,453.87h6.80M152.75,450.47v6.80M151.96,452.81h6.80M155.36,449.41v6.80M154.56,451.92h6.80M157.96,448.52v6.80M157.17,451.19h6.80M160.57,447.79v6.80M159.78,450.59h6.80M163.18,447.19v6.80M162.39,450.12h6.80M165.79,446.72v6.80M164.99,449.75h6.80M168.39,446.35v6.80M167.60,449.47h6.80M171.00,446.07v6.80" stroke="#000" stroke-width="1.7" fill="none"/>
<path d="M168.20,449.30H174.80M171.50,446.00V452.60" stroke="#000" stroke-width="1.6"/>
<path d="M61.50,526.48L63.02,526.23L64.54,525.94L66.06,525.59L67.58,525.20L69.10,524.76L70.62,524.28L72.15,523.75L73.67,523.16L75.19,522.54L76.71,521.86L78.23,521.14L79.75,520.37L81.27,519.55L82.79,518.69L84.31,517.77L85.83,516.81L87.35,515.81L88.88,514.75L90.40,513.65L91.92,512.50L93.44,511.31L94.96,510.06L96.48,508.77L98.00,507.44L99.52,506.05L101.04,504.62L102.56,503.14L104.08,501.61L105.60,500.04L107.12,498.42L108.65,496.75L110.17,495.04L111.69,493.28L113.21,491.48L114.73,489.65L116.25,487.80L117.77,485.93L119.29,484.06L120.81,482.20L122.33,480.34L123.85,478.50L125.38,476.69L126.90,474.92L128.42,473.18L129.94,471.50L131.46,469.88L132.98,468.31L134.50,466.81L136.02,465.37L137.54,464.00L139.06,462.68L140.58,461.43L142.10,460.25L143.62,459.13L145.15,458.08L146.67,457.10L148.19,456.19L149.71,455.35L151.23,454.57L152.75,453.87L154.27,453.23L155.79,452.65L157.31,452.12L158.83,451.66L160.35,451.24L161.88,450.87L163.40,450.55L164.92,450.26L166.44,450.02L167.96,449.80L169.48,449.62L171.00,449.47" fill="none" stroke="#12D41E" stroke-width="2.6"/>
<path d="M61.50,541.50L63.02,541.41L64.54,541.29L66.06,541.14L67.58,540.98L69.10,540.78L70.62,540.57L72.15,540.33L73.67,540.08L75.19,539.80L76.71,539.51L78.23,539.20L79.75,538.87L81.27,538.52L82.79,538.16L84.31,537.79L85.83,537.40L87.35,536.99L88.88,536.58L90.40,536.16L91.92,535.72L93.44,535.28L94.96,534.83L96.48,534.37L98.00,533.91L99.52,533.43L101.04,532.96L102.56,532.48L104.08,532.00L105.60,531.51L107.12,531.03L108.65,530.54L110.17,530.06L111.69,529.57L113.21,529.09L114.73,528.61L116.25,528.14L117.77,527.67L119.29,527.21L120.81,526.75L122.33,526.30L123.85,525.86L125.38,525.43L126.90,525.01L128.42,524.60L129.94,524.20L131.46,523.82L132.98,523.45L134.50,523.09L136.02,522.75L137.54,522.43L139.06,522.12L140.58,521.83L142.10,521.56L143.62,521.31L145.15,521.08L146.67,520.88L148.19,520.69L149.71,520.53L151.23,520.40L152.75,520.28L154.27,520.20L155.79,520.14L157.31,520.11L158.83,520.11L160.35,520.14L161.88,520.20L163.40,520.29L164.92,520.41L166.44,520.56L167.96,520.75L169.48,520.98L171.00,521.24" fill="none" stroke="#000" stroke-width="4.80" stroke-linejoin="round"/>
<path d="M58.10,541.50h6.80M61.50,538.10v6.80M60.71,541.33h6.80M64.11,537.93v6.80M63.31,541.07h6.80M66.71,537.67v6.80M65.92,540.75h6.80M69.32,537.35v6.80M68.53,540.37h6.80M71.93,536.97v6.80M71.14,539.92h6.80M74.54,536.52v6.80M73.74,539.42h6.80M77.14,536.02v6.80M76.35,538.87h6.80M79.75,535.47v6.80M78.96,538.26h6.80M82.36,534.86v6.80M81.56,537.62h6.80M84.96,534.22v6.80M84.17,536.94h6.80M87.57,533.54v6.80M86.78,536.22h6.80M90.18,532.82v6.80M89.39,535.47h6.80M92.79,532.07v6.80M91.99,534.70h6.80M95.39,531.30v6.80M94.60,533.91h6.80M98.00,530.51v6.80M97.21,533.10h6.80M100.61,529.70v6.80M99.81,532.27h6.80M103.21,528.87v6.80M102.42,531.44h6.80M105.82,528.04v6.80M105.03,530.61h6.80M108.43,527.21v6.80M107.64,529.78h6.80M111.04,526.38v6.80M110.24,528.96h6.80M113.64,525.56v6.80M112.85,528.14h6.80M116.25,524.74v6.80M115.46,527.34h6.80M118.86,523.94v6.80M118.06,526.56h6.80M121.46,523.16v6.80M120.67,525.80h6.80M124.07,522.40v6.80M123.28,525.07h6.80M126.68,521.67v6.80M125.89,524.37h6.80M129.29,520.97v6.80M128.49,523.71h6.80M131.89,520.31v6.80M131.10,523.09h6.80M134.50,519.69v6.80M133.71,522.52h6.80M137.11,519.12v6.80M136.31,522.00h6.80M139.71,518.60v6.80M138.92,521.53h6.80M142.32,518.13v6.80M141.53,521.12h6.80M144.93,517.72v6.80M144.14,520.77h6.80M147.54,517.37v6.80M146.74,520.49h6.80M150.14,517.09v6.80M149.35,520.28h6.80M152.75,516.88v6.80M151.96,520.15h6.80M155.36,516.75v6.80M154.56,520.11h6.80M157.96,516.71v6.80M157.17,520.14h6.80M160.57,516.74v6.80M159.78,520.27h6.80M163.18,516.87v6.80M162.39,520.49h6.80M165.79,517.09v6.80M164.99,520.81h6.80M168.39,517.41v6.80M167.60,521.24h6.80M171.00,517.84v6.80" stroke="#000" stroke-width="1.7" fill="none"/>
<path d="M168.20,521.00H174.80M171.50,517.70V524.30" stroke="#000" stroke-width="1.6"/>
<path d="M61.50,541.50L63.02,541.41L64.54,541.29L66.06,541.14L67.58,540.98L69.10,540.78L70.62,540.57L72.15,540.33L73.67,540.08L75.19,539.80L76.71,539.51L78.23,539.20L79.75,538.87L81.27,538.52L82.79,538.16L84.31,537.79L85.83,537.40L87.35,536.99L88.88,536.58L90.40,536.16L91.92,535.72L93.44,535.28L94.96,534.83L96.48,534.37L98.00,533.91L99.52,533.43L101.04,532.96L102.56,532.48L104.08,532.00L105.60,531.51L107.12,531.03L108.65,530.54L110.17,530.06L111.69,529.57L113.21,529.09L114.73,528.61L116.25,528.14L117.77,527.67L119.29,527.21L120.81,526.75L122.33,526.30L123.85,525.86L125.38,525.43L126.90,525.01L128.42,524.60L129.94,524.20L131.46,523.82L132.98,523.45L134.50,523.09L136.02,522.75L137.54,522.43L139.06,522.12L140.58,521.83L142.10,521.56L143.62,521.31L145.15,521.08L146.67,520.88L148.19,520.69L149.71,520.53L151.23,520.40L152.75,520.28L154.27,520.20L155.79,520.14L157.31,520.11L158.83,520.11L160.35,520.14L161.88,520.20L163.40,520.29L164.92,520.41L166.44,520.56L167.96,520.75L169.48,520.98L171.00,521.24" fill="none" stroke="#16B0E4" stroke-width="2.6"/>
<path d="M61.50,550.72L63.02,550.20L64.54,549.65L66.06,549.09L67.58,548.51L69.10,547.91L70.62,547.30L72.15,546.68L73.67,546.06L75.19,545.42L76.71,544.79L78.23,544.15L79.75,543.52L81.27,542.88L82.79,542.26L84.31,541.64L85.83,541.03L87.35,540.43L88.88,539.84L90.40,539.27L91.92,538.72L93.44,538.19L94.96,537.68L96.48,537.19L98.00,536.71L99.52,536.26L101.04,535.83L102.56,535.42L104.08,535.03L105.60,534.66L107.12,534.32L108.65,534.00L110.17,533.70L111.69,533.42L113.21,533.17L114.73,532.95L116.25,532.75L117.77,532.57L119.29,532.42L120.81,532.29L122.33,532.18L123.85,532.09L125.38,532.02L126.90,531.97L128.42,531.93L129.94,531.91L131.46,531.90L132.98,531.90L134.50,531.91L136.02,531.94L137.54,531.97L139.06,532.01L140.58,532.06L142.10,532.11L143.62,532.17L145.15,532.22L146.67,532.28L148.19,532.35L149.71,532.41L151.23,532.46L152.75,532.52L154.27,532.57L155.79,532.61L157.31,532.65L158.83,532.68L160.35,532.70L161.88,532.72L163.40,532.71L164.92,532.70L166.44,532.67L167.96,532.63L169.48,532.57L171.00,532.50" fill="none" stroke="#000" stroke-width="4.80" stroke-linejoin="round"/>
<path d="M58.10,550.72h6.80M61.50,547.32v6.80M60.71,549.81h6.80M64.11,546.41v6.80M63.31,548.84h6.80M66.71,545.44v6.80M65.92,547.82h6.80M69.32,544.42v6.80M68.53,546.77h6.80M71.93,543.37v6.80M71.14,545.70h6.80M74.54,542.30v6.80M73.74,544.61h6.80M77.14,541.21v6.80M76.35,543.52h6.80M79.75,540.12v6.80M78.96,542.43h6.80M82.36,539.03v6.80M81.56,541.37h6.80M84.96,537.97v6.80M84.17,540.34h6.80M87.57,536.94v6.80M86.78,539.35h6.80M90.18,535.95v6.80M89.39,538.42h6.80M92.79,535.02v6.80M91.99,537.54h6.80M95.39,534.14v6.80M94.60,536.71h6.80M98.00,533.31v6.80M97.21,535.95h6.80M100.61,532.55v6.80M99.81,535.25h6.80M103.21,531.85v6.80M102.42,534.61h6.80M105.82,531.21v6.80M105.03,534.04h6.80M108.43,530.64v6.80M107.64,533.54h6.80M111.04,530.14v6.80M110.24,533.11h6.80M113.64,529.71v6.80M112.85,532.75h6.80M116.25,529.35v6.80M115.46,532.46h6.80M118.86,529.06v6.80M118.06,532.24h6.80M121.46,528.84v6.80M120.67,532.08h6.80M124.07,528.68v6.80M123.28,531.97h6.80M126.68,528.57v6.80M125.89,531.91h6.80M129.29,528.51v6.80M128.49,531.90h6.80M131.89,528.50v6.80M131.10,531.91h6.80M134.50,528.51v6.80M133.71,531.96h6.80M137.11,528.56v6.80M136.31,532.03h6.80M139.71,528.63v6.80M138.92,532.12h6.80M142.32,528.72v6.80M141.53,532.22h6.80M144.93,528.82v6.80M144.14,532.32h6.80M147.54,528.92v6.80M146.74,532.42h6.80M150.14,529.02v6.80M149.35,532.52h6.80M152.75,529.12v6.80M151.96,532.60h6.80M155.36,529.20v6.80M154.56,532.67h6.80M157.96,529.27v6.80M157.17,532.71h6.80M160.57,529.31v6.80M159.78,532.72h6.80M163.18,529.32v6.80M162.39,532.69h6.80M165.79,529.29v6.80M164.99,532.62h6.80M168.39,529.22v6.80M167.60,532.50h6.80M171.00,529.10v6.80" stroke="#000" stroke-width="1.7" fill="none"/>
<path d="M168.20,532.50H174.80M171.50,529.20V535.80" stroke="#000" stroke-width="1.6"/>
<path d="M61.50,553.42L63.02,553.44L64.54,553.44L66.06,553.43L67.58,553.41L69.10,553.38L70.62,553.33L72.15,553.28L73.67,553.21L75.19,553.13L76.71,553.04L78.23,552.94L79.75,552.82L81.27,552.70L82.79,552.57L84.31,552.42L85.83,552.27L87.35,552.10L88.88,551.92L90.40,551.73L91.92,551.54L93.44,551.33L94.96,551.11L96.48,550.88L98.00,550.64L99.52,550.40L101.04,550.14L102.56,549.87L104.08,549.59L105.60,549.30L107.12,549.01L108.65,548.70L110.17,548.39L111.69,548.06L113.21,547.73L114.73,547.39L116.25,547.04L117.77,546.68L119.29,546.31L120.81,545.93L122.33,545.54L123.85,545.15L125.38,544.74L126.90,544.33L128.42,543.91L129.94,543.49L131.46,543.05L132.98,542.61L134.50,542.16L136.02,541.70L137.54,541.23L139.06,540.75L140.58,540.27L142.10,539.78L143.62,539.29L145.15,538.78L146.67,538.27L148.19,537.75L149.71,537.23L151.23,536.70L152.75,536.16L154.27,535.61L155.79,535.06L157.31,534.50L158.83,533.94L160.35,533.37L161.88,532.79L163.40,532.21L164.92,531.62L166.44,531.02L167.96,530.42L169.48,529.81L171.00,529.20" fill="none" stroke="#000" stroke-width="4.80" stroke-linejoin="round"/>
<path d="M58.10,553.42h6.80M61.50,550.02v6.80M60.71,553.44h6.80M64.11,550.04v6.80M63.31,553.42h6.80M66.71,550.02v6.80M65.92,553.37h6.80M69.32,549.97v6.80M68.53,553.28h6.80M71.93,549.88v6.80M71.14,553.16h6.80M74.54,549.76v6.80M73.74,553.01h6.80M77.14,549.61v6.80M76.35,552.82h6.80M79.75,549.42v6.80M78.96,552.61h6.80M82.36,549.21v6.80M81.56,552.36h6.80M84.96,548.96v6.80M84.17,552.07h6.80M87.57,548.67v6.80M86.78,551.76h6.80M90.18,548.36v6.80M89.39,551.42h6.80M92.79,548.02v6.80M91.99,551.05h6.80M95.39,547.65v6.80M94.60,550.64h6.80M98.00,547.24v6.80M97.21,550.21h6.80M100.61,546.81v6.80M99.81,549.75h6.80M103.21,546.35v6.80M102.42,549.26h6.80M105.82,545.86v6.80M105.03,548.75h6.80M108.43,545.35v6.80M107.64,548.20h6.80M111.04,544.80v6.80M110.24,547.63h6.80M113.64,544.23v6.80M112.85,547.04h6.80M116.25,543.64v6.80M115.46,546.41h6.80M118.86,543.01v6.80M118.06,545.76h6.80M121.46,542.36v6.80M120.67,545.09h6.80M124.07,541.69v6.80M123.28,544.39h6.80M126.68,540.99v6.80M125.89,543.67h6.80M129.29,540.27v6.80M128.49,542.92h6.80M131.89,539.52v6.80M131.10,542.16h6.80M134.50,538.76v6.80M133.71,541.36h6.80M137.11,537.96v6.80M136.31,540.55h6.80M139.71,537.15v6.80M138.92,539.71h6.80M142.32,536.31v6.80M141.53,538.86h6.80M144.93,535.46v6.80M144.14,537.98h6.80M147.54,534.58v6.80M146.74,537.08h6.80M150.14,533.68v6.80M149.35,536.16h6.80M152.75,532.76v6.80M151.96,535.22h6.80M155.36,531.82v6.80M154.56,534.26h6.80M157.96,530.86v6.80M157.17,533.29h6.80M160.57,529.89v6.80M159.78,532.29h6.80M163.18,528.89v6.80M162.39,531.28h6.80M165.79,527.88v6.80M164.99,530.25h6.80M168.39,526.85v6.80M167.60,529.20h6.80M171.00,525.80v6.80" stroke="#000" stroke-width="1.7" fill="none"/>
<path d="M168.20,529.50H174.80M171.50,526.20V532.80" stroke="#000" stroke-width="1.6"/>
<path d="M68.00,551.75L69.54,551.75L71.07,551.73L72.61,551.70L74.15,551.66L75.69,551.62L77.22,551.56L78.76,551.49L80.30,551.42L81.84,551.33L83.37,551.24L84.91,551.13L86.45,551.01L87.99,550.88L89.52,550.75L91.06,550.60L92.60,550.44L94.13,550.27L95.67,550.09L97.21,549.90L98.75,549.70L100.28,549.48L101.82,549.26L103.36,549.02L104.90,548.78L106.43,548.52L107.97,548.25L109.51,547.97L111.04,547.68L112.58,547.37L114.12,547.06L115.66,546.73L117.19,546.39L118.73,546.04L120.27,545.67L121.81,545.30L123.34,544.91L124.88,544.51L126.42,544.10L127.96,543.67L129.49,543.23L131.03,542.78L132.57,542.32L134.10,541.84L135.64,541.36L137.18,540.85L138.72,540.34L140.25,539.81L141.79,539.27L143.33,538.72L144.87,538.16L146.40,537.59L147.94,537.02L149.48,536.44L151.01,535.87L152.55,535.29L154.09,534.72L155.63,534.15L157.16,533.59L158.70,533.04L160.24,532.50L161.78,531.97L163.31,531.46L164.85,530.97L166.39,530.49L167.93,530.04L169.46,529.61L171.00,529.20" fill="none" stroke="#EC3D64" stroke-width="2.6"/>
<path d="M61.50,550.70L63.02,550.19L64.54,549.66L66.07,549.10L67.59,548.53L69.11,547.94L70.63,547.33L72.15,546.72L73.68,546.09L75.20,545.46L76.72,544.82L78.24,544.18L79.76,543.55L81.29,542.91L82.81,542.28L84.33,541.65L85.85,541.04L87.38,540.43L88.90,539.85L90.42,539.27L91.94,538.72L93.46,538.19L94.99,537.67L96.51,537.18L98.03,536.70L99.55,536.25L101.07,535.81L102.60,535.40L104.12,535.01L105.64,534.64L107.16,534.30L108.68,533.97L110.21,533.68L111.73,533.40L113.25,533.15L114.77,532.92L116.29,532.72L117.82,532.54L119.34,532.39L120.86,532.26L122.38,532.14L123.90,532.05L125.43,531.98L126.95,531.92L128.47,531.89L129.99,531.86L131.51,531.85L133.04,531.86L134.56,531.88L136.08,531.90L137.60,531.94L139.12,531.99L140.65,532.05L142.17,532.11L143.69,532.18L145.21,532.25L146.74,532.33L148.26,532.41L149.78,532.49L151.30,532.57L152.82,532.65L154.35,532.73L155.87,532.81L157.39,532.88L158.91,532.95L160.43,533.02L161.96,533.07L163.48,533.12L165.00,533.16" fill="none" stroke="#7A7A1E" stroke-width="2.6"/>
<path d="M61.50,556.80L63.02,556.72L64.54,556.65L66.06,556.58L67.58,556.53L69.10,556.48L70.62,556.44L72.15,556.40L73.67,556.37L75.19,556.34L76.71,556.32L78.23,556.30L79.75,556.28L81.27,556.27L82.79,556.26L84.31,556.25L85.83,556.24L87.35,556.23L88.88,556.22L90.40,556.21L91.92,556.20L93.44,556.19L94.96,556.18L96.48,556.16L98.00,556.14L99.52,556.11L101.04,556.08L102.56,556.05L104.08,556.00L105.60,555.96L107.12,555.90L108.65,555.84L110.17,555.77L111.69,555.70L113.21,555.61L114.73,555.51L116.25,555.41L117.77,555.29L119.29,555.16L120.81,555.02L122.33,554.87L123.85,554.70L125.38,554.53L126.90,554.33L128.42,554.13L129.94,553.91L131.46,553.67L132.98,553.41L134.50,553.14L136.02,552.86L137.54,552.55L139.06,552.23L140.58,551.88L142.10,551.52L143.62,551.14L145.15,550.73L146.67,550.31L148.19,549.86L149.71,549.40L151.23,548.91L152.75,548.39L154.27,547.85L155.79,547.29L157.31,546.70L158.83,546.09L160.35,545.45L161.88,544.78L163.40,544.09L164.92,543.37L166.44,542.62L167.96,541.84L169.48,541.04L171.00,540.20" fill="none" stroke="#000" stroke-width="4.80" stroke-linejoin="round"/>
<path d="M58.10,556.80h6.80M61.50,553.40v6.80M60.71,556.67h6.80M64.11,553.27v6.80M63.31,556.56h6.80M66.71,553.16v6.80M65.92,556.47h6.80M69.32,553.07v6.80M68.53,556.40h6.80M71.93,553.00v6.80M71.14,556.35h6.80M74.54,552.95v6.80M73.74,556.31h6.80M77.14,552.91v6.80M76.35,556.28h6.80M79.75,552.88v6.80M78.96,556.26h6.80M82.36,552.86v6.80M81.56,556.24h6.80M84.96,552.84v6.80M84.17,556.23h6.80M87.57,552.83v6.80M86.78,556.21h6.80M90.18,552.81v6.80M89.39,556.20h6.80M92.79,552.80v6.80M91.99,556.17h6.80M95.39,552.77v6.80M94.60,556.14h6.80M98.00,552.74v6.80M97.21,556.09h6.80M100.61,552.69v6.80M99.81,556.03h6.80M103.21,552.63v6.80M102.42,555.95h6.80M105.82,552.55v6.80M105.03,555.85h6.80M108.43,552.45v6.80M107.64,555.73h6.80M111.04,552.33v6.80M110.24,555.58h6.80M113.64,552.18v6.80M112.85,555.41h6.80M116.25,552.01v6.80M115.46,555.20h6.80M118.86,551.80v6.80M118.06,554.96h6.80M121.46,551.56v6.80M120.67,554.68h6.80M124.07,551.28v6.80M123.28,554.36h6.80M126.68,550.96v6.80M125.89,554.00h6.80M129.29,550.60v6.80M128.49,553.60h6.80M131.89,550.20v6.80M131.10,553.14h6.80M134.50,549.74v6.80M133.71,552.64h6.80M137.11,549.24v6.80M136.31,552.08h6.80M139.71,548.68v6.80M138.92,551.47h6.80M142.32,548.07v6.80M141.53,550.79h6.80M144.93,547.39v6.80M144.14,550.06h6.80M147.54,546.66v6.80M146.74,549.26h6.80M150.14,545.86v6.80M149.35,548.39h6.80M152.75,544.99v6.80M151.96,547.45h6.80M155.36,544.05v6.80M154.56,546.44h6.80M157.96,543.04v6.80M157.17,545.36h6.80M160.57,541.96v6.80M159.78,544.19h6.80M163.18,540.79v6.80M162.39,542.95h6.80M165.79,539.55v6.80M164.99,541.62h6.80M168.39,538.22v6.80M167.60,540.20h6.80M171.00,536.80v6.80" stroke="#000" stroke-width="1.7" fill="none"/>
<path d="M168.20,540.20H174.80M171.50,536.90V543.50" stroke="#000" stroke-width="1.6"/>
<path d="M61.50,556.80L63.02,556.72L64.54,556.65L66.06,556.58L67.58,556.53L69.10,556.48L70.62,556.44L72.15,556.40L73.67,556.37L75.19,556.34L76.71,556.32L78.23,556.30L79.75,556.28L81.27,556.27L82.79,556.26L84.31,556.25L85.83,556.24L87.35,556.23L88.88,556.22L90.40,556.21L91.92,556.20L93.44,556.19L94.96,556.18L96.48,556.16L98.00,556.14L99.52,556.11L101.04,556.08L102.56,556.05L104.08,556.00L105.60,555.96L107.12,555.90L108.65,555.84L110.17,555.77L111.69,555.70L113.21,555.61L114.73,555.51L116.25,555.41L117.77,555.29L119.29,555.16L120.81,555.02L122.33,554.87L123.85,554.70L125.38,554.53L126.90,554.33L128.42,554.13L129.94,553.91L131.46,553.67L132.98,553.41L134.50,553.14L136.02,552.86L137.54,552.55L139.06,552.23L140.58,551.88L142.10,551.52L143.62,551.14L145.15,550.73L146.67,550.31L148.19,549.86L149.71,549.40L151.23,548.91L152.75,548.39L154.27,547.85L155.79,547.29L157.31,546.70L158.83,546.09L160.35,545.45L161.88,544.78L163.40,544.09L164.92,543.37L166.44,542.62L167.96,541.84L169.48,541.04L171.00,540.20" fill="none" stroke="#F6A043" stroke-width="2.6"/>
<rect x="202.4" y="450.9" width="135" height="114.5" fill="#fff" stroke="#8a8a8a" stroke-width="1"/>
<path d="M207.3,464.00H248.2" stroke="#F6A043" stroke-width="2.3"/>
<text x="252.3" y="470.5" font-size="16.7" text-anchor="start" font-weight="normal" fill="#000" >d1 - 3.75%</text>
<path d="M207.3,485.95H248.2" stroke="#EC3D64" stroke-width="2.3"/>
<text x="252.3" y="492.45" font-size="16.7" text-anchor="start" font-weight="normal" fill="#000" >d2 - 3.75%</text>
<path d="M207.3,507.90H248.2" stroke="#16B0E4" stroke-width="2.3"/>
<text x="252.3" y="514.4" font-size="16.7" text-anchor="start" font-weight="normal" fill="#000" >d4 - 3.75%</text>
<path d="M207.3,529.85H248.2" stroke="#12D41E" stroke-width="2.3"/>
<text x="252.3" y="536.35" font-size="16.7" text-anchor="start" font-weight="normal" fill="#000" >d4 - 7.5%</text>
<path d="M207.3,551.80H248.2" stroke="#7A7A1E" stroke-width="2.3"/>
<text x="252.3" y="558.3" font-size="16.7" text-anchor="start" font-weight="normal" fill="#000" >plug 4s</text>
<path d="M407.8,446V569.3H531.5" fill="none" stroke="#8a8a8a" stroke-width="1"/>
<path d="M407.8,548.70h1.5" stroke="#8a8a8a" stroke-width="1"/>
<path d="M407.8,528.10h1.5" stroke="#8a8a8a" stroke-width="1"/>
<path d="M407.8,507.50h1.5" stroke="#8a8a8a" stroke-width="1"/>
<path d="M407.8,486.90h1.5" stroke="#8a8a8a" stroke-width="1"/>
<path d="M407.8,466.30h1.5" stroke="#8a8a8a" stroke-width="1"/>
<path d="M448.97,569.3v-1.5" stroke="#8a8a8a" stroke-width="1"/>
<path d="M490.13,569.3v-1.5" stroke="#8a8a8a" stroke-width="1"/>
<text x="401.3" y="452.50" font-size="16.5" text-anchor="end" fill="#262626">12</text>
<text x="401.3" y="473.10" font-size="16.5" text-anchor="end" fill="#262626">10</text>
<text x="401.3" y="493.70" font-size="16.5" text-anchor="end" fill="#262626">8</text>
<text x="401.3" y="514.30" font-size="16.5" text-anchor="end" fill="#262626">6</text>
<text x="401.3" y="534.90" font-size="16.5" text-anchor="end" fill="#262626">4</text>
<text x="401.3" y="555.50" font-size="16.5" text-anchor="end" fill="#262626">2</text>
<text x="436.97" y="598" font-size="16.5" fill="#262626">10<tspan font-size="12.5" dy="-6.6">0</tspan></text>
<text x="478.13" y="598" font-size="16.5" fill="#262626">10<tspan font-size="12.5" dy="-6.6">2</tspan></text>
<text x="519.30" y="598" font-size="16.5" fill="#262626">10<tspan font-size="12.5" dy="-6.6">4</tspan></text>
<text x="470" y="619.5" font-size="16.5" text-anchor="middle" font-weight="normal" fill="#262626" >f (Hz)</text>
<text transform="translate(375.5,508.2) rotate(-90)" x="0" y="0" font-size="17" text-anchor="middle" fill="#262626"><tspan font-style="italic" font-family="Liberation Serif">σ</tspan>`` (mS/m)</text>
<text x="424.2" y="446.4" font-size="24" text-anchor="middle" font-weight="bold" fill="#000" >(f)</text>
<path d="M407.80,550.96L409.34,550.25L410.88,549.35L412.41,548.25L413.95,546.97L415.49,545.51L417.03,543.88L418.57,542.08L420.10,540.13L421.64,538.03L423.18,535.78L424.72,533.40L426.26,530.89L427.79,528.26L429.33,525.51L430.87,522.66L432.41,519.70L433.95,516.65L435.48,513.52L437.02,510.31L438.56,507.02L440.10,503.67L441.64,500.27L443.17,496.81L444.71,493.31L446.25,489.77L447.79,486.22L449.33,482.67L450.86,479.16L452.40,475.72L453.94,472.38L455.48,469.16L457.02,466.09L458.55,463.22L460.09,460.64L461.63,458.41L463.17,456.62L464.71,455.35L466.25,454.68L467.78,454.65L469.32,455.25L470.86,456.42L472.40,458.10L473.94,460.24L475.47,462.77L477.01,465.64L478.55,468.80L480.09,472.19L481.63,475.76L483.16,479.45L484.70,483.24L486.24,487.10L487.78,491.02L489.32,494.95L490.85,498.89L492.39,502.81L493.93,506.68L495.47,510.49L497.01,514.23L498.54,517.87L500.08,521.41L501.62,524.83L503.16,528.11L504.70,531.24L506.23,534.20L507.77,536.97L509.31,539.55L510.85,541.91L512.39,544.05L513.92,545.93L515.46,547.56L517.00,548.91" fill="none" stroke="#000" stroke-width="5.80" stroke-linejoin="round"/>
<path d="M403.90,550.96h7.80M407.80,547.06v7.80M406.50,549.65h7.80M410.40,545.75v7.80M409.10,547.79h7.80M413.00,543.89v7.80M411.70,545.40h7.80M415.60,541.50v7.80M414.30,542.53h7.80M418.20,538.63v7.80M416.90,539.20h7.80M420.80,535.30v7.80M419.50,535.45h7.80M423.40,531.55v7.80M422.10,531.32h7.80M426.00,527.42v7.80M424.70,526.83h7.80M428.60,522.93v7.80M427.30,522.03h7.80M431.20,518.13v7.80M429.90,516.95h7.80M433.80,513.05v7.80M432.50,511.62h7.80M436.40,507.72v7.80M435.10,506.07h7.80M439.00,502.17v7.80M437.70,500.35h7.80M441.60,496.45v7.80M440.30,494.48h7.80M444.20,490.58v7.80M442.90,488.50h7.80M446.80,484.60v7.80M445.50,482.50h7.80M449.40,478.60v7.80M448.10,476.62h7.80M452.00,472.72v7.80M450.70,470.98h7.80M454.60,467.08v7.80M453.30,465.73h7.80M457.20,461.83v7.80M455.90,461.10h7.80M459.80,457.20v7.80M458.50,457.46h7.80M462.40,453.56v7.80M461.10,455.17h7.80M465.00,451.27v7.80M463.70,454.62h7.80M467.60,450.72v7.80M466.30,455.86h7.80M470.20,451.96v7.80M468.90,458.62h7.80M472.80,454.72v7.80M471.50,462.64h7.80M475.40,458.74v7.80M474.10,467.65h7.80M478.00,463.75v7.80M476.70,473.37h7.80M480.60,469.47v7.80M479.30,479.54h7.80M483.20,475.64v7.80M481.90,485.99h7.80M485.80,482.09v7.80M484.50,492.61h7.80M488.40,488.71v7.80M487.10,499.27h7.80M491.00,495.37v7.80M489.70,505.86h7.80M493.60,501.96v7.80M492.30,512.28h7.80M496.20,508.38v7.80M494.90,518.47h7.80M498.80,514.57v7.80M497.50,524.35h7.80M501.40,520.45v7.80M500.10,529.84h7.80M504.00,525.94v7.80M502.70,534.88h7.80M506.60,530.98v7.80M505.30,539.37h7.80M509.20,535.47v7.80M507.90,543.26h7.80M511.80,539.36v7.80M510.50,546.46h7.80M514.40,542.56v7.80M513.10,548.91h7.80M517.00,545.01v7.80" stroke="#000" stroke-width="1.7" fill="none"/>
<path d="M514.70,550.00H521.30M518.00,546.70V553.30" stroke="#000" stroke-width="1.6"/>
<path d="M407.80,554.35L409.33,552.97L410.86,551.62L412.39,550.28L413.92,548.93L415.45,547.54L416.99,546.09L418.52,544.55L420.05,542.90L421.58,541.11L423.11,539.17L424.64,537.05L426.17,534.72L427.70,532.16L429.23,529.34L430.76,526.25L432.30,522.88L433.83,519.27L435.36,515.46L436.89,511.51L438.42,507.46L439.95,503.36L441.48,499.24L443.01,495.17L444.54,491.18L446.07,487.32L447.61,483.63L449.14,480.12L450.67,476.81L452.20,473.74L453.73,470.90L455.26,468.33L456.79,466.04L458.32,464.05L459.85,462.39L461.38,461.06L462.92,460.09L464.45,459.50L465.98,459.31L467.51,459.53L469.04,460.15L470.57,461.16L472.10,462.57L473.63,464.35L475.16,466.50L476.69,469.02L478.23,471.86L479.76,474.94L481.29,478.18L482.82,481.52L484.35,484.94L485.88,488.47L487.41,492.11L488.94,495.89L490.47,499.81L492.00,503.90L493.54,508.12L495.07,512.39L496.60,516.57L498.13,520.55L499.66,524.30L501.19,527.78L502.72,530.99L504.25,533.89L505.78,536.51L507.31,538.87L508.85,541.01L510.38,542.96L511.91,544.75L513.44,546.42L514.97,547.99L516.50,549.50" fill="none" stroke="#12D41E" stroke-width="2.6"/>
<path d="M407.80,547.49L409.34,545.29L410.88,543.26L412.42,541.38L413.96,539.66L415.50,538.12L417.05,536.75L418.59,535.55L420.13,534.53L421.67,533.69L423.21,533.03L424.75,532.57L426.29,532.30L427.83,532.22L429.37,532.34L430.91,532.66L432.45,533.19L434.00,533.92L435.54,534.87L437.08,536.04L438.62,537.41L440.16,538.93L441.70,540.58L443.24,542.28L444.78,544.00L446.32,545.68L447.86,547.30L449.40,548.84L450.95,550.32L452.49,551.73L454.03,553.06L455.57,554.32L457.11,555.49L458.65,556.59L460.19,557.62L461.73,558.57L463.27,559.45L464.81,560.27L466.35,561.03L467.90,561.72L469.44,562.36L470.98,562.94L472.52,563.48L474.06,563.97L475.60,564.41L477.14,564.81L478.68,565.17L480.22,565.49L481.76,565.78L483.30,566.04L484.85,566.28L486.39,566.49L487.93,566.67L489.47,566.85L491.01,567.00L492.55,567.14L494.09,567.27L495.63,567.40L497.17,567.52L498.71,567.65L500.25,567.77L501.80,567.90L503.34,568.04L504.88,568.19L506.42,568.35L507.96,568.53L509.50,568.74" fill="none" stroke="#000" stroke-width="6.80" stroke-linejoin="round"/>
<path d="M403.40,547.49h8.80M407.80,543.09v8.80M406.01,543.87h8.80M410.41,539.47v8.80M408.62,540.70h8.80M413.02,536.30v8.80M411.22,538.01h8.80M415.62,533.61v8.80M413.83,535.81h8.80M418.23,531.41v8.80M416.44,534.12h8.80M420.84,529.72v8.80M419.05,532.95h8.80M423.45,528.55v8.80M421.65,532.32h8.80M426.05,527.92v8.80M424.26,532.26h8.80M428.66,527.86v8.80M426.87,532.76h8.80M431.27,528.36v8.80M429.48,533.86h8.80M433.88,529.46v8.80M432.08,535.56h8.80M436.48,531.16v8.80M434.69,537.86h8.80M439.09,533.46v8.80M437.30,540.58h8.80M441.70,536.18v8.80M439.91,543.47h8.80M444.31,539.07v8.80M442.52,546.31h8.80M446.92,541.91v8.80M445.12,548.96h8.80M449.52,544.56v8.80M447.73,551.41h8.80M452.13,547.01v8.80M450.34,553.65h8.80M454.74,549.25v8.80M452.95,555.67h8.80M457.35,551.27v8.80M455.55,557.46h8.80M459.95,553.06v8.80M458.16,559.05h8.80M462.56,554.65v8.80M460.77,560.45h8.80M465.17,556.05v8.80M463.38,561.67h8.80M467.78,557.27v8.80M465.98,562.73h8.80M470.38,558.33v8.80M468.59,563.63h8.80M472.99,559.23v8.80M471.20,564.41h8.80M475.60,560.01v8.80M473.81,565.06h8.80M478.21,560.66v8.80M476.42,565.61h8.80M480.82,561.21v8.80M479.02,566.06h8.80M483.42,561.66v8.80M481.63,566.44h8.80M486.03,562.04v8.80M484.24,566.76h8.80M488.64,562.36v8.80M486.85,567.02h8.80M491.25,562.62v8.80M489.45,567.26h8.80M493.85,562.86v8.80M492.06,567.47h8.80M496.46,563.07v8.80M494.67,567.68h8.80M499.07,563.28v8.80M497.28,567.89h8.80M501.68,563.49v8.80M499.88,568.13h8.80M504.28,563.73v8.80M502.49,568.41h8.80M506.89,564.01v8.80M505.10,568.74h8.80M509.50,564.34v8.80" stroke="#000" stroke-width="1.7" fill="none"/>
<path d="M506.70,568.60H513.30M510.00,565.30V571.90" stroke="#000" stroke-width="1.6"/>
<path d="M407.80,547.49L409.34,545.29L410.88,543.26L412.42,541.38L413.96,539.66L415.50,538.12L417.05,536.75L418.59,535.55L420.13,534.53L421.67,533.69L423.21,533.03L424.75,532.57L426.29,532.30L427.83,532.22L429.37,532.34L430.91,532.66L432.45,533.19L434.00,533.92L435.54,534.87L437.08,536.04L438.62,537.41L440.16,538.93L441.70,540.58L443.24,542.28L444.78,544.00L446.32,545.68L447.86,547.30L449.40,548.84L450.95,550.32L452.49,551.73L454.03,553.06L455.57,554.32L457.11,555.49L458.65,556.59L460.19,557.62L461.73,558.57L463.27,559.45L464.81,560.27L466.35,561.03L467.90,561.72L469.44,562.36L470.98,562.94L472.52,563.48L474.06,563.97L475.60,564.41L477.14,564.81L478.68,565.17L480.22,565.49L481.76,565.78L483.30,566.04L484.85,566.28L486.39,566.49L487.93,566.67L489.47,566.85L491.01,567.00L492.55,567.14L494.09,567.27L495.63,567.40L497.17,567.52L498.71,567.65L500.25,567.77L501.80,567.90L503.34,568.04L504.88,568.19L506.42,568.35L507.96,568.53L509.50,568.74" fill="none" stroke="#7A7A1E" stroke-width="2.6"/>
<path d="M407.80,563.33L409.34,563.24L410.88,563.01L412.41,562.65L413.95,562.18L415.49,561.60L417.03,560.91L418.57,560.14L420.10,559.29L421.64,558.36L423.18,557.38L424.72,556.34L426.26,555.26L427.79,554.14L429.33,553.00L430.87,551.85L432.41,550.69L433.95,549.54L435.48,548.40L437.02,547.28L438.56,546.19L440.10,545.15L441.64,544.16L443.17,543.23L444.71,542.37L446.25,541.58L447.79,540.89L449.33,540.30L450.86,539.81L452.40,539.44L453.94,539.20L455.48,539.07L457.02,539.06L458.55,539.15L460.09,539.35L461.63,539.65L463.17,540.05L464.71,540.54L466.25,541.12L467.78,541.78L469.32,542.52L470.86,543.33L472.40,544.20L473.94,545.12L475.47,546.09L477.01,547.10L478.55,548.13L480.09,549.17L481.63,550.23L483.16,551.28L484.70,552.32L486.24,553.34L487.78,554.34L489.32,555.29L490.85,556.20L492.39,557.05L493.93,557.86L495.47,558.62L497.01,559.33L498.54,560.00L500.08,560.64L501.62,561.24L503.16,561.81L504.70,562.35L506.23,562.87L507.77,563.36L509.31,563.83L510.85,564.29L512.39,564.74L513.92,565.17L515.46,565.60L517.00,566.02" fill="none" stroke="#000" stroke-width="6.80" stroke-linejoin="round"/>
<path d="M403.40,563.33h8.80M407.80,558.93v8.80M406.00,563.10h8.80M410.40,558.70v8.80M408.60,562.49h8.80M413.00,558.09v8.80M411.20,561.55h8.80M415.60,557.15v8.80M413.80,560.33h8.80M418.20,555.93v8.80M416.40,558.88h8.80M420.80,554.48v8.80M419.00,557.23h8.80M423.40,552.83v8.80M421.60,555.44h8.80M426.00,551.04v8.80M424.20,553.55h8.80M428.60,549.15v8.80M426.80,551.60h8.80M431.20,547.20v8.80M429.40,549.65h8.80M433.80,545.25v8.80M432.00,547.73h8.80M436.40,543.33v8.80M434.60,545.89h8.80M439.00,541.49v8.80M437.20,544.18h8.80M441.60,539.78v8.80M439.80,542.64h8.80M444.20,538.24v8.80M442.40,541.33h8.80M446.80,536.93v8.80M445.00,540.27h8.80M449.40,535.87v8.80M447.60,539.53h8.80M452.00,535.13v8.80M450.20,539.13h8.80M454.60,534.73v8.80M452.80,539.06h8.80M457.20,534.66v8.80M455.40,539.31h8.80M459.80,534.91v8.80M458.00,539.84h8.80M462.40,535.44v8.80M460.60,540.64h8.80M465.00,536.24v8.80M463.20,541.70h8.80M467.60,537.30v8.80M465.80,542.97h8.80M470.20,538.57v8.80M468.40,544.43h8.80M472.80,540.03v8.80M471.00,546.04h8.80M475.40,541.64v8.80M473.60,547.76h8.80M478.00,543.36v8.80M476.20,549.52h8.80M480.60,545.12v8.80M478.80,551.31h8.80M483.20,546.91v8.80M481.40,553.06h8.80M485.80,548.66v8.80M484.00,554.73h8.80M488.40,550.33v8.80M486.60,556.28h8.80M491.00,551.88v8.80M489.20,557.69h8.80M493.60,553.29v8.80M491.80,558.96h8.80M496.20,554.56v8.80M494.40,560.11h8.80M498.80,555.71v8.80M497.00,561.16h8.80M501.40,556.76v8.80M499.60,562.11h8.80M504.00,557.71v8.80M502.20,562.99h8.80M506.60,558.59v8.80M504.80,563.80h8.80M509.20,559.40v8.80M507.40,564.57h8.80M511.80,560.17v8.80M510.00,565.30h8.80M514.40,560.90v8.80M512.60,566.02h8.80M517.00,561.62v8.80" stroke="#000" stroke-width="1.7" fill="none"/>
<path d="M514.20,566.10H520.80M517.50,562.80V569.40" stroke="#000" stroke-width="1.6"/>
<path d="M407.80,563.33L409.34,563.24L410.88,563.01L412.41,562.65L413.95,562.18L415.49,561.60L417.03,560.91L418.57,560.14L420.10,559.29L421.64,558.36L423.18,557.38L424.72,556.34L426.26,555.26L427.79,554.14L429.33,553.00L430.87,551.85L432.41,550.69L433.95,549.54L435.48,548.40L437.02,547.28L438.56,546.19L440.10,545.15L441.64,544.16L443.17,543.23L444.71,542.37L446.25,541.58L447.79,540.89L449.33,540.30L450.86,539.81L452.40,539.44L453.94,539.20L455.48,539.07L457.02,539.06L458.55,539.15L460.09,539.35L461.63,539.65L463.17,540.05L464.71,540.54L466.25,541.12L467.78,541.78L469.32,542.52L470.86,543.33L472.40,544.20L473.94,545.12L475.47,546.09L477.01,547.10L478.55,548.13L480.09,549.17L481.63,550.23L483.16,551.28L484.70,552.32L486.24,553.34L487.78,554.34L489.32,555.29L490.85,556.20L492.39,557.05L493.93,557.86L495.47,558.62L497.01,559.33L498.54,560.00L500.08,560.64L501.62,561.24L503.16,561.81L504.70,562.35L506.23,562.87L507.77,563.36L509.31,563.83L510.85,564.29L512.39,564.74L513.92,565.17L515.46,565.60L517.00,566.02" fill="none" stroke="#16B0E4" stroke-width="2.6"/>
<path d="M407.80,568.35L409.34,568.16L410.88,567.97L412.41,567.79L413.95,567.60L415.49,567.41L417.03,567.21L418.57,567.01L420.10,566.80L421.64,566.58L423.18,566.34L424.72,566.09L426.26,565.82L427.79,565.53L429.33,565.21L430.87,564.88L432.41,564.52L433.95,564.13L435.48,563.70L437.02,563.25L438.56,562.76L440.10,562.24L441.64,561.68L443.17,561.08L444.71,560.43L446.25,559.74L447.79,559.01L449.33,558.22L450.86,557.38L452.40,556.49L453.94,555.55L455.48,554.55L457.02,553.49L458.55,552.37L460.09,551.20L461.63,549.97L463.17,548.70L464.71,547.38L466.25,546.02L467.78,544.63L469.32,543.23L470.86,541.86L472.40,540.54L473.94,539.31L475.47,538.20L477.01,537.24L478.55,536.41L480.09,535.72L481.63,535.17L483.16,534.75L484.70,534.46L486.24,534.30L487.78,534.26L489.32,534.34L490.85,534.54L492.39,534.86L493.93,535.29L495.47,535.83L497.01,536.48L498.54,537.23L500.08,538.08L501.62,539.03L503.16,540.07L504.70,541.21L506.23,542.40L507.77,543.62L509.31,544.84L510.85,546.02L512.39,547.12L513.92,548.12L515.46,548.97L517.00,549.66" fill="none" stroke="#000" stroke-width="6.80" stroke-linejoin="round"/>
<path d="M403.40,568.35h8.80M407.80,563.95v8.80M406.00,568.03h8.80M410.40,563.63v8.80M408.60,567.72h8.80M413.00,563.32v8.80M411.20,567.40h8.80M415.60,563.00v8.80M413.80,567.06h8.80M418.20,562.66v8.80M416.40,566.70h8.80M420.80,562.30v8.80M419.00,566.30h8.80M423.40,561.90v8.80M421.60,565.86h8.80M426.00,561.46v8.80M424.20,565.37h8.80M428.60,560.97v8.80M426.80,564.80h8.80M431.20,560.40v8.80M429.40,564.16h8.80M433.80,559.76v8.80M432.00,563.44h8.80M436.40,559.04v8.80M434.60,562.62h8.80M439.00,558.22v8.80M437.20,561.69h8.80M441.60,557.29v8.80M439.80,560.65h8.80M444.20,556.25v8.80M442.40,559.48h8.80M446.80,555.08v8.80M445.00,558.18h8.80M449.40,553.78v8.80M447.60,556.73h8.80M452.00,552.33v8.80M450.20,555.13h8.80M454.60,550.73v8.80M452.80,553.36h8.80M457.20,548.96v8.80M455.40,551.42h8.80M459.80,547.02v8.80M458.00,549.34h8.80M462.40,544.94v8.80M460.60,547.12h8.80M465.00,542.72v8.80M463.20,544.79h8.80M467.60,540.39v8.80M465.80,542.44h8.80M470.20,538.04v8.80M468.40,540.21h8.80M472.80,535.81v8.80M471.00,538.25h8.80M475.40,533.85v8.80M473.60,536.69h8.80M478.00,532.29v8.80M476.20,535.52h8.80M480.60,531.12v8.80M478.80,534.74h8.80M483.20,530.34v8.80M481.40,534.33h8.80M485.80,529.93v8.80M484.00,534.28h8.80M488.40,529.88v8.80M486.60,534.57h8.80M491.00,530.17v8.80M489.20,535.19h8.80M493.60,530.79v8.80M491.80,536.12h8.80M496.20,531.72v8.80M494.40,537.36h8.80M498.80,532.96v8.80M497.00,538.89h8.80M501.40,534.49v8.80M499.60,540.69h8.80M504.00,536.29v8.80M502.20,542.69h8.80M506.60,538.29v8.80M504.80,544.75h8.80M509.20,540.35v8.80M507.40,546.71h8.80M511.80,542.31v8.80M510.00,548.40h8.80M514.40,544.00v8.80M512.60,549.66h8.80M517.00,545.26v8.80" stroke="#000" stroke-width="1.7" fill="none"/>
<path d="M514.20,549.50H520.80M517.50,546.20V552.80" stroke="#000" stroke-width="1.6"/>
<path d="M407.80,568.35L409.34,568.16L410.88,567.97L412.41,567.79L413.95,567.60L415.49,567.41L417.03,567.21L418.57,567.01L420.10,566.80L421.64,566.58L423.18,566.34L424.72,566.09L426.26,565.82L427.79,565.53L429.33,565.21L430.87,564.88L432.41,564.52L433.95,564.13L435.48,563.70L437.02,563.25L438.56,562.76L440.10,562.24L441.64,561.68L443.17,561.08L444.71,560.43L446.25,559.74L447.79,559.01L449.33,558.22L450.86,557.38L452.40,556.49L453.94,555.55L455.48,554.55L457.02,553.49L458.55,552.37L460.09,551.20L461.63,549.97L463.17,548.70L464.71,547.38L466.25,546.02L467.78,544.63L469.32,543.23L470.86,541.86L472.40,540.54L473.94,539.31L475.47,538.20L477.01,537.24L478.55,536.41L480.09,535.72L481.63,535.17L483.16,534.75L484.70,534.46L486.24,534.30L487.78,534.26L489.32,534.34L490.85,534.54L492.39,534.86L493.93,535.29L495.47,535.83L497.01,536.48L498.54,537.23L500.08,538.08L501.62,539.03L503.16,540.07L504.70,541.21L506.23,542.40L507.77,543.62L509.31,544.84L510.85,546.02L512.39,547.12L513.92,548.12L515.46,548.97L517.00,549.66" fill="none" stroke="#EC3D64" stroke-width="2.6"/>
<path d="M407.80,568.87L409.34,568.92L410.88,568.97L412.41,569.00L413.95,569.01L415.49,569.01L417.03,568.99L418.57,568.96L420.10,568.91L421.64,568.85L423.18,568.77L424.72,568.67L426.26,568.56L427.79,568.42L429.33,568.27L430.87,568.10L432.41,567.91L433.95,567.70L435.48,567.47L437.02,567.22L438.56,566.95L440.10,566.66L441.64,566.35L443.17,566.01L444.71,565.66L446.25,565.28L447.79,564.87L449.33,564.44L450.86,563.99L452.40,563.52L453.94,563.02L455.48,562.49L457.02,561.94L458.55,561.36L460.09,560.76L461.63,560.13L463.17,559.47L464.71,558.78L466.25,558.07L467.78,557.33L469.32,556.56L470.86,555.75L472.40,554.92L473.94,554.06L475.47,553.17L477.01,552.25L478.55,551.30L480.09,550.32L481.63,549.31L483.16,548.29L484.70,547.26L486.24,546.22L487.78,545.18L489.32,544.15L490.85,543.12L492.39,542.11L493.93,541.13L495.47,540.17L497.01,539.24L498.54,538.36L500.08,537.51L501.62,536.72L503.16,535.98L504.70,535.30L506.23,534.69L507.77,534.15L509.31,533.69L510.85,533.31L512.39,533.02L513.92,532.83L515.46,532.73L517.00,532.74" fill="none" stroke="#000" stroke-width="5.80" stroke-linejoin="round"/>
<path d="M403.90,568.87h7.80M407.80,564.97v7.80M406.50,568.96h7.80M410.40,565.06v7.80M409.10,569.00h7.80M413.00,565.10v7.80M411.70,569.01h7.80M415.60,565.11v7.80M414.30,568.97h7.80M418.20,565.07v7.80M416.90,568.89h7.80M420.80,564.99v7.80M419.50,568.76h7.80M423.40,564.86v7.80M422.10,568.58h7.80M426.00,564.68v7.80M424.70,568.35h7.80M428.60,564.45v7.80M427.30,568.06h7.80M431.20,564.16v7.80M429.90,567.72h7.80M433.80,563.82v7.80M432.50,567.33h7.80M436.40,563.43v7.80M435.10,566.87h7.80M439.00,562.97v7.80M437.70,566.36h7.80M441.60,562.46v7.80M440.30,565.78h7.80M444.20,561.88v7.80M442.90,565.13h7.80M446.80,561.23v7.80M445.50,564.42h7.80M449.40,560.52v7.80M448.10,563.64h7.80M452.00,559.74v7.80M450.70,562.79h7.80M454.60,558.89v7.80M453.30,561.87h7.80M457.20,557.97v7.80M455.90,560.87h7.80M459.80,556.97v7.80M458.50,559.80h7.80M462.40,555.90v7.80M461.10,558.65h7.80M465.00,554.75v7.80M463.70,557.42h7.80M467.60,553.52v7.80M466.30,556.10h7.80M470.20,552.20v7.80M468.90,554.70h7.80M472.80,550.80v7.80M471.50,553.22h7.80M475.40,549.32v7.80M474.10,551.64h7.80M478.00,547.74v7.80M476.70,549.99h7.80M480.60,546.09v7.80M479.30,548.27h7.80M483.20,544.37v7.80M481.90,546.52h7.80M485.80,542.62v7.80M484.50,544.76h7.80M488.40,540.86v7.80M487.10,543.03h7.80M491.00,539.13v7.80M489.70,541.34h7.80M493.60,537.44v7.80M492.30,539.72h7.80M496.20,535.82v7.80M494.90,538.21h7.80M498.80,534.31v7.80M497.50,536.83h7.80M501.40,532.93v7.80M500.10,535.60h7.80M504.00,531.70v7.80M502.70,534.56h7.80M506.60,530.66v7.80M505.30,533.72h7.80M509.20,529.82v7.80M507.90,533.12h7.80M511.80,529.22v7.80M510.50,532.79h7.80M514.40,528.89v7.80M513.10,532.74h7.80M517.00,528.84v7.80" stroke="#000" stroke-width="1.7" fill="none"/>
<path d="M514.20,533.00H520.80M517.50,529.70V536.30" stroke="#000" stroke-width="1.6"/>
<path d="M407.80,568.87L409.34,568.92L410.88,568.97L412.41,569.00L413.95,569.01L415.49,569.01L417.03,568.99L418.57,568.96L420.10,568.91L421.64,568.85L423.18,568.77L424.72,568.67L426.26,568.56L427.79,568.42L429.33,568.27L430.87,568.10L432.41,567.91L433.95,567.70L435.48,567.47L437.02,567.22L438.56,566.95L440.10,566.66L441.64,566.35L443.17,566.01L444.71,565.66L446.25,565.28L447.79,564.87L449.33,564.44L450.86,563.99L452.40,563.52L453.94,563.02L455.48,562.49L457.02,561.94L458.55,561.36L460.09,560.76L461.63,560.13L463.17,559.47L464.71,558.78L466.25,558.07L467.78,557.33L469.32,556.56L470.86,555.75L472.40,554.92L473.94,554.06L475.47,553.17L477.01,552.25L478.55,551.30L480.09,550.32L481.63,549.31L483.16,548.29L484.70,547.26L486.24,546.22L487.78,545.18L489.32,544.15L490.85,543.12L492.39,542.11L493.93,541.13L495.47,540.17L497.01,539.24L498.54,538.36L500.08,537.51L501.62,536.72L503.16,535.98L504.70,535.30L506.23,534.69L507.77,534.15L509.31,533.69L510.85,533.31L512.39,533.02L513.92,532.83L515.46,532.73L517.00,532.74" fill="none" stroke="#F6A043" stroke-width="2.6"/>
<path d="M61.5,645V767.5H185" fill="none" stroke="#8a8a8a" stroke-width="1"/>
<path d="M61.5,736.88h1.5" stroke="#8a8a8a" stroke-width="1"/>
<path d="M61.5,706.25h1.5" stroke="#8a8a8a" stroke-width="1"/>
<path d="M61.5,675.62h1.5" stroke="#8a8a8a" stroke-width="1"/>
<path d="M102.67,767.5v-1.5" stroke="#8a8a8a" stroke-width="1"/>
<path d="M143.83,767.5v-1.5" stroke="#8a8a8a" stroke-width="1"/>
<text x="55.3" y="651.80" font-size="16.5" text-anchor="end" fill="#262626">80</text>
<text x="55.3" y="682.42" font-size="16.5" text-anchor="end" fill="#262626">60</text>
<text x="55.3" y="713.05" font-size="16.5" text-anchor="end" fill="#262626">40</text>
<text x="55.3" y="743.67" font-size="16.5" text-anchor="end" fill="#262626">20</text>
<text x="90.67" y="795.6" font-size="16.5" fill="#262626">10<tspan font-size="12.5" dy="-6.6">0</tspan></text>
<text x="131.83" y="795.6" font-size="16.5" fill="#262626">10<tspan font-size="12.5" dy="-6.6">2</tspan></text>
<text x="173.00" y="795.6" font-size="16.5" fill="#262626">10<tspan font-size="12.5" dy="-6.6">4</tspan></text>
<text x="124" y="817.5" font-size="16.5" text-anchor="middle" font-weight="normal" fill="#262626" >f (Hz)</text>
<text transform="translate(28.5,706) rotate(-90)" x="0" y="0" font-size="17" text-anchor="middle" fill="#262626"><tspan font-style="italic" font-family="Liberation Serif">σ</tspan>` (mS/m)</text>
<text x="80.9" y="648.5" font-size="24" text-anchor="middle" font-weight="bold" fill="#000" >(g)</text>
<rect x="184.5" y="651.3" width="174" height="93.1" fill="#fff"/>
<path d="M184.5,651.3H358.5V744.4H184.5" fill="none" stroke="#8a8a8a" stroke-width="1"/>
<path d="M188.4,664.40H229.8" stroke="#F6A043" stroke-width="2.3"/>
<text x="233.7" y="670.9" font-size="16.7" text-anchor="start" font-weight="normal" fill="#000" >d1 25g + d2 25g</text>
<path d="M188.4,686.70H229.8" stroke="#EC3D64" stroke-width="2.3"/>
<text x="233.7" y="693.1999999999999" font-size="16.7" text-anchor="start" font-weight="normal" fill="#000" >d1 25g + d4 25g</text>
<path d="M188.4,709.00H229.8" stroke="#16B0E4" stroke-width="2.3"/>
<text x="233.7" y="715.5" font-size="16.7" text-anchor="start" font-weight="normal" fill="#000" >d2 25g + d4 25g</text>
<path d="M188.4,731.30H229.8" stroke="#12D41E" stroke-width="2.3"/>
<text x="233.7" y="737.8" font-size="16.7" text-anchor="start" font-weight="normal" fill="#000" >d2 25g + d4 50g</text>
<path d="M61.50,728.03L63.02,727.62L64.54,727.24L66.06,726.86L67.57,726.50L69.09,726.15L70.61,725.81L72.13,725.49L73.65,725.17L75.17,724.86L76.69,724.56L78.20,724.26L79.72,723.97L81.24,723.69L82.76,723.41L84.28,723.14L85.80,722.87L87.31,722.60L88.83,722.33L90.35,722.06L91.87,721.80L93.39,721.53L94.91,721.26L96.43,720.99L97.94,720.71L99.46,720.43L100.98,720.15L102.50,719.86L104.02,719.56L105.54,719.25L107.06,718.94L108.57,718.62L110.09,718.28L111.61,717.94L113.13,717.59L114.65,717.22L116.17,716.84L117.69,716.44L119.20,716.04L120.72,715.61L122.24,715.17L123.76,714.71L125.28,714.24L126.80,713.74L128.31,713.23L129.83,712.69L131.35,712.13L132.87,711.56L134.39,710.96L135.91,710.34L137.43,709.70L138.94,709.05L140.46,708.37L141.98,707.68L143.50,706.97L145.02,706.24L146.54,705.50L148.06,704.74L149.57,703.96L151.09,703.17L152.61,702.36L154.13,701.54L155.65,700.71L157.17,699.86L158.69,699.00L160.20,698.12L161.72,697.24L163.24,696.34L164.76,695.44L166.28,694.53L167.80,693.62L169.31,692.70L170.83,691.78L172.35,690.86L173.87,689.95L175.39,689.04L176.91,688.13L178.43,687.23L179.94,686.34L181.46,685.47L182.98,684.60L184.50,683.75" fill="none" stroke="#000" stroke-width="5.30" stroke-linejoin="round"/>
<path d="M57.85,728.03h7.30M61.50,724.38v7.30M60.47,727.34h7.30M64.12,723.69v7.30M63.08,726.70h7.30M66.73,723.05v7.30M65.70,726.09h7.30M69.35,722.44v7.30M68.32,725.52h7.30M71.97,721.87v7.30M70.94,724.97h7.30M74.59,721.32v7.30M73.55,724.45h7.30M77.20,720.80v7.30M76.17,723.95h7.30M79.82,720.30v7.30M78.79,723.47h7.30M82.44,719.82v7.30M81.40,723.00h7.30M85.05,719.35v7.30M84.02,722.54h7.30M87.67,718.89v7.30M86.64,722.08h7.30M90.29,718.43v7.30M89.25,721.61h7.30M92.90,717.96v7.30M91.87,721.15h7.30M95.52,717.50v7.30M94.49,720.68h7.30M98.14,717.03v7.30M97.11,720.19h7.30M100.76,716.54v7.30M99.72,719.69h7.30M103.37,716.04v7.30M102.34,719.16h7.30M105.99,715.51v7.30M104.96,718.61h7.30M108.61,714.96v7.30M107.57,718.03h7.30M111.22,714.38v7.30M110.19,717.42h7.30M113.84,713.77v7.30M112.81,716.76h7.30M116.46,713.11v7.30M115.42,716.07h7.30M119.07,712.42v7.30M118.04,715.33h7.30M121.69,711.68v7.30M120.66,714.54h7.30M124.31,710.89v7.30M123.28,713.70h7.30M126.93,710.05v7.30M125.89,712.79h7.30M129.54,709.14v7.30M128.51,711.83h7.30M132.16,708.18v7.30M131.13,710.80h7.30M134.78,707.15v7.30M133.74,709.72h7.30M137.39,706.07v7.30M136.36,708.58h7.30M140.01,704.93v7.30M138.98,707.38h7.30M142.63,703.73v7.30M141.59,706.13h7.30M145.24,702.48v7.30M144.21,704.83h7.30M147.86,701.18v7.30M146.83,703.49h7.30M150.48,699.84v7.30M149.45,702.10h7.30M153.10,698.45v7.30M152.06,700.67h7.30M155.71,697.02v7.30M154.68,699.20h7.30M158.33,695.55v7.30M157.30,697.69h7.30M160.95,694.04v7.30M159.91,696.15h7.30M163.56,692.50v7.30M162.53,694.59h7.30M166.18,690.94v7.30M165.15,693.01h7.30M168.80,689.36v7.30M167.76,691.43h7.30M171.41,687.78v7.30M170.38,689.85h7.30M174.03,686.20v7.30M173.00,688.28h7.30M176.65,684.63v7.30M175.62,686.74h7.30M179.27,683.09v7.30M178.23,685.23h7.30M181.88,681.58v7.30M180.85,683.75h7.30M184.50,680.10v7.30" stroke="#000" stroke-width="1.7" fill="none"/>
<path d="M181.70,684.00H188.30M185.00,680.70V687.30" stroke="#000" stroke-width="1.6"/>
<path d="M61.50,728.03L63.02,727.62L64.54,727.24L66.06,726.86L67.57,726.50L69.09,726.15L70.61,725.81L72.13,725.49L73.65,725.17L75.17,724.86L76.69,724.56L78.20,724.26L79.72,723.97L81.24,723.69L82.76,723.41L84.28,723.14L85.80,722.87L87.31,722.60L88.83,722.33L90.35,722.06L91.87,721.80L93.39,721.53L94.91,721.26L96.43,720.99L97.94,720.71L99.46,720.43L100.98,720.15L102.50,719.86L104.02,719.56L105.54,719.25L107.06,718.94L108.57,718.62L110.09,718.28L111.61,717.94L113.13,717.59L114.65,717.22L116.17,716.84L117.69,716.44L119.20,716.04L120.72,715.61L122.24,715.17L123.76,714.71L125.28,714.24L126.80,713.74L128.31,713.23L129.83,712.69L131.35,712.13L132.87,711.56L134.39,710.96L135.91,710.34L137.43,709.70L138.94,709.05L140.46,708.37L141.98,707.68L143.50,706.97L145.02,706.24L146.54,705.50L148.06,704.74L149.57,703.96L151.09,703.17L152.61,702.36L154.13,701.54L155.65,700.71L157.17,699.86L158.69,699.00L160.20,698.12L161.72,697.24L163.24,696.34L164.76,695.44L166.28,694.53L167.80,693.62L169.31,692.70L170.83,691.78L172.35,690.86L173.87,689.95L175.39,689.04L176.91,688.13L178.43,687.23L179.94,686.34L181.46,685.47L182.98,684.60L184.50,683.75" fill="none" stroke="#EC3D64" stroke-width="2.6"/>
<path d="M61.50,746.38L63.02,746.31L64.54,746.21L66.06,746.08L67.57,745.94L69.09,745.78L70.61,745.59L72.13,745.38L73.65,745.15L75.17,744.89L76.69,744.62L78.20,744.32L79.72,744.00L81.24,743.65L82.76,743.28L84.28,742.89L85.80,742.48L87.31,742.04L88.83,741.58L90.35,741.09L91.87,740.58L93.39,740.05L94.91,739.49L96.43,738.91L97.94,738.30L99.46,737.67L100.98,737.02L102.50,736.34L104.02,735.63L105.54,734.90L107.06,734.15L108.57,733.37L110.09,732.56L111.61,731.73L113.13,730.88L114.65,729.99L116.17,729.09L117.69,728.15L119.20,727.19L120.72,726.21L122.24,725.19L123.76,724.15L125.28,723.09L126.80,722.00L128.31,720.88L129.83,719.73L131.35,718.56L132.87,717.36L134.39,716.15L135.91,714.93L137.43,713.71L138.94,712.48L140.46,711.26L141.98,710.06L143.50,708.87L145.02,707.70L146.54,706.56L148.06,705.46L149.57,704.39L151.09,703.37L152.61,702.40L154.13,701.48L155.65,700.63L157.17,699.84L158.69,699.11L160.20,698.43L161.72,697.82L163.24,697.25L164.76,696.74L166.28,696.28L167.80,695.86L169.31,695.48L170.83,695.15L172.35,694.85L173.87,694.59L175.39,694.36L176.91,694.16L178.43,693.98L179.94,693.84L181.46,693.71L182.98,693.61L184.50,693.52" fill="none" stroke="#000" stroke-width="5.30" stroke-linejoin="round"/>
<path d="M57.85,746.38h7.30M61.50,742.73v7.30M60.47,746.24h7.30M64.12,742.59v7.30M63.08,746.02h7.30M66.73,742.37v7.30M65.70,745.75h7.30M69.35,742.10v7.30M68.32,745.40h7.30M71.97,741.75v7.30M70.94,744.99h7.30M74.59,741.34v7.30M73.55,744.52h7.30M77.20,740.87v7.30M76.17,743.97h7.30M79.82,740.32v7.30M78.79,743.36h7.30M82.44,739.71v7.30M81.40,742.68h7.30M85.05,739.03v7.30M84.02,741.93h7.30M87.67,738.28v7.30M86.64,741.11h7.30M90.29,737.46v7.30M89.25,740.22h7.30M92.90,736.57v7.30M91.87,739.26h7.30M95.52,735.61v7.30M94.49,738.22h7.30M98.14,734.57v7.30M97.11,737.12h7.30M100.76,733.47v7.30M99.72,735.93h7.30M103.37,732.28v7.30M102.34,734.68h7.30M105.99,731.03v7.30M104.96,733.35h7.30M108.61,729.70v7.30M107.57,731.95h7.30M111.22,728.30v7.30M110.19,730.47h7.30M113.84,726.82v7.30M112.81,728.91h7.30M116.46,725.26v7.30M115.42,727.27h7.30M119.07,723.62v7.30M118.04,725.56h7.30M121.69,721.91v7.30M120.66,723.77h7.30M124.31,720.12v7.30M123.28,721.90h7.30M126.93,718.25v7.30M125.89,719.95h7.30M129.54,716.30v7.30M128.51,717.92h7.30M132.16,714.27v7.30M131.13,715.84h7.30M134.78,712.19v7.30M133.74,713.73h7.30M137.39,710.08v7.30M136.36,711.63h7.30M140.01,707.98v7.30M138.98,709.55h7.30M142.63,705.90v7.30M141.59,707.53h7.30M145.24,703.88v7.30M144.21,705.60h7.30M147.86,701.95v7.30M146.83,703.78h7.30M150.48,700.13v7.30M149.45,702.10h7.30M153.10,698.45v7.30M152.06,700.59h7.30M155.71,696.94v7.30M154.68,699.27h7.30M158.33,695.62v7.30M157.30,698.13h7.30M160.95,694.48v7.30M159.91,697.14h7.30M163.56,693.49v7.30M162.53,696.31h7.30M166.18,692.66v7.30M165.15,695.61h7.30M168.80,691.96v7.30M167.76,695.03h7.30M171.41,691.38v7.30M170.38,694.56h7.30M174.03,690.91v7.30M173.00,694.19h7.30M176.65,690.54v7.30M175.62,693.90h7.30M179.27,690.25v7.30M178.23,693.68h7.30M181.88,690.03v7.30M180.85,693.52h7.30M184.50,689.87v7.30" stroke="#000" stroke-width="1.7" fill="none"/>
<path d="M181.70,693.40H188.30M185.00,690.10V696.70" stroke="#000" stroke-width="1.6"/>
<path d="M61.50,746.38L63.02,746.31L64.54,746.21L66.06,746.08L67.57,745.94L69.09,745.78L70.61,745.59L72.13,745.38L73.65,745.15L75.17,744.89L76.69,744.62L78.20,744.32L79.72,744.00L81.24,743.65L82.76,743.28L84.28,742.89L85.80,742.48L87.31,742.04L88.83,741.58L90.35,741.09L91.87,740.58L93.39,740.05L94.91,739.49L96.43,738.91L97.94,738.30L99.46,737.67L100.98,737.02L102.50,736.34L104.02,735.63L105.54,734.90L107.06,734.15L108.57,733.37L110.09,732.56L111.61,731.73L113.13,730.88L114.65,729.99L116.17,729.09L117.69,728.15L119.20,727.19L120.72,726.21L122.24,725.19L123.76,724.15L125.28,723.09L126.80,722.00L128.31,720.88L129.83,719.73L131.35,718.56L132.87,717.36L134.39,716.15L135.91,714.93L137.43,713.71L138.94,712.48L140.46,711.26L141.98,710.06L143.50,708.87L145.02,707.70L146.54,706.56L148.06,705.46L149.57,704.39L151.09,703.37L152.61,702.40L154.13,701.48L155.65,700.63L157.17,699.84L158.69,699.11L160.20,698.43L161.72,697.82L163.24,697.25L164.76,696.74L166.28,696.28L167.80,695.86L169.31,695.48L170.83,695.15L172.35,694.85L173.87,694.59L175.39,694.36L176.91,694.16L178.43,693.98L179.94,693.84L181.46,693.71L182.98,693.61L184.50,693.52" fill="none" stroke="#12D41E" stroke-width="2.6"/>
<path d="M61.50,750.70L63.02,750.56L64.54,750.41L66.06,750.25L67.57,750.08L69.09,749.90L70.61,749.71L72.13,749.51L73.65,749.30L75.17,749.08L76.69,748.85L78.20,748.61L79.72,748.36L81.24,748.10L82.76,747.84L84.28,747.57L85.80,747.29L87.31,747.00L88.83,746.71L90.35,746.41L91.87,746.10L93.39,745.79L94.91,745.47L96.43,745.14L97.94,744.81L99.46,744.48L100.98,744.14L102.50,743.79L104.02,743.44L105.54,743.09L107.06,742.73L108.57,742.37L110.09,742.01L111.61,741.64L113.13,741.27L114.65,740.90L116.17,740.52L117.69,740.15L119.20,739.77L120.72,739.39L122.24,739.01L123.76,738.63L125.28,738.25L126.80,737.86L128.31,737.48L129.83,737.10L131.35,736.71L132.87,736.33L134.39,735.95L135.91,735.57L137.43,735.20L138.94,734.82L140.46,734.44L141.98,734.07L143.50,733.70L145.02,733.34L146.54,732.97L148.06,732.61L149.57,732.26L151.09,731.91L152.61,731.56L154.13,731.21L155.65,730.87L157.17,730.54L158.69,730.21L160.20,729.89L161.72,729.57L163.24,729.26L164.76,728.95L166.28,728.65L167.80,728.36L169.31,728.08L170.83,727.80L172.35,727.53L173.87,727.27L175.39,727.01L176.91,726.77L178.43,726.53L179.94,726.30L181.46,726.08L182.98,725.87L184.50,725.67" fill="none" stroke="#000" stroke-width="4.80" stroke-linejoin="round"/>
<path d="M58.10,750.70h6.80M61.50,747.30v6.80M60.72,750.46h6.80M64.12,747.06v6.80M63.33,750.18h6.80M66.73,746.78v6.80M65.95,749.87h6.80M69.35,746.47v6.80M68.57,749.53h6.80M71.97,746.13v6.80M71.19,749.16h6.80M74.59,745.76v6.80M73.80,748.77h6.80M77.20,745.37v6.80M76.42,748.34h6.80M79.82,744.94v6.80M79.04,747.90h6.80M82.44,744.50v6.80M81.65,747.43h6.80M85.05,744.03v6.80M84.27,746.93h6.80M87.67,743.53v6.80M86.89,746.42h6.80M90.29,743.02v6.80M89.50,745.89h6.80M92.90,742.49v6.80M92.12,745.34h6.80M95.52,741.94v6.80M94.74,744.77h6.80M98.14,741.37v6.80M97.36,744.19h6.80M100.76,740.79v6.80M99.97,743.59h6.80M103.37,740.19v6.80M102.59,742.98h6.80M105.99,739.58v6.80M105.21,742.36h6.80M108.61,738.96v6.80M107.82,741.74h6.80M111.22,738.34v6.80M110.44,741.10h6.80M113.84,737.70v6.80M113.06,740.45h6.80M116.46,737.05v6.80M115.67,739.80h6.80M119.07,736.40v6.80M118.29,739.15h6.80M121.69,735.75v6.80M120.91,738.49h6.80M124.31,735.09v6.80M123.53,737.83h6.80M126.93,734.43v6.80M126.14,737.17h6.80M129.54,733.77v6.80M128.76,736.51h6.80M132.16,733.11v6.80M131.38,735.86h6.80M134.78,732.46v6.80M133.99,735.20h6.80M137.39,731.80v6.80M136.61,734.56h6.80M140.01,731.16v6.80M139.23,733.92h6.80M142.63,730.52v6.80M141.84,733.28h6.80M145.24,729.88v6.80M144.46,732.66h6.80M147.86,729.26v6.80M147.08,732.05h6.80M150.48,728.65v6.80M149.70,731.45h6.80M153.10,728.05v6.80M152.31,730.86h6.80M155.71,727.46v6.80M154.93,730.29h6.80M158.33,726.89v6.80M157.55,729.73h6.80M160.95,726.33v6.80M160.16,729.19h6.80M163.56,725.79v6.80M162.78,728.67h6.80M166.18,725.27v6.80M165.40,728.17h6.80M168.80,724.77v6.80M168.01,727.69h6.80M171.41,724.29v6.80M170.63,727.24h6.80M174.03,723.84v6.80M173.25,726.81h6.80M176.65,723.41v6.80M175.87,726.40h6.80M179.27,723.00v6.80M178.48,726.02h6.80M181.88,722.62v6.80M181.10,725.67h6.80M184.50,722.27v6.80" stroke="#000" stroke-width="1.7" fill="none"/>
<path d="M181.70,725.60H188.30M185.00,722.30V728.90" stroke="#000" stroke-width="1.6"/>
<path d="M61.50,750.94L63.02,750.94L64.54,750.92L66.06,750.89L67.57,750.85L69.09,750.80L70.61,750.73L72.13,750.65L73.65,750.56L75.17,750.45L76.69,750.34L78.20,750.21L79.72,750.08L81.24,749.93L82.76,749.77L84.28,749.60L85.80,749.42L87.31,749.23L88.83,749.04L90.35,748.83L91.87,748.61L93.39,748.38L94.91,748.15L96.43,747.90L97.94,747.65L99.46,747.39L100.98,747.12L102.50,746.84L104.02,746.55L105.54,746.26L107.06,745.96L108.57,745.65L110.09,745.33L111.61,745.01L113.13,744.68L114.65,744.35L116.17,744.01L117.69,743.66L119.20,743.31L120.72,742.95L122.24,742.59L123.76,742.22L125.28,741.85L126.80,741.47L128.31,741.09L129.83,740.70L131.35,740.31L132.87,739.92L134.39,739.52L135.91,739.12L137.43,738.72L138.94,738.31L140.46,737.90L141.98,737.49L143.50,737.07L145.02,736.66L146.54,736.24L148.06,735.82L149.57,735.40L151.09,734.97L152.61,734.55L154.13,734.12L155.65,733.70L157.17,733.27L158.69,732.84L160.20,732.42L161.72,731.99L163.24,731.57L164.76,731.14L166.28,730.72L167.80,730.30L169.31,729.88L170.83,729.46L172.35,729.04L173.87,728.63L175.39,728.21L176.91,727.81L178.43,727.40L179.94,727.00L181.46,726.60L182.98,726.20L184.50,725.81" fill="none" stroke="#000" stroke-width="3.80" stroke-linejoin="round"/>
<path d="M58.60,750.94h5.80M61.50,748.04v5.80M61.22,750.93h5.80M64.12,748.03v5.80M63.83,750.88h5.80M66.73,747.98v5.80M66.45,750.79h5.80M69.35,747.89v5.80M69.07,750.66h5.80M71.97,747.76v5.80M71.69,750.50h5.80M74.59,747.60v5.80M74.30,750.30h5.80M77.20,747.40v5.80M76.92,750.07h5.80M79.82,747.17v5.80M79.54,749.81h5.80M82.44,746.91v5.80M82.15,749.51h5.80M85.05,746.61v5.80M84.77,749.19h5.80M87.67,746.29v5.80M87.39,748.84h5.80M90.29,745.94v5.80M90.00,748.46h5.80M92.90,745.56v5.80M92.62,748.05h5.80M95.52,745.15v5.80M95.24,747.61h5.80M98.14,744.71v5.80M97.86,747.16h5.80M100.76,744.26v5.80M100.47,746.67h5.80M103.37,743.77v5.80M103.09,746.17h5.80M105.99,743.27v5.80M105.71,745.64h5.80M108.61,742.74v5.80M108.32,745.10h5.80M111.22,742.20v5.80M110.94,744.53h5.80M113.84,741.63v5.80M113.56,743.94h5.80M116.46,741.04v5.80M116.17,743.34h5.80M119.07,740.44v5.80M118.79,742.72h5.80M121.69,739.82v5.80M121.41,742.09h5.80M124.31,739.19v5.80M124.03,741.44h5.80M126.93,738.54v5.80M126.64,740.78h5.80M129.54,737.88v5.80M129.26,740.11h5.80M132.16,737.21v5.80M131.88,739.42h5.80M134.78,736.52v5.80M134.49,738.73h5.80M137.39,735.83v5.80M137.11,738.02h5.80M140.01,735.12v5.80M139.73,737.31h5.80M142.63,734.41v5.80M142.34,736.59h5.80M145.24,733.69v5.80M144.96,735.87h5.80M147.86,732.97v5.80M147.58,735.14h5.80M150.48,732.24v5.80M150.20,734.41h5.80M153.10,731.51v5.80M152.81,733.68h5.80M155.71,730.78v5.80M155.43,732.94h5.80M158.33,730.04v5.80M158.05,732.21h5.80M160.95,729.31v5.80M160.66,731.47h5.80M163.56,728.57v5.80M163.28,730.74h5.80M166.18,727.84v5.80M165.90,730.02h5.80M168.80,727.12v5.80M168.51,729.30h5.80M171.41,726.40v5.80M171.13,728.58h5.80M174.03,725.68v5.80M173.75,727.88h5.80M176.65,724.98v5.80M176.37,727.18h5.80M179.27,724.28v5.80M178.98,726.49h5.80M181.88,723.59v5.80M181.60,725.81h5.80M184.50,722.91v5.80" stroke="#000" stroke-width="1.7" fill="none"/>
<path d="M181.70,726.00H188.30M185.00,722.70V729.30" stroke="#000" stroke-width="1.6"/>
<path d="M61.50,752.59L63.02,752.47L64.54,752.35L66.06,752.23L67.57,752.11L69.09,752.00L70.61,751.89L72.13,751.78L73.65,751.67L75.17,751.57L76.69,751.46L78.20,751.35L79.72,751.25L81.24,751.14L82.76,751.03L84.28,750.92L85.80,750.81L87.31,750.69L88.83,750.57L90.35,750.45L91.87,750.33L93.39,750.20L94.91,750.07L96.43,749.93L97.94,749.79L99.46,749.64L100.98,749.48L102.50,749.32L104.02,749.16L105.54,748.98L107.06,748.80L108.57,748.61L110.09,748.42L111.61,748.21L113.13,748.00L114.65,747.77L116.17,747.54L117.69,747.29L119.20,747.04L120.72,746.78L122.24,746.50L123.76,746.21L125.28,745.91L126.80,745.60L128.31,745.27L129.83,744.94L131.35,744.58L132.87,744.22L134.39,743.84L135.91,743.44L137.43,743.03L138.94,742.60L140.46,742.16L141.98,741.69L143.50,741.21L145.02,740.71L146.54,740.18L148.06,739.64L149.57,739.07L151.09,738.48L152.61,737.87L154.13,737.26L155.65,736.63L157.17,736.00L158.69,735.38L160.20,734.76L161.72,734.15L163.24,733.56L164.76,732.99L166.28,732.45L167.80,731.93L169.31,731.44L170.83,730.98L172.35,730.54L173.87,730.12L175.39,729.73L176.91,729.35L178.43,729.00L179.94,728.66L181.46,728.34L182.98,728.04L184.50,727.75" fill="none" stroke="#000" stroke-width="3.80" stroke-linejoin="round"/>
<path d="M58.60,752.59h5.80M61.50,749.69v5.80M61.22,752.38h5.80M64.12,749.48v5.80M63.83,752.18h5.80M66.73,749.28v5.80M66.45,751.98h5.80M69.35,749.08v5.80M69.07,751.79h5.80M71.97,748.89v5.80M71.69,751.61h5.80M74.59,748.71v5.80M74.30,751.42h5.80M77.20,748.52v5.80M76.92,751.24h5.80M79.82,748.34v5.80M79.54,751.05h5.80M82.44,748.15v5.80M82.15,750.86h5.80M85.05,747.96v5.80M84.77,750.66h5.80M87.67,747.76v5.80M87.39,750.46h5.80M90.29,747.56v5.80M90.00,750.24h5.80M92.90,747.34v5.80M92.62,750.01h5.80M95.52,747.11v5.80M95.24,749.77h5.80M98.14,746.87v5.80M97.86,749.51h5.80M100.76,746.61v5.80M100.47,749.23h5.80M103.37,746.33v5.80M103.09,748.93h5.80M105.99,746.03v5.80M105.71,748.61h5.80M108.61,745.71v5.80M108.32,748.26h5.80M111.22,745.36v5.80M110.94,747.89h5.80M113.84,744.99v5.80M113.56,747.49h5.80M116.46,744.59v5.80M116.17,747.06h5.80M119.07,744.16v5.80M118.79,746.60h5.80M121.69,743.70v5.80M121.41,746.10h5.80M124.31,743.20v5.80M124.03,745.57h5.80M126.93,742.67v5.80M126.64,745.00h5.80M129.54,742.10v5.80M129.26,744.39h5.80M132.16,741.49v5.80M131.88,743.74h5.80M134.78,740.84v5.80M134.49,743.04h5.80M137.39,740.14v5.80M137.11,742.29h5.80M140.01,739.39v5.80M139.73,741.49h5.80M142.63,738.59v5.80M142.34,740.63h5.80M145.24,737.73v5.80M144.96,739.71h5.80M147.86,736.81v5.80M147.58,738.72h5.80M150.48,735.82v5.80M150.20,737.68h5.80M153.10,734.78v5.80M152.81,736.60h5.80M155.71,733.70v5.80M155.43,735.52h5.80M158.33,732.62v5.80M158.05,734.46h5.80M160.95,731.56v5.80M160.66,733.44h5.80M163.56,730.54v5.80M163.28,732.48h5.80M166.18,729.58v5.80M165.90,731.61h5.80M168.80,728.71v5.80M168.51,730.81h5.80M171.41,727.91v5.80M171.13,730.08h5.80M174.03,727.18v5.80M173.75,729.41h5.80M176.65,726.51v5.80M176.37,728.81h5.80M179.27,725.91v5.80M178.98,728.26h5.80M181.88,725.36v5.80M181.60,727.75h5.80M184.50,724.85v5.80" stroke="#000" stroke-width="1.7" fill="none"/>
<path d="M61.50,752.59L63.02,752.47L64.54,752.35L66.06,752.23L67.57,752.11L69.09,752.00L70.61,751.89L72.13,751.78L73.65,751.67L75.17,751.57L76.69,751.46L78.20,751.35L79.72,751.25L81.24,751.14L82.76,751.03L84.28,750.92L85.80,750.81L87.31,750.69L88.83,750.57L90.35,750.45L91.87,750.33L93.39,750.20L94.91,750.07L96.43,749.93L97.94,749.79L99.46,749.64L100.98,749.48L102.50,749.32L104.02,749.16L105.54,748.98L107.06,748.80L108.57,748.61L110.09,748.42L111.61,748.21L113.13,748.00L114.65,747.77L116.17,747.54L117.69,747.29L119.20,747.04L120.72,746.78L122.24,746.50L123.76,746.21L125.28,745.91L126.80,745.60L128.31,745.27L129.83,744.94L131.35,744.58L132.87,744.22L134.39,743.84L135.91,743.44L137.43,743.03L138.94,742.60L140.46,742.16L141.98,741.69L143.50,741.21L145.02,740.71L146.54,740.18L148.06,739.64L149.57,739.07L151.09,738.48L152.61,737.87L154.13,737.26L155.65,736.63L157.17,736.00L158.69,735.38L160.20,734.76L161.72,734.15L163.24,733.56L164.76,732.99L166.28,732.45L167.80,731.93L169.31,731.44L170.83,730.98L172.35,730.54L173.87,730.12L175.39,729.73L176.91,729.35L178.43,729.00L179.94,728.66L181.46,728.34L182.98,728.04L184.50,727.75" fill="none" stroke="#F6A043" stroke-width="2.6"/>
<path d="M61.50,750.70L63.02,750.56L64.54,750.41L66.06,750.25L67.57,750.08L69.09,749.90L70.61,749.71L72.13,749.51L73.65,749.30L75.17,749.08L76.69,748.85L78.20,748.61L79.72,748.36L81.24,748.10L82.76,747.84L84.28,747.57L85.80,747.29L87.31,747.00L88.83,746.71L90.35,746.41L91.87,746.10L93.39,745.79L94.91,745.47L96.43,745.14L97.94,744.81L99.46,744.48L100.98,744.14L102.50,743.79L104.02,743.44L105.54,743.09L107.06,742.73L108.57,742.37L110.09,742.01L111.61,741.64L113.13,741.27L114.65,740.90L116.17,740.52L117.69,740.15L119.20,739.77L120.72,739.39L122.24,739.01L123.76,738.63L125.28,738.25L126.80,737.86L128.31,737.48L129.83,737.10L131.35,736.71L132.87,736.33L134.39,735.95L135.91,735.57L137.43,735.20L138.94,734.82L140.46,734.44L141.98,734.07L143.50,733.70L145.02,733.34L146.54,732.97L148.06,732.61L149.57,732.26L151.09,731.91L152.61,731.56L154.13,731.21L155.65,730.87L157.17,730.54L158.69,730.21L160.20,729.89L161.72,729.57L163.24,729.26L164.76,728.95L166.28,728.65L167.80,728.36L169.31,728.08L170.83,727.80L172.35,727.53L173.87,727.27L175.39,727.01L176.91,726.77L178.43,726.53L179.94,726.30L181.46,726.08L182.98,725.87L184.50,725.67" fill="none" stroke="#16B0E4" stroke-width="2.6"/>
<path d="M407.8,645.6V767.5H531.5" fill="none" stroke="#8a8a8a" stroke-width="1"/>
<path d="M407.8,747.17h1.5" stroke="#8a8a8a" stroke-width="1"/>
<path d="M407.8,726.83h1.5" stroke="#8a8a8a" stroke-width="1"/>
<path d="M407.8,706.50h1.5" stroke="#8a8a8a" stroke-width="1"/>
<path d="M407.8,686.17h1.5" stroke="#8a8a8a" stroke-width="1"/>
<path d="M407.8,665.83h1.5" stroke="#8a8a8a" stroke-width="1"/>
<path d="M448.97,767.5v-1.5" stroke="#8a8a8a" stroke-width="1"/>
<path d="M490.13,767.5v-1.5" stroke="#8a8a8a" stroke-width="1"/>
<text x="401.3" y="652.30" font-size="16.5" text-anchor="end" fill="#262626">12</text>
<text x="401.3" y="672.63" font-size="16.5" text-anchor="end" fill="#262626">10</text>
<text x="401.3" y="692.97" font-size="16.5" text-anchor="end" fill="#262626">8</text>
<text x="401.3" y="713.30" font-size="16.5" text-anchor="end" fill="#262626">6</text>
<text x="401.3" y="733.63" font-size="16.5" text-anchor="end" fill="#262626">4</text>
<text x="401.3" y="753.97" font-size="16.5" text-anchor="end" fill="#262626">2</text>
<text x="436.97" y="795.6" font-size="16.5" fill="#262626">10<tspan font-size="12.5" dy="-6.6">0</tspan></text>
<text x="478.13" y="795.6" font-size="16.5" fill="#262626">10<tspan font-size="12.5" dy="-6.6">2</tspan></text>
<text x="519.30" y="795.6" font-size="16.5" fill="#262626">10<tspan font-size="12.5" dy="-6.6">4</tspan></text>
<text x="470" y="817.5" font-size="16.5" text-anchor="middle" font-weight="normal" fill="#262626" >f (Hz)</text>
<text transform="translate(375.5,706) rotate(-90)" x="0" y="0" font-size="17" text-anchor="middle" fill="#262626"><tspan font-style="italic" font-family="Liberation Serif">σ</tspan>`` (mS/m)</text>
<text x="427.5" y="641.7" font-size="24" text-anchor="middle" font-weight="bold" fill="#000" >(h)</text>
<path d="M407.80,763.47L409.32,763.14L410.84,762.81L412.36,762.48L413.88,762.15L415.40,761.82L416.93,761.48L418.45,761.15L419.97,760.82L421.49,760.48L423.01,760.14L424.53,759.80L426.05,759.45L427.57,759.10L429.09,758.74L430.61,758.38L432.14,758.01L433.66,757.64L435.18,757.26L436.70,756.88L438.22,756.48L439.74,756.08L441.26,755.67L442.78,755.25L444.30,754.82L445.82,754.38L447.35,753.93L448.87,753.47L450.39,753.00L451.91,752.52L453.43,752.02L454.95,751.51L456.47,750.99L457.99,750.45L459.51,749.90L461.03,749.33L462.56,748.75L464.08,748.16L465.60,747.54L467.12,746.91L468.64,746.27L470.16,745.60L471.68,744.92L473.20,744.22L474.72,743.50L476.24,742.76L477.77,742.00L479.29,741.22L480.81,740.41L482.33,739.59L483.85,738.75L485.37,737.89L486.89,737.03L488.41,736.18L489.93,735.34L491.45,734.52L492.98,733.74L494.50,732.99L496.02,732.28L497.54,731.63L499.06,731.03L500.58,730.49L502.10,730.01L503.62,729.60L505.14,729.26L506.66,728.99L508.19,728.81L509.71,728.70L511.23,728.69L512.75,728.76L514.27,728.93L515.79,729.19L517.31,729.55L518.83,730.01L520.35,730.56L521.87,731.21L523.40,731.97L524.92,732.83L526.44,733.80L527.96,734.88L529.48,736.06L531.00,737.36" fill="none" stroke="#000" stroke-width="5.30" stroke-linejoin="round"/>
<path d="M404.15,763.47h7.30M407.80,759.82v7.30M406.77,762.90h7.30M410.42,759.25v7.30M409.39,762.33h7.30M413.04,758.68v7.30M412.01,761.76h7.30M415.66,758.11v7.30M414.64,761.19h7.30M418.29,757.54v7.30M417.26,760.61h7.30M420.91,756.96v7.30M419.88,760.02h7.30M423.53,756.37v7.30M422.50,759.43h7.30M426.15,755.78v7.30M425.12,758.82h7.30M428.77,755.17v7.30M427.74,758.20h7.30M431.39,754.55v7.30M430.36,757.55h7.30M434.01,753.90v7.30M432.98,756.89h7.30M436.63,753.24v7.30M435.61,756.21h7.30M439.26,752.56v7.30M438.23,755.50h7.30M441.88,751.85v7.30M440.85,754.77h7.30M444.50,751.12v7.30M443.47,754.00h7.30M447.12,750.35v7.30M446.09,753.20h7.30M449.74,749.55v7.30M448.71,752.37h7.30M452.36,748.72v7.30M451.33,751.50h7.30M454.98,747.85v7.30M453.95,750.59h7.30M457.60,746.94v7.30M456.58,749.64h7.30M460.23,745.99v7.30M459.20,748.64h7.30M462.85,744.99v7.30M461.82,747.60h7.30M465.47,743.95v7.30M464.44,746.50h7.30M468.09,742.85v7.30M467.06,745.36h7.30M470.71,741.71v7.30M469.68,744.16h7.30M473.33,740.51v7.30M472.30,742.90h7.30M475.95,739.25v7.30M474.92,741.58h7.30M478.57,737.93v7.30M477.55,740.20h7.30M481.20,736.55v7.30M480.17,738.76h7.30M483.82,735.11v7.30M482.79,737.29h7.30M486.44,733.64v7.30M485.41,735.82h7.30M489.06,732.17v7.30M488.03,734.40h7.30M491.68,730.75v7.30M490.65,733.08h7.30M494.30,729.43v7.30M493.27,731.89h7.30M496.92,728.24v7.30M495.89,730.85h7.30M499.54,727.20v7.30M498.52,729.99h7.30M502.17,726.34v7.30M501.14,729.33h7.30M504.79,725.68v7.30M503.76,728.89h7.30M507.41,725.24v7.30M506.38,728.69h7.30M510.03,725.04v7.30M509.00,728.76h7.30M512.65,725.11v7.30M511.62,729.09h7.30M515.27,725.44v7.30M514.24,729.71h7.30M517.89,726.06v7.30M516.86,730.62h7.30M520.51,726.97v7.30M519.49,731.84h7.30M523.14,728.19v7.30M522.11,733.36h7.30M525.76,729.71v7.30M524.73,735.19h7.30M528.38,731.54v7.30M527.35,737.36h7.30M531.00,733.71v7.30" stroke="#000" stroke-width="1.7" fill="none"/>
<path d="M528.20,737.30H534.80M531.50,734.00V740.60" stroke="#000" stroke-width="1.6"/>
<path d="M407.80,763.92L409.32,763.62L410.84,763.30L412.36,762.96L413.88,762.61L415.40,762.25L416.93,761.87L418.45,761.47L419.97,761.06L421.49,760.64L423.01,760.21L424.53,759.76L426.05,759.30L427.57,758.83L429.09,758.35L430.61,757.86L432.14,757.37L433.66,756.86L435.18,756.35L436.70,755.82L438.22,755.30L439.74,754.76L441.26,754.22L442.78,753.67L444.30,753.12L445.82,752.57L447.35,752.01L448.87,751.45L450.39,750.89L451.91,750.32L453.43,749.76L454.95,749.20L456.47,748.64L457.99,748.09L459.51,747.55L461.03,747.02L462.56,746.51L464.08,746.02L465.60,745.55L467.12,745.11L468.64,744.69L470.16,744.30L471.68,743.94L473.20,743.61L474.72,743.33L476.24,743.08L477.77,742.88L479.29,742.72L480.81,742.61L482.33,742.55L483.85,742.55L485.37,742.59L486.89,742.69L488.41,742.83L489.93,743.02L491.45,743.25L492.98,743.53L494.50,743.85L496.02,744.20L497.54,744.60L499.06,745.03L500.58,745.50L502.10,746.00L503.62,746.53L505.14,747.09L506.66,747.69L508.19,748.30L509.71,748.95L511.23,749.61L512.75,750.30L514.27,751.01L515.79,751.74L517.31,752.48L518.83,753.25L520.35,754.02L521.87,754.81L523.40,755.61L524.92,756.41L526.44,757.23L527.96,758.05L529.48,758.87L531.00,759.70" fill="none" stroke="#000" stroke-width="5.80" stroke-linejoin="round"/>
<path d="M403.90,763.92h7.80M407.80,760.02v7.80M406.52,763.39h7.80M410.42,759.49v7.80M409.14,762.81h7.80M413.04,758.91v7.80M411.76,762.18h7.80M415.66,758.28v7.80M414.39,761.51h7.80M418.29,757.61v7.80M417.01,760.80h7.80M420.91,756.90v7.80M419.63,760.05h7.80M423.53,756.15v7.80M422.25,759.27h7.80M426.15,755.37v7.80M424.87,758.46h7.80M428.77,754.56v7.80M427.49,757.61h7.80M431.39,753.71v7.80M430.11,756.74h7.80M434.01,752.84v7.80M432.73,755.85h7.80M436.63,751.95v7.80M435.36,754.93h7.80M439.26,751.03v7.80M437.98,754.00h7.80M441.88,750.10v7.80M440.60,753.05h7.80M444.50,749.15v7.80M443.22,752.09h7.80M447.12,748.19v7.80M445.84,751.13h7.80M449.74,747.23v7.80M448.46,750.15h7.80M452.36,746.25v7.80M451.08,749.18h7.80M454.98,745.28v7.80M453.70,748.23h7.80M457.60,744.33v7.80M456.33,747.30h7.80M460.23,743.40v7.80M458.95,746.42h7.80M462.85,742.52v7.80M461.57,745.59h7.80M465.47,741.69v7.80M464.19,744.83h7.80M468.09,740.93v7.80M466.81,744.16h7.80M470.71,740.26v7.80M469.43,743.59h7.80M473.33,739.69v7.80M472.05,743.13h7.80M475.95,739.23v7.80M474.67,742.79h7.80M478.57,738.89v7.80M477.30,742.59h7.80M481.20,738.69v7.80M479.92,742.55h7.80M483.82,738.65v7.80M482.54,742.65h7.80M486.44,738.75v7.80M485.16,742.91h7.80M489.06,739.01v7.80M487.78,743.29h7.80M491.68,739.39v7.80M490.40,743.80h7.80M494.30,739.90v7.80M493.02,744.44h7.80M496.92,740.54v7.80M495.64,745.18h7.80M499.54,741.28v7.80M498.27,746.02h7.80M502.17,742.12v7.80M500.89,746.96h7.80M504.79,743.06v7.80M503.51,747.98h7.80M507.41,744.08v7.80M506.13,749.09h7.80M510.03,745.19v7.80M508.75,750.26h7.80M512.65,746.36v7.80M511.37,751.49h7.80M515.27,747.59v7.80M513.99,752.77h7.80M517.89,748.87v7.80M516.61,754.10h7.80M520.51,750.20v7.80M519.24,755.47h7.80M523.14,751.57v7.80M521.86,756.86h7.80M525.76,752.96v7.80M524.48,758.28h7.80M528.38,754.38v7.80M527.10,759.70h7.80M531.00,755.80v7.80" stroke="#000" stroke-width="1.7" fill="none"/>
<path d="M528.20,759.50H534.80M531.50,756.20V762.80" stroke="#000" stroke-width="1.6"/>
<path d="M407.80,759.81L409.32,758.80L410.84,757.89L412.36,757.07L413.88,756.33L415.40,755.63L416.93,754.98L418.45,754.33L419.97,753.69L421.49,753.03L423.01,752.32L424.53,751.56L426.05,750.73L427.57,749.80L429.09,748.76L430.61,747.59L432.14,746.28L433.66,744.82L435.18,743.23L436.70,741.52L438.22,739.72L439.74,737.84L441.26,735.90L442.78,733.90L444.30,731.87L445.82,729.82L447.35,727.77L448.87,725.74L450.39,723.73L451.91,721.76L453.43,719.84L454.95,717.96L456.47,716.14L457.99,714.38L459.51,712.70L461.03,711.09L462.56,709.57L464.08,708.14L465.60,706.81L467.12,705.58L468.64,704.47L470.16,703.48L471.68,702.62L473.20,701.89L474.72,701.30L476.24,700.86L477.77,700.58L479.29,700.46L480.81,700.51L482.33,700.74L483.85,701.16L485.37,701.77L486.89,702.58L488.41,703.60L489.93,704.83L491.45,706.28L492.98,707.91L494.50,709.72L496.02,711.67L497.54,713.75L499.06,715.95L500.58,718.23L502.10,720.57L503.62,722.95L505.14,725.34L506.66,727.70L508.19,730.03L509.71,732.28L511.23,734.43L512.75,736.46L514.27,738.33L515.79,740.03L517.31,741.52L518.83,742.78L520.35,743.77L521.87,744.54L523.40,745.18L524.92,745.80L526.44,746.51L527.96,747.41L529.48,748.62L531.00,750.24" fill="none" stroke="#000" stroke-width="5.80" stroke-linejoin="round"/>
<path d="M403.90,759.81h7.80M407.80,755.91v7.80M406.52,758.13h7.80M410.42,754.23v7.80M409.14,756.73h7.80M413.04,752.83v7.80M411.76,755.52h7.80M415.66,751.62v7.80M414.39,754.40h7.80M418.29,750.50v7.80M417.01,753.28h7.80M420.91,749.38v7.80M419.63,752.07h7.80M423.53,748.17v7.80M422.25,750.67h7.80M426.15,746.77v7.80M424.87,748.99h7.80M428.77,745.09v7.80M427.49,746.94h7.80M431.39,743.04v7.80M430.11,744.46h7.80M434.01,740.56v7.80M432.73,741.60h7.80M436.63,737.70v7.80M435.36,738.45h7.80M439.26,734.55v7.80M437.98,735.09h7.80M441.88,731.19v7.80M440.60,731.61h7.80M444.50,727.71v7.80M443.22,728.08h7.80M447.12,724.18v7.80M445.84,724.58h7.80M449.74,720.68v7.80M448.46,721.18h7.80M452.36,717.28v7.80M451.08,717.92h7.80M454.98,714.02v7.80M453.70,714.82h7.80M457.60,710.92v7.80M456.33,711.94h7.80M460.23,708.04v7.80M458.95,709.29h7.80M462.85,705.39v7.80M461.57,706.92h7.80M465.47,703.02v7.80M464.19,704.86h7.80M468.09,700.96v7.80M466.81,703.16h7.80M470.71,699.26v7.80M469.43,701.83h7.80M473.33,697.93v7.80M472.05,700.94h7.80M475.95,697.04v7.80M474.67,700.50h7.80M478.57,696.60v7.80M477.30,700.55h7.80M481.20,696.65v7.80M479.92,701.15h7.80M483.82,697.25v7.80M482.54,702.31h7.80M486.44,698.41v7.80M485.16,704.10h7.80M489.06,700.20v7.80M487.78,706.51h7.80M491.68,702.61v7.80M490.40,709.48h7.80M494.30,705.58v7.80M493.02,712.90h7.80M496.92,709.00v7.80M495.64,716.67h7.80M499.54,712.77v7.80M498.27,720.67h7.80M502.17,716.77v7.80M500.89,724.78h7.80M504.79,720.88v7.80M503.51,728.85h7.80M507.41,724.95v7.80M506.13,732.74h7.80M510.03,728.84v7.80M508.75,736.33h7.80M512.65,732.43v7.80M511.37,739.47h7.80M515.27,735.57v7.80M513.99,742.03h7.80M517.89,738.13v7.80M516.61,743.87h7.80M520.51,739.97v7.80M519.24,745.08h7.80M523.14,741.18v7.80M521.86,746.18h7.80M525.76,742.28v7.80M524.48,747.71h7.80M528.38,743.81v7.80M527.10,750.24h7.80M531.00,746.34v7.80" stroke="#000" stroke-width="1.7" fill="none"/>
<path d="M528.20,750.30H534.80M531.50,747.00V753.60" stroke="#000" stroke-width="1.6"/>
<path d="M407.80,759.81L409.32,758.80L410.84,757.89L412.36,757.07L413.88,756.33L415.40,755.63L416.93,754.98L418.45,754.33L419.97,753.69L421.49,753.03L423.01,752.32L424.53,751.56L426.05,750.73L427.57,749.80L429.09,748.76L430.61,747.59L432.14,746.28L433.66,744.82L435.18,743.23L436.70,741.52L438.22,739.72L439.74,737.84L441.26,735.90L442.78,733.90L444.30,731.87L445.82,729.82L447.35,727.77L448.87,725.74L450.39,723.73L451.91,721.76L453.43,719.84L454.95,717.96L456.47,716.14L457.99,714.38L459.51,712.70L461.03,711.09L462.56,709.57L464.08,708.14L465.60,706.81L467.12,705.58L468.64,704.47L470.16,703.48L471.68,702.62L473.20,701.89L474.72,701.30L476.24,700.86L477.77,700.58L479.29,700.46L480.81,700.51L482.33,700.74L483.85,701.16L485.37,701.77L486.89,702.58L488.41,703.60L489.93,704.83L491.45,706.28L492.98,707.91L494.50,709.72L496.02,711.67L497.54,713.75L499.06,715.95L500.58,718.23L502.10,720.57L503.62,722.95L505.14,725.34L506.66,727.70L508.19,730.03L509.71,732.28L511.23,734.43L512.75,736.46L514.27,738.33L515.79,740.03L517.31,741.52L518.83,742.78L520.35,743.77L521.87,744.54L523.40,745.18L524.92,745.80L526.44,746.51L527.96,747.41L529.48,748.62L531.00,750.24" fill="none" stroke="#12D41E" stroke-width="2.6"/>
<path d="M407.80,761.03L409.32,761.17L410.84,761.07L412.36,760.76L413.88,760.26L415.40,759.60L416.93,758.80L418.45,757.88L419.97,756.89L421.49,755.83L423.01,754.74L424.53,753.64L426.05,752.56L427.57,751.53L429.09,750.57L430.61,749.71L432.14,748.94L433.66,748.27L435.18,747.68L436.70,747.16L438.22,746.69L439.74,746.28L441.26,745.91L442.78,745.57L444.30,745.26L445.82,744.97L447.35,744.69L448.87,744.44L450.39,744.20L451.91,743.97L453.43,743.76L454.95,743.55L456.47,743.34L457.99,743.13L459.51,742.92L461.03,742.70L462.56,742.47L464.08,742.21L465.60,741.93L467.12,741.62L468.64,741.27L470.16,740.88L471.68,740.44L473.20,739.93L474.72,739.34L476.24,738.62L477.77,737.77L479.29,736.76L480.81,735.57L482.33,734.19L483.85,732.65L485.37,730.98L486.89,729.22L488.41,727.41L489.93,725.58L491.45,723.76L492.98,721.96L494.50,720.21L496.02,718.53L497.54,716.92L499.06,715.42L500.58,714.04L502.10,712.76L503.62,711.60L505.14,710.54L506.66,709.58L508.19,708.73L509.71,707.97L511.23,707.32L512.75,706.75L514.27,706.28L515.79,705.91L517.31,705.64L518.83,705.46L520.35,705.39L521.87,705.41L523.40,705.54L524.92,705.76L526.44,706.09L527.96,706.52L529.48,707.05L531.00,707.69" fill="none" stroke="#000" stroke-width="5.30" stroke-linejoin="round"/>
<path d="M404.15,761.03h7.30M407.80,757.38v7.30M406.77,761.12h7.30M410.42,757.47v7.30M409.39,760.56h7.30M413.04,756.91v7.30M412.01,759.47h7.30M415.66,755.82v7.30M414.64,757.99h7.30M418.29,754.34v7.30M417.26,756.24h7.30M420.91,752.59v7.30M419.88,754.37h7.30M423.53,750.72v7.30M422.50,752.50h7.30M426.15,748.85v7.30M425.12,750.77h7.30M428.77,747.12v7.30M427.74,749.30h7.30M431.39,745.65v7.30M430.36,748.12h7.30M434.01,744.47v7.30M432.98,747.18h7.30M436.63,743.53v7.30M435.61,746.41h7.30M439.26,742.76v7.30M438.23,745.77h7.30M441.88,742.12v7.30M440.85,745.22h7.30M444.50,741.57v7.30M443.47,744.73h7.30M447.12,741.08v7.30M446.09,744.30h7.30M449.74,740.65v7.30M448.71,743.91h7.30M452.36,740.26v7.30M451.33,743.54h7.30M454.98,739.89v7.30M453.95,743.19h7.30M457.60,739.54v7.30M456.58,742.82h7.30M460.23,739.17v7.30M459.20,742.42h7.30M462.85,738.77v7.30M461.82,741.95h7.30M465.47,738.30v7.30M464.44,741.40h7.30M468.09,737.75v7.30M467.06,740.73h7.30M470.71,737.08v7.30M469.68,739.89h7.30M473.33,736.24v7.30M472.30,738.77h7.30M475.95,735.12v7.30M474.92,737.25h7.30M478.57,733.60v7.30M477.55,735.23h7.30M481.20,731.58v7.30M480.17,732.68h7.30M483.82,729.03v7.30M482.79,729.75h7.30M486.44,726.10v7.30M485.41,726.63h7.30M489.06,722.98v7.30M488.03,723.49h7.30M491.68,719.84v7.30M490.65,720.43h7.30M494.30,716.78v7.30M493.27,717.56h7.30M496.92,713.91v7.30M495.89,714.97h7.30M499.54,711.32v7.30M498.52,712.71h7.30M502.17,709.06v7.30M501.14,710.78h7.30M504.79,707.13v7.30M503.76,709.15h7.30M507.41,705.50v7.30M506.38,707.83h7.30M510.03,704.18v7.30M509.00,706.78h7.30M512.65,703.13v7.30M511.62,706.03h7.30M515.27,702.38v7.30M514.24,705.56h7.30M517.89,701.91v7.30M516.86,705.39h7.30M520.51,701.74v7.30M519.49,705.51h7.30M523.14,701.86v7.30M522.11,705.93h7.30M525.76,702.28v7.30M524.73,706.66h7.30M528.38,703.01v7.30M527.35,707.69h7.30M531.00,704.04v7.30" stroke="#000" stroke-width="1.7" fill="none"/>
<path d="M528.20,707.70H534.80M531.50,704.40V711.00" stroke="#000" stroke-width="1.6"/>
<path d="M407.80,761.03L409.32,761.17L410.84,761.07L412.36,760.76L413.88,760.26L415.40,759.60L416.93,758.80L418.45,757.88L419.97,756.89L421.49,755.83L423.01,754.74L424.53,753.64L426.05,752.56L427.57,751.53L429.09,750.57L430.61,749.71L432.14,748.94L433.66,748.27L435.18,747.68L436.70,747.16L438.22,746.69L439.74,746.28L441.26,745.91L442.78,745.57L444.30,745.26L445.82,744.97L447.35,744.69L448.87,744.44L450.39,744.20L451.91,743.97L453.43,743.76L454.95,743.55L456.47,743.34L457.99,743.13L459.51,742.92L461.03,742.70L462.56,742.47L464.08,742.21L465.60,741.93L467.12,741.62L468.64,741.27L470.16,740.88L471.68,740.44L473.20,739.93L474.72,739.34L476.24,738.62L477.77,737.77L479.29,736.76L480.81,735.57L482.33,734.19L483.85,732.65L485.37,730.98L486.89,729.22L488.41,727.41L489.93,725.58L491.45,723.76L492.98,721.96L494.50,720.21L496.02,718.53L497.54,716.92L499.06,715.42L500.58,714.04L502.10,712.76L503.62,711.60L505.14,710.54L506.66,709.58L508.19,708.73L509.71,707.97L511.23,707.32L512.75,706.75L514.27,706.28L515.79,705.91L517.31,705.64L518.83,705.46L520.35,705.39L521.87,705.41L523.40,705.54L524.92,705.76L526.44,706.09L527.96,706.52L529.48,707.05L531.00,707.69" fill="none" stroke="#EC3D64" stroke-width="2.6"/>
<path d="M407.80,762.76L409.32,762.34L410.84,761.89L412.36,761.42L413.88,760.93L415.40,760.43L416.93,759.91L418.45,759.37L419.97,758.82L421.49,758.26L423.01,757.69L424.53,757.11L426.05,756.52L427.57,755.92L429.09,755.32L430.61,754.72L432.14,754.11L433.66,753.50L435.18,752.89L436.70,752.28L438.22,751.67L439.74,751.07L441.26,750.47L442.78,749.88L444.30,749.30L445.82,748.73L447.35,748.17L448.87,747.62L450.39,747.09L451.91,746.57L453.43,746.06L454.95,745.58L456.47,745.11L457.99,744.66L459.51,744.24L461.03,743.84L462.56,743.46L464.08,743.11L465.60,742.78L467.12,742.49L468.64,742.22L470.16,741.99L471.68,741.79L473.20,741.62L474.72,741.49L476.24,741.39L477.77,741.33L479.29,741.31L480.81,741.34L482.33,741.40L483.85,741.51L485.37,741.65L486.89,741.83L488.41,742.05L489.93,742.31L491.45,742.61L492.98,742.93L494.50,743.30L496.02,743.69L497.54,744.12L499.06,744.57L500.58,745.06L502.10,745.57L503.62,746.11L505.14,746.68L506.66,747.27L508.19,747.89L509.71,748.53L511.23,749.19L512.75,749.88L514.27,750.58L515.79,751.30L517.31,752.04L518.83,752.80L520.35,753.57L521.87,754.36L523.40,755.17L524.92,755.98L526.44,756.81L527.96,757.65L529.48,758.50L531.00,759.35" fill="none" stroke="#16B0E4" stroke-width="2.6"/>
<path d="M407.80,766.40L409.32,766.42L410.84,766.43L412.36,766.40L413.88,766.36L415.40,766.29L416.93,766.20L418.45,766.08L419.97,765.94L421.49,765.78L423.01,765.59L424.53,765.38L426.05,765.15L427.57,764.89L429.09,764.61L430.61,764.31L432.14,763.98L433.66,763.64L435.18,763.27L436.70,762.87L438.22,762.46L439.74,762.02L441.26,761.56L442.78,761.08L444.30,760.58L445.82,760.05L447.35,759.50L448.87,758.93L450.39,758.34L451.91,757.73L453.43,757.09L454.95,756.44L456.47,755.76L457.99,755.06L459.51,754.35L461.03,753.61L462.56,752.86L464.08,752.10L465.60,751.32L467.12,750.53L468.64,749.74L470.16,748.94L471.68,748.13L473.20,747.31L474.72,746.49L476.24,745.65L477.77,744.79L479.29,743.91L480.81,743.01L482.33,742.09L483.85,741.16L485.37,740.22L486.89,739.28L488.41,738.36L489.93,737.46L491.45,736.59L492.98,735.76L494.50,734.99L496.02,734.28L497.54,733.63L499.06,733.04L500.58,732.54L502.10,732.11L503.62,731.77L505.14,731.52L506.66,731.37L508.19,731.31L509.71,731.34L511.23,731.47L512.75,731.69L514.27,732.00L515.79,732.40L517.31,732.89L518.83,733.45L520.35,734.10L521.87,734.84L523.40,735.65L524.92,736.53L526.44,737.49L527.96,738.53L529.48,739.64L531.00,740.82" fill="none" stroke="#F6A043" stroke-width="2.6"/>
<path d="M528.20,759.50H534.80M531.50,756.20V762.80" stroke="#000" stroke-width="1.6"/>
<path d="M528.20,737.30H534.80M531.50,734.00V740.60" stroke="#000" stroke-width="1.6"/>
<path d="M61.5,843.8V966H185" fill="none" stroke="#8a8a8a" stroke-width="1"/>
<path d="M61.5,935.45h1.5" stroke="#8a8a8a" stroke-width="1"/>
<path d="M61.5,904.90h1.5" stroke="#8a8a8a" stroke-width="1"/>
<path d="M61.5,874.35h1.5" stroke="#8a8a8a" stroke-width="1"/>
<path d="M102.67,966v-1.5" stroke="#8a8a8a" stroke-width="1"/>
<path d="M143.83,966v-1.5" stroke="#8a8a8a" stroke-width="1"/>
<text x="55.3" y="850.60" font-size="16.5" text-anchor="end" fill="#262626">80</text>
<text x="55.3" y="881.15" font-size="16.5" text-anchor="end" fill="#262626">60</text>
<text x="55.3" y="911.70" font-size="16.5" text-anchor="end" fill="#262626">40</text>
<text x="55.3" y="942.25" font-size="16.5" text-anchor="end" fill="#262626">20</text>
<text x="90.67" y="995.5" font-size="16.5" fill="#262626">10<tspan font-size="12.5" dy="-6.6">0</tspan></text>
<text x="131.83" y="995.5" font-size="16.5" fill="#262626">10<tspan font-size="12.5" dy="-6.6">2</tspan></text>
<text x="173.00" y="995.5" font-size="16.5" fill="#262626">10<tspan font-size="12.5" dy="-6.6">4</tspan></text>
<text x="124" y="1016.5" font-size="16.5" text-anchor="middle" font-weight="normal" fill="#262626" >f (Hz)</text>
<text transform="translate(28.5,905) rotate(-90)" x="0" y="0" font-size="17" text-anchor="middle" fill="#262626"><tspan font-style="italic" font-family="Liberation Serif">σ</tspan>` (mS/m)</text>
<text x="80" y="844.2" font-size="24" text-anchor="middle" font-weight="bold" fill="#000" >(i)</text>
<path d="M58.00,902.43h7.00M61.50,898.93v7.00M61.42,902.32h7.00M64.92,898.82v7.00M64.83,902.25h7.00M68.33,898.75v7.00M68.25,902.22h7.00M71.75,898.72v7.00M71.67,902.22h7.00M75.17,898.72v7.00M75.08,902.24h7.00M78.58,898.74v7.00M78.50,902.27h7.00M82.00,898.77v7.00M81.92,902.31h7.00M85.42,898.81v7.00M85.33,902.34h7.00M88.83,898.84v7.00M88.75,902.36h7.00M92.25,898.86v7.00M92.17,902.35h7.00M95.67,898.85v7.00M95.58,902.32h7.00M99.08,898.82v7.00M99.00,902.24h7.00M102.50,898.74v7.00M102.42,902.12h7.00M105.92,898.62v7.00M105.83,901.95h7.00M109.33,898.45v7.00M109.25,901.70h7.00M112.75,898.20v7.00M112.67,901.39h7.00M116.17,897.89v7.00M116.08,900.99h7.00M119.58,897.49v7.00M119.50,900.50h7.00M123.00,897.00v7.00M122.92,899.92h7.00M126.42,896.42v7.00M126.33,899.23h7.00M129.83,895.73v7.00M129.75,898.42h7.00M133.25,894.92v7.00M133.17,897.49h7.00M136.67,893.99v7.00M136.58,896.42h7.00M140.08,892.92v7.00M140.00,895.22h7.00M143.50,891.72v7.00M143.42,893.86h7.00M146.92,890.36v7.00M146.83,892.35h7.00M150.33,888.85v7.00M150.25,890.67h7.00M153.75,887.17v7.00M153.67,888.85h7.00M157.17,885.35v7.00M157.08,886.90h7.00M160.58,883.40v7.00M160.50,884.84h7.00M164.00,881.34v7.00M163.92,882.68h7.00M167.42,879.18v7.00M167.33,880.45h7.00M170.83,876.95v7.00M170.75,878.16h7.00M174.25,874.66v7.00M174.17,875.83h7.00M177.67,872.33v7.00M177.58,873.48h7.00M181.08,869.98v7.00M181.00,871.12h7.00M184.50,867.62v7.00" stroke="#000" stroke-width="1.7" fill="none"/>
<path d="M61.50,902.43L63.02,902.38L64.54,902.33L66.06,902.29L67.57,902.26L69.09,902.24L70.61,902.23L72.13,902.22L73.65,902.22L75.17,902.22L76.69,902.23L78.20,902.24L79.72,902.25L81.24,902.27L82.76,902.28L84.28,902.30L85.80,902.31L87.31,902.33L88.83,902.34L90.35,902.35L91.87,902.36L93.39,902.36L94.91,902.36L96.43,902.35L97.94,902.33L99.46,902.31L100.98,902.28L102.50,902.24L104.02,902.20L105.54,902.14L107.06,902.07L108.57,901.99L110.09,901.90L111.61,901.79L113.13,901.67L114.65,901.54L116.17,901.39L117.69,901.22L119.20,901.04L120.72,900.84L122.24,900.62L123.76,900.38L125.28,900.13L126.80,899.85L128.31,899.55L129.83,899.23L131.35,898.88L132.87,898.51L134.39,898.12L135.91,897.70L137.43,897.26L138.94,896.79L140.46,896.29L141.98,895.77L143.50,895.22L145.02,894.63L146.54,894.02L148.06,893.37L149.57,892.70L151.09,891.99L152.61,891.25L154.13,890.48L155.65,889.68L157.17,888.85L158.69,888.00L160.20,887.12L161.72,886.23L163.24,885.31L164.76,884.37L166.28,883.41L167.80,882.44L169.31,881.45L170.83,880.45L172.35,879.44L173.87,878.42L175.39,877.39L176.91,876.35L178.43,875.31L179.94,874.26L181.46,873.22L182.98,872.17L184.50,871.12" fill="none" stroke="#7A7A1E" stroke-width="2.6"/>
<path d="M58.00,926.44h7.00M61.50,922.94v7.00M61.42,926.47h7.00M64.92,922.97v7.00M64.83,926.50h7.00M68.33,923.00v7.00M68.25,926.55h7.00M71.75,923.05v7.00M71.67,926.60h7.00M75.17,923.10v7.00M75.08,926.64h7.00M78.58,923.14v7.00M78.50,926.68h7.00M82.00,923.18v7.00M81.92,926.71h7.00M85.42,923.21v7.00M85.33,926.73h7.00M88.83,923.23v7.00M88.75,926.72h7.00M92.25,923.22v7.00M92.17,926.69h7.00M95.67,923.19v7.00M95.58,926.63h7.00M99.08,923.13v7.00M99.00,926.54h7.00M102.50,923.04v7.00M102.42,926.40h7.00M105.92,922.90v7.00M105.83,926.22h7.00M109.33,922.72v7.00M109.25,925.99h7.00M112.75,922.49v7.00M112.67,925.71h7.00M116.17,922.21v7.00M116.08,925.37h7.00M119.58,921.87v7.00M119.50,924.97h7.00M123.00,921.47v7.00M122.92,924.50h7.00M126.42,921.00v7.00M126.33,923.95h7.00M129.83,920.45v7.00M129.75,923.33h7.00M133.25,919.83v7.00M133.17,922.63h7.00M136.67,919.13v7.00M136.58,921.84h7.00M140.08,918.34v7.00M140.00,920.96h7.00M143.50,917.46v7.00M143.42,919.98h7.00M146.92,916.48v7.00M146.83,918.90h7.00M150.33,915.40v7.00M150.25,917.72h7.00M153.75,914.22v7.00M153.67,916.44h7.00M157.17,912.94v7.00M157.08,915.04h7.00M160.58,911.54v7.00M160.50,913.54h7.00M164.00,910.04v7.00M163.92,911.91h7.00M167.42,908.41v7.00M167.33,910.16h7.00M170.83,906.66v7.00M170.75,908.29h7.00M174.25,904.79v7.00M174.17,906.30h7.00M177.67,902.80v7.00M177.58,904.17h7.00M181.08,900.67v7.00M181.00,901.90h7.00M184.50,898.40v7.00" stroke="#000" stroke-width="1.7" fill="none"/>
<path d="M61.50,926.44L63.02,926.45L64.54,926.46L66.06,926.48L67.57,926.49L69.09,926.51L70.61,926.53L72.13,926.55L73.65,926.57L75.17,926.60L76.69,926.62L78.20,926.64L79.72,926.66L81.24,926.68L82.76,926.69L84.28,926.71L85.80,926.72L87.31,926.72L88.83,926.73L90.35,926.73L91.87,926.72L93.39,926.72L94.91,926.70L96.43,926.68L97.94,926.65L99.46,926.62L100.98,926.58L102.50,926.54L104.02,926.48L105.54,926.42L107.06,926.35L108.57,926.26L110.09,926.17L111.61,926.07L113.13,925.96L114.65,925.84L116.17,925.71L117.69,925.57L119.20,925.41L120.72,925.24L122.24,925.06L123.76,924.87L125.28,924.66L126.80,924.44L128.31,924.20L129.83,923.95L131.35,923.69L132.87,923.40L134.39,923.11L135.91,922.79L137.43,922.46L138.94,922.11L140.46,921.74L141.98,921.36L143.50,920.96L145.02,920.53L146.54,920.09L148.06,919.63L149.57,919.15L151.09,918.65L152.61,918.13L154.13,917.59L155.65,917.02L157.17,916.44L158.69,915.83L160.20,915.20L161.72,914.55L163.24,913.88L164.76,913.18L166.28,912.47L167.80,911.72L169.31,910.96L170.83,910.16L172.35,909.35L173.87,908.51L175.39,907.64L176.91,906.75L178.43,905.83L179.94,904.89L181.46,903.92L182.98,902.92L184.50,901.90" fill="none" stroke="#12D41E" stroke-width="2.6"/>
<path d="M58.00,952.50h7.00M61.50,949.00v7.00M61.42,952.69h7.00M64.92,949.19v7.00M64.83,952.85h7.00M68.33,949.35v7.00M68.25,952.98h7.00M71.75,949.48v7.00M71.67,953.09h7.00M75.17,949.59v7.00M75.08,953.17h7.00M78.58,949.67v7.00M78.50,953.22h7.00M82.00,949.72v7.00M81.92,953.25h7.00M85.42,949.75v7.00M85.33,953.24h7.00M88.83,949.74v7.00M88.75,953.21h7.00M92.25,949.71v7.00M92.17,953.14h7.00M95.67,949.64v7.00M95.58,953.05h7.00M99.08,949.55v7.00M99.00,952.92h7.00M102.50,949.42v7.00M102.42,952.76h7.00M105.92,949.26v7.00M105.83,952.58h7.00M109.33,949.08v7.00M109.25,952.35h7.00M112.75,948.85v7.00M112.67,952.10h7.00M116.17,948.60v7.00M116.08,951.81h7.00M119.58,948.31v7.00M119.50,951.49h7.00M123.00,947.99v7.00M122.92,951.14h7.00M126.42,947.64v7.00M126.33,950.75h7.00M129.83,947.25v7.00M129.75,950.32h7.00M133.25,946.82v7.00M133.17,949.86h7.00M136.67,946.36v7.00M136.58,949.37h7.00M140.08,945.87v7.00M140.00,948.83h7.00M143.50,945.33v7.00M143.42,948.26h7.00M146.92,944.76v7.00M146.83,947.66h7.00M150.33,944.16v7.00M150.25,947.01h7.00M153.75,943.51v7.00M153.67,946.33h7.00M157.17,942.83v7.00M157.08,945.61h7.00M160.58,942.11v7.00M160.50,944.85h7.00M164.00,941.35v7.00M163.92,944.04h7.00M167.42,940.54v7.00M167.33,943.20h7.00M170.83,939.70v7.00M170.75,942.32h7.00M174.25,938.82v7.00M174.17,941.40h7.00M177.67,937.90v7.00M177.58,940.43h7.00M181.08,936.93v7.00M181.00,939.43h7.00M184.50,935.93v7.00" stroke="#000" stroke-width="1.7" fill="none"/>
<path d="M61.50,952.50L63.02,952.59L64.54,952.67L66.06,952.74L67.57,952.81L69.09,952.88L70.61,952.94L72.13,953.00L73.65,953.05L75.17,953.09L76.69,953.13L78.20,953.16L79.72,953.19L81.24,953.21L82.76,953.23L84.28,953.24L85.80,953.25L87.31,953.25L88.83,953.24L90.35,953.23L91.87,953.21L93.39,953.19L94.91,953.16L96.43,953.12L97.94,953.08L99.46,953.04L100.98,952.98L102.50,952.92L104.02,952.86L105.54,952.78L107.06,952.70L108.57,952.62L110.09,952.53L111.61,952.43L113.13,952.33L114.65,952.22L116.17,952.10L117.69,951.98L119.20,951.85L120.72,951.71L122.24,951.57L123.76,951.42L125.28,951.26L126.80,951.09L128.31,950.92L129.83,950.75L131.35,950.56L132.87,950.37L134.39,950.17L135.91,949.97L137.43,949.75L138.94,949.53L140.46,949.31L141.98,949.07L143.50,948.83L145.02,948.58L146.54,948.33L148.06,948.06L149.57,947.79L151.09,947.52L152.61,947.23L154.13,946.94L155.65,946.64L157.17,946.33L158.69,946.01L160.20,945.69L161.72,945.36L163.24,945.02L164.76,944.67L166.28,944.32L167.80,943.95L169.31,943.58L170.83,943.20L172.35,942.82L173.87,942.42L175.39,942.02L176.91,941.61L178.43,941.19L179.94,940.76L181.46,940.33L182.98,939.88L184.50,939.43" fill="none" stroke="#16B0E4" stroke-width="2.6"/>
<path d="M58.00,963.40h7.00M61.50,959.90v7.00M61.42,963.47h7.00M64.92,959.97v7.00M64.83,963.53h7.00M68.33,960.03v7.00M68.25,963.56h7.00M71.75,960.06v7.00M71.67,963.57h7.00M75.17,960.07v7.00M75.08,963.56h7.00M78.58,960.06v7.00M78.50,963.54h7.00M82.00,960.04v7.00M81.92,963.49h7.00M85.42,959.99v7.00M85.33,963.43h7.00M88.83,959.93v7.00M88.75,963.35h7.00M92.25,959.85v7.00M92.17,963.25h7.00M95.67,959.75v7.00M95.58,963.13h7.00M99.08,959.63v7.00M99.00,963.00h7.00M102.50,959.50v7.00M102.42,962.86h7.00M105.92,959.36v7.00M105.83,962.70h7.00M109.33,959.20v7.00M109.25,962.52h7.00M112.75,959.02v7.00M112.67,962.34h7.00M116.17,958.84v7.00M116.08,962.14h7.00M119.58,958.64v7.00M119.50,961.92h7.00M123.00,958.42v7.00M122.92,961.70h7.00M126.42,958.20v7.00M126.33,961.46h7.00M129.83,957.96v7.00M129.75,961.22h7.00M133.25,957.72v7.00M133.17,960.96h7.00M136.67,957.46v7.00M136.58,960.69h7.00M140.08,957.19v7.00M140.00,960.42h7.00M143.50,956.92v7.00M143.42,960.13h7.00M146.92,956.63v7.00M146.83,959.84h7.00M150.33,956.34v7.00M150.25,959.54h7.00M153.75,956.04v7.00M153.67,959.23h7.00M157.17,955.73v7.00M157.08,958.92h7.00M160.58,955.42v7.00M160.50,958.60h7.00M164.00,955.10v7.00M163.92,958.28h7.00M167.42,954.78v7.00M167.33,957.95h7.00M170.83,954.45v7.00M170.75,957.62h7.00M174.25,954.12v7.00M174.17,957.28h7.00M177.67,953.78v7.00M177.58,956.94h7.00M181.08,953.44v7.00M181.00,956.60h7.00M184.50,953.10v7.00" stroke="#000" stroke-width="1.7" fill="none"/>
<path d="M61.50,963.40L63.02,963.44L64.54,963.47L66.06,963.49L67.57,963.52L69.09,963.54L70.61,963.55L72.13,963.56L73.65,963.57L75.17,963.57L76.69,963.57L78.20,963.56L79.72,963.56L81.24,963.54L82.76,963.53L84.28,963.51L85.80,963.48L87.31,963.46L88.83,963.43L90.35,963.39L91.87,963.36L93.39,963.31L94.91,963.27L96.43,963.22L97.94,963.17L99.46,963.12L100.98,963.06L102.50,963.00L104.02,962.94L105.54,962.88L107.06,962.81L108.57,962.74L110.09,962.66L111.61,962.58L113.13,962.50L114.65,962.42L116.17,962.34L117.69,962.25L119.20,962.16L120.72,962.07L122.24,961.97L123.76,961.88L125.28,961.78L126.80,961.67L128.31,961.57L129.83,961.46L131.35,961.36L132.87,961.24L134.39,961.13L135.91,961.02L137.43,960.90L138.94,960.78L140.46,960.66L141.98,960.54L143.50,960.42L145.02,960.29L146.54,960.17L148.06,960.04L149.57,959.91L151.09,959.78L152.61,959.64L154.13,959.51L155.65,959.37L157.17,959.23L158.69,959.10L160.20,958.96L161.72,958.82L163.24,958.67L164.76,958.53L166.28,958.39L167.80,958.24L169.31,958.10L170.83,957.95L172.35,957.80L173.87,957.65L175.39,957.51L176.91,957.36L178.43,957.21L179.94,957.06L181.46,956.90L182.98,956.75L184.50,956.60" fill="none" stroke="#EC3D64" stroke-width="2.6"/>
<path d="M58.00,965.80h7.00M61.50,962.30v7.00M61.42,965.80h7.00M64.92,962.30v7.00M64.83,965.80h7.00M68.33,962.30v7.00M68.25,965.80h7.00M71.75,962.30v7.00M71.67,965.79h7.00M75.17,962.29v7.00M75.08,965.78h7.00M78.58,962.28v7.00M78.50,965.76h7.00M82.00,962.26v7.00M81.92,965.74h7.00M85.42,962.24v7.00M85.33,965.71h7.00M88.83,962.21v7.00M88.75,965.68h7.00M92.25,962.18v7.00M92.17,965.65h7.00M95.67,962.15v7.00M95.58,965.61h7.00M99.08,962.11v7.00M99.00,965.57h7.00M102.50,962.07v7.00M102.42,965.52h7.00M105.92,962.02v7.00M105.83,965.47h7.00M109.33,961.97v7.00M109.25,965.41h7.00M112.75,961.91v7.00M112.67,965.35h7.00M116.17,961.85v7.00M116.08,965.29h7.00M119.58,961.79v7.00M119.50,965.22h7.00M123.00,961.72v7.00M122.92,965.14h7.00M126.42,961.64v7.00M126.33,965.07h7.00M129.83,961.57v7.00M129.75,964.98h7.00M133.25,961.48v7.00M133.17,964.89h7.00M136.67,961.39v7.00M136.58,964.80h7.00M140.08,961.30v7.00M140.00,964.70h7.00M143.50,961.20v7.00M143.42,964.59h7.00M146.92,961.09v7.00M146.83,964.49h7.00M150.33,960.99v7.00M150.25,964.37h7.00M153.75,960.87v7.00M153.67,964.25h7.00M157.17,960.75v7.00M157.08,964.13h7.00M160.58,960.63v7.00M160.50,964.00h7.00M164.00,960.50v7.00M163.92,963.86h7.00M167.42,960.36v7.00M167.33,963.72h7.00M170.83,960.22v7.00M170.75,963.57h7.00M174.25,960.07v7.00M174.17,963.42h7.00M177.67,959.92v7.00M177.58,963.26h7.00M181.08,959.76v7.00M181.00,963.10h7.00M184.50,959.60v7.00" stroke="#000" stroke-width="1.7" fill="none"/>
<path d="M61.50,965.80L63.02,965.80L64.54,965.80L66.06,965.80L67.57,965.80L69.09,965.80L70.61,965.80L72.13,965.80L73.65,965.79L75.17,965.79L76.69,965.78L78.20,965.78L79.72,965.77L81.24,965.76L82.76,965.75L84.28,965.74L85.80,965.73L87.31,965.72L88.83,965.71L90.35,965.70L91.87,965.69L93.39,965.67L94.91,965.66L96.43,965.64L97.94,965.62L99.46,965.61L100.98,965.59L102.50,965.57L104.02,965.55L105.54,965.53L107.06,965.51L108.57,965.48L110.09,965.46L111.61,965.43L113.13,965.41L114.65,965.38L116.17,965.35L117.69,965.33L119.20,965.30L120.72,965.27L122.24,965.23L123.76,965.20L125.28,965.17L126.80,965.14L128.31,965.10L129.83,965.07L131.35,965.03L132.87,964.99L134.39,964.95L135.91,964.91L137.43,964.87L138.94,964.83L140.46,964.79L141.98,964.74L143.50,964.70L145.02,964.65L146.54,964.61L148.06,964.56L149.57,964.51L151.09,964.46L152.61,964.41L154.13,964.36L155.65,964.30L157.17,964.25L158.69,964.20L160.20,964.14L161.72,964.08L163.24,964.03L164.76,963.97L166.28,963.91L167.80,963.84L169.31,963.78L170.83,963.72L172.35,963.65L173.87,963.59L175.39,963.52L176.91,963.46L178.43,963.39L179.94,963.32L181.46,963.25L182.98,963.17L184.50,963.10" fill="none" stroke="#F6A043" stroke-width="2.6"/>
<rect x="236.3" y="842.4" width="96.5" height="140.6" fill="#fff" stroke="#8a8a8a" stroke-width="1"/>
<path d="M241.5,881.60H282.4" stroke="#F6A043" stroke-width="2.3"/>
<text x="285.4" y="888.1" font-size="16.7" text-anchor="start" font-weight="normal" fill="#000" >0.023</text>
<path d="M241.5,903.70H282.4" stroke="#EC3D64" stroke-width="2.3"/>
<text x="285.4" y="910.2" font-size="16.7" text-anchor="start" font-weight="normal" fill="#000" >0.069</text>
<path d="M241.5,925.80H282.4" stroke="#16B0E4" stroke-width="2.3"/>
<text x="285.4" y="932.3000000000001" font-size="16.7" text-anchor="start" font-weight="normal" fill="#000" >0.230</text>
<path d="M241.5,947.90H282.4" stroke="#12D41E" stroke-width="2.3"/>
<text x="285.4" y="954.4000000000001" font-size="16.7" text-anchor="start" font-weight="normal" fill="#000" >0.690</text>
<path d="M241.5,970.00H282.4" stroke="#7A7A1E" stroke-width="2.3"/>
<text x="285.4" y="976.5" font-size="16.7" text-anchor="start" font-weight="normal" fill="#000" >1.150</text>
<path d="M236.3,868.5H332.8" stroke="#8a8a8a" stroke-width="1"/>
<text x="284.5" y="862.3" font-size="16.8" text-anchor="middle" font-weight="bold" fill="#000" >NaCl (mg/l)</text>
<path d="M407.8,843.8V967H531.5" fill="none" stroke="#8a8a8a" stroke-width="1"/>
<path d="M407.8,946.47h1.5" stroke="#8a8a8a" stroke-width="1"/>
<path d="M407.8,925.93h1.5" stroke="#8a8a8a" stroke-width="1"/>
<path d="M407.8,905.40h1.5" stroke="#8a8a8a" stroke-width="1"/>
<path d="M407.8,884.87h1.5" stroke="#8a8a8a" stroke-width="1"/>
<path d="M407.8,864.33h1.5" stroke="#8a8a8a" stroke-width="1"/>
<path d="M448.97,967v-1.5" stroke="#8a8a8a" stroke-width="1"/>
<path d="M490.13,967v-1.5" stroke="#8a8a8a" stroke-width="1"/>
<text x="401.3" y="850.60" font-size="16.5" text-anchor="end" fill="#262626">12</text>
<text x="401.3" y="871.13" font-size="16.5" text-anchor="end" fill="#262626">10</text>
<text x="401.3" y="891.67" font-size="16.5" text-anchor="end" fill="#262626">8</text>
<text x="401.3" y="912.20" font-size="16.5" text-anchor="end" fill="#262626">6</text>
<text x="401.3" y="932.73" font-size="16.5" text-anchor="end" fill="#262626">4</text>
<text x="401.3" y="953.27" font-size="16.5" text-anchor="end" fill="#262626">2</text>
<text x="436.97" y="995.5" font-size="16.5" fill="#262626">10<tspan font-size="12.5" dy="-6.6">0</tspan></text>
<text x="478.13" y="995.5" font-size="16.5" fill="#262626">10<tspan font-size="12.5" dy="-6.6">2</tspan></text>
<text x="519.30" y="995.5" font-size="16.5" fill="#262626">10<tspan font-size="12.5" dy="-6.6">4</tspan></text>
<text x="470" y="1016.5" font-size="16.5" text-anchor="middle" font-weight="normal" fill="#262626" >f (Hz)</text>
<text transform="translate(375.5,905.1) rotate(-90)" x="0" y="0" font-size="17" text-anchor="middle" fill="#262626"><tspan font-style="italic" font-family="Liberation Serif">σ</tspan>`` (mS/m)</text>
<text x="424.8" y="844.7" font-size="24" text-anchor="middle" font-weight="bold" fill="#000" >(j)</text>
<path d="M404.50,965.50h7.00M408.00,962.00v7.00M407.92,965.87h7.00M411.42,962.37v7.00M411.33,966.16h7.00M414.83,962.66v7.00M414.75,966.37h7.00M418.25,962.87v7.00M418.17,966.50h7.00M421.67,963.00v7.00M421.58,966.57h7.00M425.08,963.07v7.00M425.00,966.58h7.00M428.50,963.08v7.00M428.42,966.52h7.00M431.92,963.02v7.00M431.83,966.42h7.00M435.33,962.92v7.00M435.25,966.27h7.00M438.75,962.77v7.00M438.67,966.07h7.00M442.17,962.57v7.00M442.08,965.84h7.00M445.58,962.34v7.00M445.50,965.58h7.00M449.00,962.08v7.00M448.92,965.30h7.00M452.42,961.80v7.00M452.33,964.99h7.00M455.83,961.49v7.00M455.75,964.67h7.00M459.25,961.17v7.00M459.17,964.34h7.00M462.67,960.84v7.00M462.58,964.00h7.00M466.08,960.50v7.00M466.00,963.67h7.00M469.50,960.17v7.00M469.42,963.34h7.00M472.92,959.84v7.00M472.83,963.03h7.00M476.33,959.53v7.00M476.25,962.73h7.00M479.75,959.23v7.00M479.67,962.46h7.00M483.17,958.96v7.00M483.08,962.21h7.00M486.58,958.71v7.00M486.50,962.00h7.00M490.00,958.50v7.00M489.92,961.83h7.00M493.42,958.33v7.00M493.33,961.70h7.00M496.83,958.20v7.00M496.75,961.62h7.00M500.25,958.12v7.00M500.17,961.59h7.00M503.67,958.09v7.00M503.58,961.62h7.00M507.08,958.12v7.00M507.00,961.72h7.00M510.50,958.22v7.00M510.42,961.90h7.00M513.92,958.40v7.00M513.83,962.14h7.00M517.33,958.64v7.00M517.25,962.47h7.00M520.75,958.97v7.00M520.67,962.89h7.00M524.17,959.39v7.00M524.08,963.39h7.00M527.58,959.89v7.00M527.50,964.00h7.00M531.00,960.50v7.00" stroke="#000" stroke-width="1.7" fill="none"/>
<path d="M408.00,965.50L409.52,965.68L411.04,965.84L412.56,965.98L414.07,966.10L415.59,966.21L417.11,966.31L418.63,966.39L420.15,966.45L421.67,966.50L423.19,966.54L424.70,966.57L426.22,966.58L427.74,966.58L429.26,966.57L430.78,966.55L432.30,966.51L433.81,966.47L435.33,966.42L436.85,966.36L438.37,966.28L439.89,966.21L441.41,966.12L442.93,966.02L444.44,965.92L445.96,965.81L447.48,965.70L449.00,965.58L450.52,965.46L452.04,965.33L453.56,965.20L455.07,965.06L456.59,964.92L458.11,964.78L459.63,964.63L461.15,964.49L462.67,964.34L464.19,964.19L465.70,964.04L467.22,963.89L468.74,963.74L470.26,963.60L471.78,963.45L473.30,963.31L474.81,963.17L476.33,963.03L477.85,962.90L479.37,962.77L480.89,962.64L482.41,962.52L483.93,962.40L485.44,962.29L486.96,962.19L488.48,962.09L490.00,962.00L491.52,961.92L493.04,961.84L494.56,961.78L496.07,961.72L497.59,961.67L499.11,961.64L500.63,961.61L502.15,961.59L503.67,961.59L505.19,961.60L506.70,961.62L508.22,961.65L509.74,961.70L511.26,961.76L512.78,961.83L514.30,961.92L515.81,962.02L517.33,962.14L518.85,962.28L520.37,962.43L521.89,962.60L523.41,962.79L524.93,962.99L526.44,963.21L527.96,963.46L529.48,963.72L531.00,964.00" fill="none" stroke="#F6A043" stroke-width="2.6"/>
<path d="M404.50,964.98h7.00M408.00,961.48v7.00M407.92,964.93h7.00M411.42,961.43v7.00M411.33,964.90h7.00M414.83,961.40v7.00M414.75,964.88h7.00M418.25,961.38v7.00M418.17,964.87h7.00M421.67,961.37v7.00M421.58,964.86h7.00M425.08,961.36v7.00M425.00,964.84h7.00M428.50,961.34v7.00M428.42,964.81h7.00M431.92,961.31v7.00M431.83,964.76h7.00M435.33,961.26v7.00M435.25,964.68h7.00M438.75,961.18v7.00M438.67,964.57h7.00M442.17,961.07v7.00M442.08,964.41h7.00M445.58,960.91v7.00M445.50,964.21h7.00M449.00,960.71v7.00M448.92,963.96h7.00M452.42,960.46v7.00M452.33,963.65h7.00M455.83,960.15v7.00M455.75,963.27h7.00M459.25,959.77v7.00M459.17,962.81h7.00M462.67,959.31v7.00M462.58,962.28h7.00M466.08,958.78v7.00M466.00,961.66h7.00M469.50,958.16v7.00M469.42,960.95h7.00M472.92,957.45v7.00M472.83,960.18h7.00M476.33,956.68v7.00M476.25,959.41h7.00M479.75,955.91v7.00M479.67,958.68h7.00M483.17,955.18v7.00M483.08,958.04h7.00M486.58,954.54v7.00M486.50,957.53h7.00M490.00,954.03v7.00M489.92,957.20h7.00M493.42,953.70v7.00M493.33,957.02h7.00M496.83,953.52v7.00M496.75,956.97h7.00M500.25,953.47v7.00M500.17,957.04h7.00M503.67,953.54v7.00M503.58,957.18h7.00M507.08,953.68v7.00M507.00,957.38h7.00M510.50,953.88v7.00M510.42,957.62h7.00M513.92,954.12v7.00M513.83,957.86h7.00M517.33,954.36v7.00M517.25,958.09h7.00M520.75,954.59v7.00M520.67,958.27h7.00M524.17,954.77v7.00M524.08,958.38h7.00M527.58,954.88v7.00M527.50,958.40h7.00M531.00,954.90v7.00" stroke="#000" stroke-width="1.7" fill="none"/>
<path d="M408.00,964.98L409.52,964.95L411.04,964.93L412.56,964.92L414.07,964.90L415.59,964.89L417.11,964.88L418.63,964.88L420.15,964.87L421.67,964.87L423.19,964.86L424.70,964.86L426.22,964.85L427.74,964.84L429.26,964.83L430.78,964.82L432.30,964.80L433.81,964.78L435.33,964.76L436.85,964.72L438.37,964.69L439.89,964.64L441.41,964.59L442.93,964.54L444.44,964.47L445.96,964.39L447.48,964.31L449.00,964.21L450.52,964.11L452.04,963.99L453.56,963.86L455.07,963.72L456.59,963.57L458.11,963.40L459.63,963.22L461.15,963.02L462.67,962.81L464.19,962.59L465.70,962.34L467.22,962.08L468.74,961.80L470.26,961.51L471.78,961.19L473.30,960.86L474.81,960.52L476.33,960.18L477.85,959.84L479.37,959.49L480.89,959.16L482.41,958.84L483.93,958.53L485.44,958.24L486.96,957.97L488.48,957.74L490.00,957.53L491.52,957.36L493.04,957.22L494.56,957.12L496.07,957.04L497.59,957.00L499.11,956.97L500.63,956.98L502.15,957.00L503.67,957.04L505.19,957.09L506.70,957.16L508.22,957.24L509.74,957.34L511.26,957.43L512.78,957.54L514.30,957.65L515.81,957.75L517.33,957.86L518.85,957.96L520.37,958.06L521.89,958.15L523.41,958.23L524.93,958.30L526.44,958.35L527.96,958.39L529.48,958.40L531.00,958.40" fill="none" stroke="#EC3D64" stroke-width="2.6"/>
<path d="M404.50,965.01h7.00M408.00,961.51v7.00M407.92,964.89h7.00M411.42,961.39v7.00M411.33,964.78h7.00M414.83,961.28v7.00M414.75,964.68h7.00M418.25,961.18v7.00M418.17,964.58h7.00M421.67,961.08v7.00M421.58,964.48h7.00M425.08,960.98v7.00M425.00,964.38h7.00M428.50,960.88v7.00M428.42,964.26h7.00M431.92,960.76v7.00M431.83,964.12h7.00M435.33,960.62v7.00M435.25,963.96h7.00M438.75,960.46v7.00M438.67,963.76h7.00M442.17,960.26v7.00M442.08,963.54h7.00M445.58,960.04v7.00M445.50,963.27h7.00M449.00,959.77v7.00M448.92,962.96h7.00M452.42,959.46v7.00M452.33,962.59h7.00M455.83,959.09v7.00M455.75,962.17h7.00M459.25,958.67v7.00M459.17,961.68h7.00M462.67,958.18v7.00M462.58,961.13h7.00M466.08,957.63v7.00M466.00,960.51h7.00M469.50,957.01v7.00M469.42,959.80h7.00M472.92,956.30v7.00M472.83,959.00h7.00M476.33,955.50v7.00M476.25,958.08h7.00M479.75,954.58v7.00M479.67,957.03h7.00M483.17,953.53v7.00M483.08,955.83h7.00M486.58,952.33v7.00M486.50,954.46h7.00M490.00,950.96v7.00M489.92,952.92h7.00M493.42,949.42v7.00M493.33,951.26h7.00M496.83,947.76v7.00M496.75,949.55h7.00M500.25,946.05v7.00M500.17,947.87h7.00M503.67,944.37v7.00M503.58,946.28h7.00M507.08,942.78v7.00M507.00,944.85h7.00M510.50,941.35v7.00M510.42,943.66h7.00M513.92,940.16v7.00M513.83,942.78h7.00M517.33,939.28v7.00M517.25,942.26h7.00M520.75,938.76v7.00M520.67,942.20h7.00M524.17,938.70v7.00M524.08,942.65h7.00M527.58,939.15v7.00M527.50,943.68h7.00M531.00,940.18v7.00" stroke="#000" stroke-width="1.7" fill="none"/>
<path d="M408.00,965.01L409.52,964.96L411.04,964.90L412.56,964.85L414.07,964.80L415.59,964.76L417.11,964.71L418.63,964.67L420.15,964.63L421.67,964.58L423.19,964.54L424.70,964.49L426.22,964.45L427.74,964.40L429.26,964.35L430.78,964.30L432.30,964.24L433.81,964.18L435.33,964.12L436.85,964.05L438.37,963.98L439.89,963.90L441.41,963.81L442.93,963.72L444.44,963.62L445.96,963.51L447.48,963.39L449.00,963.27L450.52,963.14L452.04,962.99L453.56,962.84L455.07,962.68L456.59,962.50L458.11,962.32L459.63,962.12L461.15,961.91L462.67,961.68L464.19,961.45L465.70,961.20L467.22,960.93L468.74,960.65L470.26,960.36L471.78,960.04L473.30,959.71L474.81,959.37L476.33,959.00L477.85,958.60L479.37,958.19L480.89,957.75L482.41,957.28L483.93,956.78L485.44,956.25L486.96,955.69L488.48,955.09L490.00,954.46L491.52,953.80L493.04,953.10L494.56,952.38L496.07,951.64L497.59,950.88L499.11,950.12L500.63,949.36L502.15,948.61L503.67,947.87L505.19,947.15L506.70,946.45L508.22,945.78L509.74,945.15L511.26,944.57L512.78,944.03L514.30,943.55L515.81,943.13L517.33,942.78L518.85,942.50L520.37,942.30L521.89,942.19L523.41,942.17L524.93,942.25L526.44,942.44L527.96,942.73L529.48,943.15L531.00,943.68" fill="none" stroke="#16B0E4" stroke-width="2.6"/>
<path d="M404.50,965.00h7.00M408.00,961.50v7.00M407.92,964.39h7.00M411.42,960.89v7.00M411.33,963.99h7.00M414.83,960.49v7.00M414.75,963.74h7.00M418.25,960.24v7.00M418.17,963.64h7.00M421.67,960.14v7.00M421.58,963.63h7.00M425.08,960.13v7.00M425.00,963.69h7.00M428.50,960.19v7.00M428.42,963.79h7.00M431.92,960.29v7.00M431.83,963.90h7.00M435.33,960.40v7.00M435.25,963.97h7.00M438.75,960.47v7.00M438.67,963.98h7.00M442.17,960.48v7.00M442.08,963.91h7.00M445.58,960.41v7.00M445.50,963.70h7.00M449.00,960.20v7.00M448.92,963.34h7.00M452.42,959.84v7.00M452.33,962.79h7.00M455.83,959.29v7.00M455.75,962.01h7.00M459.25,958.51v7.00M459.17,960.98h7.00M462.67,957.48v7.00M462.58,959.66h7.00M466.08,956.16v7.00M466.00,958.02h7.00M469.50,954.52v7.00M469.42,956.04h7.00M472.92,952.54v7.00M472.83,953.68h7.00M476.33,950.18v7.00M476.25,950.92h7.00M479.75,947.42v7.00M479.67,947.77h7.00M483.17,944.27v7.00M483.08,944.32h7.00M486.58,940.82v7.00M486.50,940.71h7.00M490.00,937.21v7.00M489.92,937.10h7.00M493.42,933.60v7.00M493.33,933.62h7.00M496.83,930.12v7.00M496.75,930.29h7.00M500.25,926.79v7.00M500.17,927.02h7.00M503.67,923.52v7.00M503.58,923.72h7.00M507.08,920.22v7.00M507.00,920.32h7.00M510.50,916.82v7.00M510.42,916.83h7.00M513.92,913.33v7.00M513.83,913.56h7.00M517.33,910.06v7.00M517.25,910.87h7.00M520.75,907.37v7.00M520.67,909.13h7.00M524.17,905.63v7.00M524.08,908.69h7.00M527.58,905.19v7.00M527.50,909.91h7.00M531.00,906.41v7.00" stroke="#000" stroke-width="1.7" fill="none"/>
<path d="M408.00,965.00L409.52,964.70L411.04,964.45L412.56,964.24L414.07,964.06L415.59,963.92L417.11,963.81L418.63,963.73L420.15,963.67L421.67,963.64L423.19,963.62L424.70,963.63L426.22,963.64L427.74,963.67L429.26,963.71L430.78,963.76L432.30,963.80L433.81,963.85L435.33,963.90L436.85,963.93L438.37,963.96L439.89,963.98L441.41,963.99L442.93,963.98L444.44,963.94L445.96,963.89L447.48,963.81L449.00,963.70L450.52,963.56L452.04,963.39L453.56,963.18L455.07,962.93L456.59,962.63L458.11,962.29L459.63,961.91L461.15,961.47L462.67,960.98L464.19,960.43L465.70,959.82L467.22,959.15L468.74,958.41L470.26,957.61L471.78,956.74L473.30,955.79L474.81,954.77L476.33,953.68L477.85,952.51L479.37,951.25L480.89,949.91L482.41,948.50L483.93,947.02L485.44,945.49L486.96,943.92L488.48,942.32L490.00,940.71L491.52,939.10L493.04,937.50L494.56,935.92L496.07,934.38L497.59,932.87L499.11,931.38L500.63,929.92L502.15,928.47L503.67,927.02L505.19,925.56L506.70,924.09L508.22,922.61L509.74,921.09L511.26,919.54L512.78,917.98L514.30,916.44L515.81,914.96L517.33,913.56L518.85,912.27L520.37,911.13L521.89,910.17L523.41,909.41L524.93,908.90L526.44,908.67L527.96,908.74L529.48,909.14L531.00,909.91" fill="none" stroke="#12D41E" stroke-width="2.6"/>
<path d="M404.50,965.00h7.00M408.00,961.50v7.00M407.92,965.09h7.00M411.42,961.59v7.00M411.33,965.15h7.00M414.83,961.65v7.00M414.75,965.17h7.00M418.25,961.67v7.00M418.17,965.14h7.00M421.67,961.64v7.00M421.58,965.07h7.00M425.08,961.57v7.00M425.00,964.94h7.00M428.50,961.44v7.00M428.42,964.76h7.00M431.92,961.26v7.00M431.83,964.51h7.00M435.33,961.01v7.00M435.25,964.21h7.00M438.75,960.71v7.00M438.67,963.84h7.00M442.17,960.34v7.00M442.08,963.40h7.00M445.58,959.90v7.00M445.50,962.89h7.00M449.00,959.39v7.00M448.92,962.31h7.00M452.42,958.81v7.00M452.33,961.64h7.00M455.83,958.14v7.00M455.75,960.90h7.00M459.25,957.40v7.00M459.17,960.07h7.00M462.67,956.57v7.00M462.58,959.10h7.00M466.08,955.60v7.00M466.00,957.93h7.00M469.50,954.43v7.00M469.42,956.50h7.00M472.92,953.00v7.00M472.83,954.74h7.00M476.33,951.24v7.00M476.25,952.60h7.00M479.75,949.10v7.00M479.67,950.01h7.00M483.17,946.51v7.00M483.08,946.91h7.00M486.58,943.41v7.00M486.50,943.23h7.00M490.00,939.73v7.00M489.92,938.90h7.00M493.42,935.40v7.00M493.33,933.88h7.00M496.83,930.38v7.00M496.75,928.09h7.00M500.25,924.59v7.00M500.17,921.56h7.00M503.67,918.06v7.00M503.58,914.61h7.00M507.08,911.11v7.00M507.00,907.61h7.00M510.50,904.11v7.00M510.42,900.95h7.00M513.92,897.45v7.00M513.83,894.99h7.00M517.33,891.49v7.00M517.25,890.12h7.00M520.75,886.62v7.00M520.67,886.70h7.00M524.17,883.20v7.00M524.08,884.69h7.00M527.58,881.19v7.00M527.50,883.37h7.00M531.00,879.87v7.00" stroke="#000" stroke-width="1.7" fill="none"/>
<path d="M408.00,965.00L409.52,965.04L411.04,965.08L412.56,965.12L414.07,965.14L415.59,965.16L417.11,965.17L418.63,965.17L420.15,965.16L421.67,965.14L423.19,965.12L424.70,965.08L426.22,965.03L427.74,964.97L429.26,964.90L430.78,964.82L432.30,964.73L433.81,964.63L435.33,964.51L436.85,964.39L438.37,964.25L439.89,964.09L441.41,963.93L442.93,963.75L444.44,963.56L445.96,963.35L447.48,963.13L449.00,962.89L450.52,962.64L452.04,962.38L453.56,962.10L455.07,961.80L456.59,961.49L458.11,961.16L459.63,960.81L461.15,960.45L462.67,960.07L464.19,959.65L465.70,959.21L467.22,958.73L468.74,958.21L470.26,957.63L471.78,957.01L473.30,956.32L474.81,955.57L476.33,954.74L477.85,953.84L479.37,952.86L480.89,951.79L482.41,950.63L483.93,949.37L485.44,948.00L486.96,946.53L488.48,944.94L490.00,943.23L491.52,941.39L493.04,939.42L494.56,937.31L496.07,935.06L497.59,932.66L499.11,930.11L500.63,927.39L502.15,924.53L503.67,921.56L505.19,918.50L506.70,915.39L508.22,912.26L509.74,909.15L511.26,906.09L512.78,903.11L514.30,900.25L515.81,897.53L517.33,894.99L518.85,892.67L520.37,890.60L521.89,888.80L523.41,887.32L524.93,886.16L526.44,885.24L527.96,884.52L529.48,883.92L531.00,883.37" fill="none" stroke="#7A7A1E" stroke-width="2.6"/>
</svg></body></html>
